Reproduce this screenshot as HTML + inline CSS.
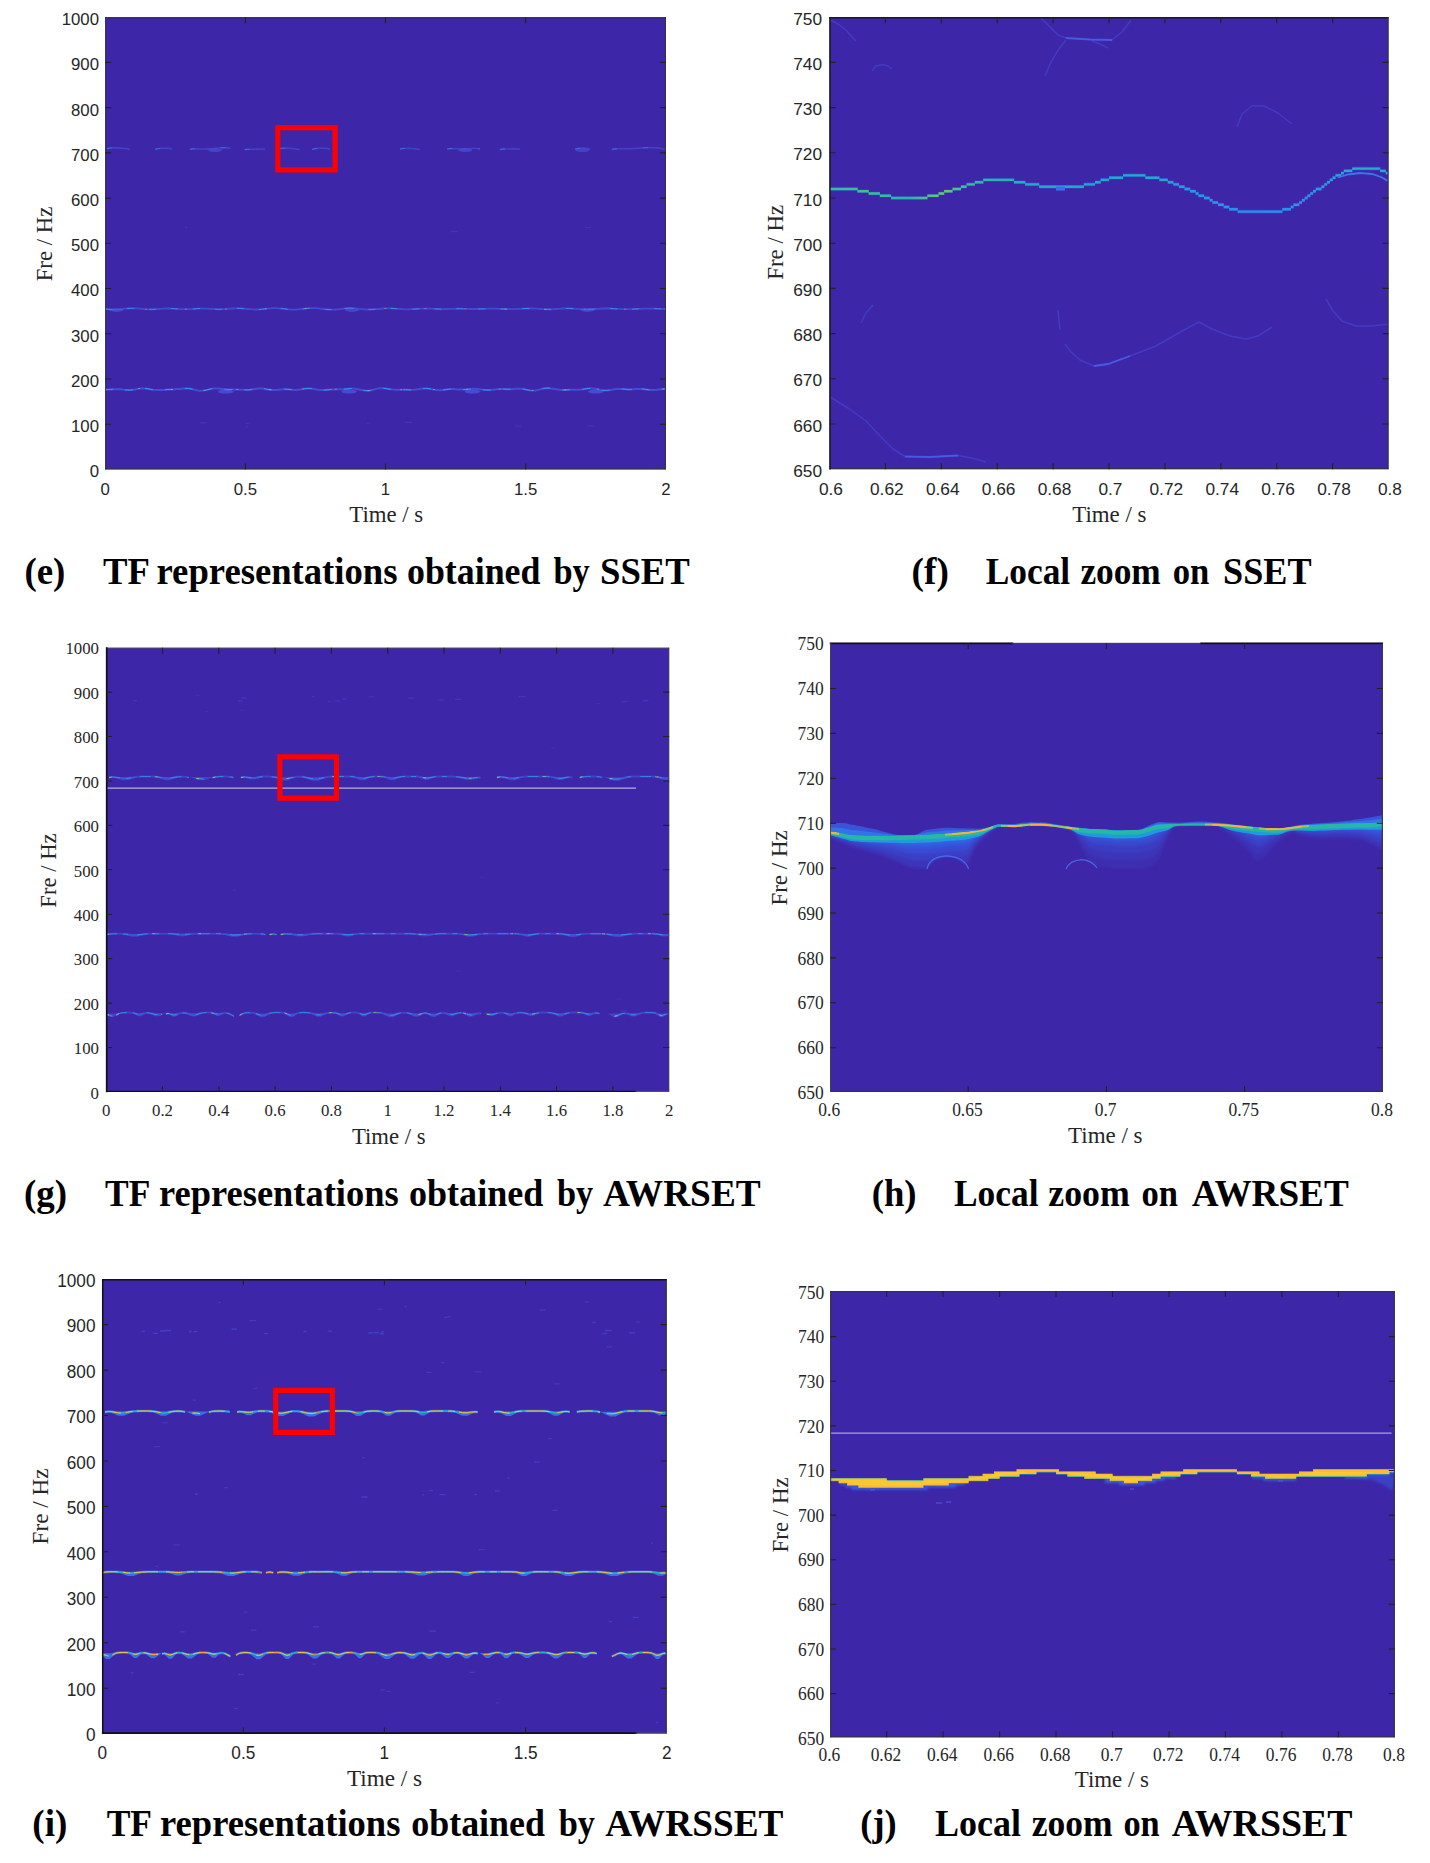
<!DOCTYPE html>
<html lang="en"><head><meta charset="utf-8">
<title>TF representations: SSET, AWRSET, AWRSSET</title>
<style>html,body{margin:0;padding:0;background:#fff}body{width:1430px;height:1863px;overflow:hidden}</style>
</head><body>
<svg width="1430" height="1863" viewBox="0 0 1430 1863" style="display:block">
<rect width="1430" height="1863" fill="#fff"/>
<g id="panel-e">
<rect x="105.2" y="17.2" width="560.7" height="452.2" fill="#3e26a8"/>
<clipPath id="clip-e"><rect x="105.2" y="17.2" width="560.7" height="452.2"/></clipPath>
<g clip-path="url(#clip-e)">
<path d="M106.9 148.7 109.4 148.1 112.0 147.9 114.5 147.9 117.1 147.9 119.7 148.1 122.2 148.3 124.8 148.5 127.3 148.8 129.9 149.5M155.1 149.3 157.9 148.7 160.7 148.4 163.5 148.3 166.3 148.3 169.1 148.4 171.9 148.9M189.9 149.3 192.4 148.9 194.9 148.9 197.4 148.9 200.0 149.0 202.5 149.0 205.0 149.0 207.5 148.9 210.1 148.8 212.6 148.6 215.1 148.4 217.6 148.2 220.1 147.9 222.7 147.8 225.2 147.8 227.7 147.9 230.2 148.4M244.8 149.6 247.3 149.3 249.9 149.3 252.4 149.2 254.9 149.2 257.4 149.1 260.0 149.0 262.5 149.0 265.0 149.3M280.1 148.6 282.9 148.2 285.7 148.1 288.5 148.3 291.4 148.5 294.2 148.7 297.0 149.1 299.8 149.7M312.1 149.4 314.7 148.7 317.2 148.4 319.8 148.3 322.4 148.2 324.9 148.3 327.5 148.5 330.0 149.1M400.1 149.0 402.9 148.5 405.7 148.3 408.5 148.4 411.3 148.5 414.1 148.7 416.9 149.0 419.8 149.6M447.2 149.0 449.7 148.6 452.2 148.5 454.7 148.6 457.2 148.7 459.7 148.7 462.2 148.8 464.7 148.8 467.2 148.7 469.7 148.6 472.2 148.5 474.7 148.4 477.2 148.5 479.7 148.9M499.9 149.5 502.5 149.1 505.0 149.0 507.5 149.0 510.0 149.0 512.5 148.9 515.1 148.9 517.6 149.0 520.1 149.3M575.1 149.1 577.6 148.5 580.1 148.3 582.6 148.1 585.2 148.2 587.7 148.5 590.2 149.0M612.1 149.4 614.6 148.9 617.1 148.8 619.6 148.8 622.1 148.8 624.6 148.8 627.1 148.8 629.6 148.7 632.2 148.6 634.7 148.5 637.2 148.3 639.7 148.2 642.2 148.0 644.7 147.8 647.2 147.7 649.7 147.6 652.2 147.7 654.7 147.7 657.2 147.9 659.8 148.2 662.3 148.7 664.8 149.4" fill="none" stroke="#4a63f2" stroke-width="1.6" stroke-opacity="0.45" stroke-linecap="butt"/>
<path d="M106.9 148.7 109.4 148.1 112.0 147.9 114.5 147.9 117.1 147.9 119.7 148.1 122.2 148.3 124.8 148.5 127.3 148.8 129.9 149.5M155.1 149.3 157.9 148.7 160.7 148.4 163.5 148.3 166.3 148.3 169.1 148.4 171.9 148.9M189.9 149.3 192.4 148.9 194.9 148.9 197.4 148.9 200.0 149.0 202.5 149.0 205.0 149.0 207.5 148.9 210.1 148.8 212.6 148.6 215.1 148.4 217.6 148.2 220.1 147.9 222.7 147.8 225.2 147.8 227.7 147.9 230.2 148.4M244.8 149.6 247.3 149.3 249.9 149.3 252.4 149.2 254.9 149.2 257.4 149.1 260.0 149.0 262.5 149.0 265.0 149.3M280.1 148.6 282.9 148.2 285.7 148.1 288.5 148.3 291.4 148.5 294.2 148.7 297.0 149.1 299.8 149.7M312.1 149.4 314.7 148.7 317.2 148.4 319.8 148.3 322.4 148.2 324.9 148.3 327.5 148.5 330.0 149.1M400.1 149.0 402.9 148.5 405.7 148.3 408.5 148.4 411.3 148.5 414.1 148.7 416.9 149.0 419.8 149.6M447.2 149.0 449.7 148.6 452.2 148.5 454.7 148.6 457.2 148.7 459.7 148.7 462.2 148.8 464.7 148.8 467.2 148.7 469.7 148.6 472.2 148.5 474.7 148.4 477.2 148.5 479.7 148.9M499.9 149.5 502.5 149.1 505.0 149.0 507.5 149.0 510.0 149.0 512.5 148.9 515.1 148.9 517.6 149.0 520.1 149.3M575.1 149.1 577.6 148.5 580.1 148.3 582.6 148.1 585.2 148.2 587.7 148.5 590.2 149.0M612.1 149.4 614.6 148.9 617.1 148.8 619.6 148.8 622.1 148.8 624.6 148.8 627.1 148.8 629.6 148.7 632.2 148.6 634.7 148.5 637.2 148.3 639.7 148.2 642.2 148.0 644.7 147.8 647.2 147.7 649.7 147.6 652.2 147.7 654.7 147.7 657.2 147.9 659.8 148.2 662.3 148.7 664.8 149.4" fill="none" stroke="#35a0e0" stroke-width="1.0" stroke-opacity="0.5" stroke-linecap="butt" stroke-dasharray="5 26"/>
<path d="M105.2 309.0 107.7 309.2 110.2 309.4 112.7 309.5 115.2 309.5 117.7 309.4 120.2 309.2 122.7 308.9 125.2 308.7 127.7 308.5 130.2 308.3 132.7 308.3 135.2 308.4 137.7 308.5 140.2 308.7 142.7 309.0 145.2 309.2 147.8 309.3 150.3 309.3 152.8 309.3 155.3 309.2 157.8 309.0 160.3 308.8 162.8 308.7 165.3 308.5 167.8 308.5 170.3 308.5 172.8 308.6 175.3 308.8 177.8 308.9 180.3 309.1 182.8 309.2 185.3 309.2 187.8 309.2 190.3 309.1 192.8 308.9 195.3 308.8 197.8 308.6 200.3 308.5 202.8 308.5 205.3 308.6 207.8 308.7 210.3 308.8 212.8 309.0 215.3 309.2 217.8 309.3 220.3 309.3 222.8 309.2 225.3 309.1 227.9 308.9 230.4 308.7 232.9 308.5 235.4 308.4 237.9 308.3 240.4 308.4 242.9 308.5 245.4 308.8 247.9 309.0 250.4 309.2 252.9 309.4 255.4 309.5 257.9 309.5 260.4 309.3 262.9 309.1 265.4 308.8 267.9 308.6 270.4 308.3 272.9 308.2 275.4 308.2 277.9 308.3 280.4 308.5 282.9 308.7 285.4 309.0 287.9 309.3 290.4 309.5 292.9 309.6 295.4 309.6 297.9 309.4 300.4 309.2 302.9 308.9 305.4 308.6 308.0 308.3 310.5 308.1 313.0 308.1 315.5 308.2 318.0 308.4 320.5 308.7 323.0 309.0 325.5 309.3 328.0 309.5 330.5 309.6 333.0 309.6 335.5 309.5 338.0 309.3 340.5 309.0 343.0 308.6 345.5 308.4 348.0 308.2 350.5 308.1 353.0 308.2 355.5 308.4 358.0 308.6 360.5 308.9 363.0 309.2 365.5 309.4 368.0 309.5 370.5 309.5 373.0 309.4 375.5 309.2 378.0 309.0 380.5 308.8 383.0 308.5 385.5 308.4 388.1 308.3 390.6 308.3 393.1 308.5 395.6 308.6 398.1 308.8 400.6 309.0 403.1 309.2 405.6 309.3 408.1 309.3 410.6 309.2 413.1 309.1 415.6 309.0 418.1 308.8 420.6 308.7 423.1 308.6 425.6 308.6 428.1 308.6 430.6 308.7 433.1 308.8 435.6 308.9 438.1 309.0 440.6 309.1 443.1 309.1 445.6 309.0 448.1 309.0 450.6 308.9 453.1 308.8 455.6 308.8 458.1 308.7 460.6 308.7 463.1 308.8 465.6 308.8 468.2 308.9 470.7 309.0 473.2 309.0 475.7 309.0 478.2 309.0 480.7 308.9 483.2 308.9 485.7 308.8 488.2 308.7 490.7 308.6 493.2 308.6 495.7 308.7 498.2 308.8 500.7 308.9 503.2 309.0 505.7 309.1 508.2 309.2 510.7 309.2 513.2 309.2 515.7 309.1 518.2 308.9 520.7 308.8 523.2 308.6 525.7 308.5 528.2 308.5 530.7 308.5 533.2 308.6 535.7 308.7 538.2 308.9 540.7 309.0 543.2 309.2 545.7 309.3 548.3 309.3 550.8 309.3 553.3 309.2 555.8 309.0 558.3 308.8 560.8 308.7 563.3 308.5 565.8 308.4 568.3 308.4 570.8 308.5 573.3 308.6 575.8 308.8 578.3 308.9 580.8 309.1 583.3 309.2 585.8 309.3 588.3 309.3 590.8 309.2 593.3 309.1 595.8 309.0 598.3 308.8 600.8 308.6 603.3 308.5 605.8 308.5 608.3 308.5 610.8 308.5 613.3 308.7 615.8 308.8 618.3 308.9 620.8 309.1 623.3 309.1 625.9 309.2 628.4 309.2 630.9 309.2 633.4 309.1 635.9 309.0 638.4 308.9 640.9 308.8 643.4 308.7 645.9 308.6 648.4 308.6 650.9 308.6 653.4 308.7 655.9 308.7 658.4 308.8 660.9 308.9 663.4 309.0 665.9 309.1" fill="none" stroke="#4668f5" stroke-width="1.8" stroke-opacity="0.55" stroke-linecap="butt"/>
<path d="M105.2 309.0 107.7 309.2 110.2 309.4 112.7 309.5 115.2 309.5 117.7 309.4 120.2 309.2 122.7 308.9 125.2 308.7 127.7 308.5 130.2 308.3 132.7 308.3 135.2 308.4 137.7 308.5 140.2 308.7 142.7 309.0 145.2 309.2 147.8 309.3 150.3 309.3 152.8 309.3 155.3 309.2 157.8 309.0 160.3 308.8 162.8 308.7 165.3 308.5 167.8 308.5 170.3 308.5 172.8 308.6 175.3 308.8 177.8 308.9 180.3 309.1 182.8 309.2 185.3 309.2 187.8 309.2 190.3 309.1 192.8 308.9 195.3 308.8 197.8 308.6 200.3 308.5 202.8 308.5 205.3 308.6 207.8 308.7 210.3 308.8 212.8 309.0 215.3 309.2 217.8 309.3 220.3 309.3 222.8 309.2 225.3 309.1 227.9 308.9 230.4 308.7 232.9 308.5 235.4 308.4 237.9 308.3 240.4 308.4 242.9 308.5 245.4 308.8 247.9 309.0 250.4 309.2 252.9 309.4 255.4 309.5 257.9 309.5 260.4 309.3 262.9 309.1 265.4 308.8 267.9 308.6 270.4 308.3 272.9 308.2 275.4 308.2 277.9 308.3 280.4 308.5 282.9 308.7 285.4 309.0 287.9 309.3 290.4 309.5 292.9 309.6 295.4 309.6 297.9 309.4 300.4 309.2 302.9 308.9 305.4 308.6 308.0 308.3 310.5 308.1 313.0 308.1 315.5 308.2 318.0 308.4 320.5 308.7 323.0 309.0 325.5 309.3 328.0 309.5 330.5 309.6 333.0 309.6 335.5 309.5 338.0 309.3 340.5 309.0 343.0 308.6 345.5 308.4 348.0 308.2 350.5 308.1 353.0 308.2 355.5 308.4 358.0 308.6 360.5 308.9 363.0 309.2 365.5 309.4 368.0 309.5 370.5 309.5 373.0 309.4 375.5 309.2 378.0 309.0 380.5 308.8 383.0 308.5 385.5 308.4 388.1 308.3 390.6 308.3 393.1 308.5 395.6 308.6 398.1 308.8 400.6 309.0 403.1 309.2 405.6 309.3 408.1 309.3 410.6 309.2 413.1 309.1 415.6 309.0 418.1 308.8 420.6 308.7 423.1 308.6 425.6 308.6 428.1 308.6 430.6 308.7 433.1 308.8 435.6 308.9 438.1 309.0 440.6 309.1 443.1 309.1 445.6 309.0 448.1 309.0 450.6 308.9 453.1 308.8 455.6 308.8 458.1 308.7 460.6 308.7 463.1 308.8 465.6 308.8 468.2 308.9 470.7 309.0 473.2 309.0 475.7 309.0 478.2 309.0 480.7 308.9 483.2 308.9 485.7 308.8 488.2 308.7 490.7 308.6 493.2 308.6 495.7 308.7 498.2 308.8 500.7 308.9 503.2 309.0 505.7 309.1 508.2 309.2 510.7 309.2 513.2 309.2 515.7 309.1 518.2 308.9 520.7 308.8 523.2 308.6 525.7 308.5 528.2 308.5 530.7 308.5 533.2 308.6 535.7 308.7 538.2 308.9 540.7 309.0 543.2 309.2 545.7 309.3 548.3 309.3 550.8 309.3 553.3 309.2 555.8 309.0 558.3 308.8 560.8 308.7 563.3 308.5 565.8 308.4 568.3 308.4 570.8 308.5 573.3 308.6 575.8 308.8 578.3 308.9 580.8 309.1 583.3 309.2 585.8 309.3 588.3 309.3 590.8 309.2 593.3 309.1 595.8 309.0 598.3 308.8 600.8 308.6 603.3 308.5 605.8 308.5 608.3 308.5 610.8 308.5 613.3 308.7 615.8 308.8 618.3 308.9 620.8 309.1 623.3 309.1 625.9 309.2 628.4 309.2 630.9 309.2 633.4 309.1 635.9 309.0 638.4 308.9 640.9 308.8 643.4 308.7 645.9 308.6 648.4 308.6 650.9 308.6 653.4 308.7 655.9 308.7 658.4 308.8 660.9 308.9 663.4 309.0 665.9 309.1" fill="none" stroke="#3aa6e6" stroke-width="1.0" stroke-opacity="0.7" stroke-linecap="butt" stroke-dasharray="7 15"/>
<path d="M105.2 309.0 107.7 309.2 110.2 309.4 112.7 309.5 115.2 309.5 117.7 309.4 120.2 309.2 122.7 308.9 125.2 308.7 127.7 308.5 130.2 308.3 132.7 308.3 135.2 308.4 137.7 308.5 140.2 308.7 142.7 309.0 145.2 309.2 147.8 309.3 150.3 309.3 152.8 309.3 155.3 309.2 157.8 309.0 160.3 308.8 162.8 308.7 165.3 308.5 167.8 308.5 170.3 308.5 172.8 308.6 175.3 308.8 177.8 308.9 180.3 309.1 182.8 309.2 185.3 309.2 187.8 309.2 190.3 309.1 192.8 308.9 195.3 308.8 197.8 308.6 200.3 308.5 202.8 308.5 205.3 308.6 207.8 308.7 210.3 308.8 212.8 309.0 215.3 309.2 217.8 309.3 220.3 309.3 222.8 309.2 225.3 309.1 227.9 308.9 230.4 308.7 232.9 308.5 235.4 308.4 237.9 308.3 240.4 308.4 242.9 308.5 245.4 308.8 247.9 309.0 250.4 309.2 252.9 309.4 255.4 309.5 257.9 309.5 260.4 309.3 262.9 309.1 265.4 308.8 267.9 308.6 270.4 308.3 272.9 308.2 275.4 308.2 277.9 308.3 280.4 308.5 282.9 308.7 285.4 309.0 287.9 309.3 290.4 309.5 292.9 309.6 295.4 309.6 297.9 309.4 300.4 309.2 302.9 308.9 305.4 308.6 308.0 308.3 310.5 308.1 313.0 308.1 315.5 308.2 318.0 308.4 320.5 308.7 323.0 309.0 325.5 309.3 328.0 309.5 330.5 309.6 333.0 309.6 335.5 309.5 338.0 309.3 340.5 309.0 343.0 308.6 345.5 308.4 348.0 308.2 350.5 308.1 353.0 308.2 355.5 308.4 358.0 308.6 360.5 308.9 363.0 309.2 365.5 309.4 368.0 309.5 370.5 309.5 373.0 309.4 375.5 309.2 378.0 309.0 380.5 308.8 383.0 308.5 385.5 308.4 388.1 308.3 390.6 308.3 393.1 308.5 395.6 308.6 398.1 308.8 400.6 309.0 403.1 309.2 405.6 309.3 408.1 309.3 410.6 309.2 413.1 309.1 415.6 309.0 418.1 308.8 420.6 308.7 423.1 308.6 425.6 308.6 428.1 308.6 430.6 308.7 433.1 308.8 435.6 308.9 438.1 309.0 440.6 309.1 443.1 309.1 445.6 309.0 448.1 309.0 450.6 308.9 453.1 308.8 455.6 308.8 458.1 308.7 460.6 308.7 463.1 308.8 465.6 308.8 468.2 308.9 470.7 309.0 473.2 309.0 475.7 309.0 478.2 309.0 480.7 308.9 483.2 308.9 485.7 308.8 488.2 308.7 490.7 308.6 493.2 308.6 495.7 308.7 498.2 308.8 500.7 308.9 503.2 309.0 505.7 309.1 508.2 309.2 510.7 309.2 513.2 309.2 515.7 309.1 518.2 308.9 520.7 308.8 523.2 308.6 525.7 308.5 528.2 308.5 530.7 308.5 533.2 308.6 535.7 308.7 538.2 308.9 540.7 309.0 543.2 309.2 545.7 309.3 548.3 309.3 550.8 309.3 553.3 309.2 555.8 309.0 558.3 308.8 560.8 308.7 563.3 308.5 565.8 308.4 568.3 308.4 570.8 308.5 573.3 308.6 575.8 308.8 578.3 308.9 580.8 309.1 583.3 309.2 585.8 309.3 588.3 309.3 590.8 309.2 593.3 309.1 595.8 309.0 598.3 308.8 600.8 308.6 603.3 308.5 605.8 308.5 608.3 308.5 610.8 308.5 613.3 308.7 615.8 308.8 618.3 308.9 620.8 309.1 623.3 309.1 625.9 309.2 628.4 309.2 630.9 309.2 633.4 309.1 635.9 309.0 638.4 308.9 640.9 308.8 643.4 308.7 645.9 308.6 648.4 308.6 650.9 308.6 653.4 308.7 655.9 308.7 658.4 308.8 660.9 308.9 663.4 309.0 665.9 309.1" fill="none" stroke="#e6b84a" stroke-width="0.9" stroke-opacity="0.55" stroke-linecap="butt" stroke-dasharray="2 38"/>
<path d="M105.2 389.6 107.7 389.6 110.2 389.5 112.7 389.3 115.2 389.2 117.7 389.1 120.2 389.3 122.7 389.6 125.2 389.9 127.7 390.1 130.2 390.1 132.7 389.8 135.2 389.4 137.7 388.8 140.2 388.4 142.7 388.3 145.2 388.4 147.8 388.8 150.3 389.3 152.8 389.7 155.3 390.0 157.8 390.1 160.3 390.0 162.8 389.9 165.3 389.7 167.8 389.5 170.3 389.5 172.8 389.4 175.3 389.3 177.8 389.1 180.3 388.9 182.8 388.6 185.3 388.4 187.8 388.4 190.3 388.7 192.8 389.3 195.3 389.9 197.8 390.4 200.3 390.7 202.8 390.6 205.3 390.3 207.8 389.7 210.3 389.0 212.8 388.6 215.3 388.4 217.8 388.4 220.3 388.7 222.8 389.0 225.3 389.3 227.9 389.5 230.4 389.6 232.9 389.5 235.4 389.5 237.9 389.5 240.4 389.7 242.9 389.8 245.4 389.9 247.9 389.9 250.4 389.7 252.9 389.3 255.4 388.9 257.9 388.6 260.4 388.5 262.9 388.6 265.4 389.0 267.9 389.4 270.4 389.7 272.9 389.9 275.4 389.9 277.9 389.7 280.4 389.4 282.9 389.2 285.4 389.2 287.9 389.3 290.4 389.6 292.9 389.8 295.4 389.9 297.9 389.7 300.4 389.4 302.9 389.0 305.4 388.6 308.0 388.5 310.5 388.5 313.0 388.8 315.5 389.3 318.0 389.7 320.5 390.0 323.0 390.1 325.5 390.0 328.0 389.8 330.5 389.6 333.0 389.4 335.5 389.3 338.0 389.3 340.5 389.3 343.0 389.2 345.5 389.0 348.0 388.8 350.5 388.6 353.0 388.6 355.5 388.8 358.0 389.2 360.5 389.8 363.0 390.3 365.5 390.6 368.0 390.7 370.5 390.4 373.0 389.8 375.5 389.1 378.0 388.6 380.5 388.2 383.0 388.2 385.5 388.5 388.1 388.9 390.6 389.3 393.1 389.6 395.6 389.7 398.1 389.7 400.6 389.7 403.1 389.7 405.6 389.7 408.1 389.8 410.6 389.9 413.1 389.8 415.6 389.6 418.1 389.2 420.6 388.8 423.1 388.5 425.6 388.4 428.1 388.5 430.6 388.9 433.1 389.4 435.6 389.8 438.1 390.1 440.6 390.2 443.1 390.0 445.6 389.6 448.1 389.3 450.6 389.1 453.1 389.1 455.6 389.2 458.1 389.4 460.6 389.6 463.1 389.6 465.6 389.4 468.2 389.2 470.7 388.9 473.2 388.7 475.7 388.7 478.2 389.0 480.7 389.4 483.2 389.8 485.7 390.0 488.2 390.1 490.7 390.0 493.2 389.7 495.7 389.4 498.2 389.2 500.7 389.1 503.2 389.1 505.7 389.2 508.2 389.2 510.7 389.2 513.2 389.0 515.7 388.8 518.2 388.7 520.7 388.8 523.2 389.1 525.7 389.6 528.2 390.1 530.7 390.5 533.2 390.6 535.7 390.4 538.2 389.9 540.7 389.2 543.2 388.6 545.7 388.2 548.3 388.1 550.8 388.4 553.3 388.8 555.8 389.2 558.3 389.6 560.8 389.9 563.3 389.9 565.8 389.9 568.3 389.8 570.8 389.8 573.3 389.8 575.8 389.8 578.3 389.7 580.8 389.5 583.3 389.2 585.8 388.8 588.3 388.5 590.8 388.3 593.3 388.4 595.8 388.8 598.3 389.3 600.8 389.9 603.3 390.3 605.8 390.4 608.3 390.2 610.8 389.9 613.3 389.4 615.8 389.0 618.3 388.9 620.8 388.9 623.3 389.1 625.9 389.3 628.4 389.4 630.9 389.4 633.4 389.3 635.9 389.1 638.4 388.9 640.9 388.9 643.4 389.1 645.9 389.4 648.4 389.8 650.9 390.0 653.4 390.1 655.9 389.9 658.4 389.6 660.9 389.3 663.4 389.0 665.9 388.9" fill="none" stroke="#4668f5" stroke-width="2.0" stroke-opacity="0.6" stroke-linecap="butt"/>
<path d="M105.2 389.6 107.7 389.6 110.2 389.5 112.7 389.3 115.2 389.2 117.7 389.1 120.2 389.3 122.7 389.6 125.2 389.9 127.7 390.1 130.2 390.1 132.7 389.8 135.2 389.4 137.7 388.8 140.2 388.4 142.7 388.3 145.2 388.4 147.8 388.8 150.3 389.3 152.8 389.7 155.3 390.0 157.8 390.1 160.3 390.0 162.8 389.9 165.3 389.7 167.8 389.5 170.3 389.5 172.8 389.4 175.3 389.3 177.8 389.1 180.3 388.9 182.8 388.6 185.3 388.4 187.8 388.4 190.3 388.7 192.8 389.3 195.3 389.9 197.8 390.4 200.3 390.7 202.8 390.6 205.3 390.3 207.8 389.7 210.3 389.0 212.8 388.6 215.3 388.4 217.8 388.4 220.3 388.7 222.8 389.0 225.3 389.3 227.9 389.5 230.4 389.6 232.9 389.5 235.4 389.5 237.9 389.5 240.4 389.7 242.9 389.8 245.4 389.9 247.9 389.9 250.4 389.7 252.9 389.3 255.4 388.9 257.9 388.6 260.4 388.5 262.9 388.6 265.4 389.0 267.9 389.4 270.4 389.7 272.9 389.9 275.4 389.9 277.9 389.7 280.4 389.4 282.9 389.2 285.4 389.2 287.9 389.3 290.4 389.6 292.9 389.8 295.4 389.9 297.9 389.7 300.4 389.4 302.9 389.0 305.4 388.6 308.0 388.5 310.5 388.5 313.0 388.8 315.5 389.3 318.0 389.7 320.5 390.0 323.0 390.1 325.5 390.0 328.0 389.8 330.5 389.6 333.0 389.4 335.5 389.3 338.0 389.3 340.5 389.3 343.0 389.2 345.5 389.0 348.0 388.8 350.5 388.6 353.0 388.6 355.5 388.8 358.0 389.2 360.5 389.8 363.0 390.3 365.5 390.6 368.0 390.7 370.5 390.4 373.0 389.8 375.5 389.1 378.0 388.6 380.5 388.2 383.0 388.2 385.5 388.5 388.1 388.9 390.6 389.3 393.1 389.6 395.6 389.7 398.1 389.7 400.6 389.7 403.1 389.7 405.6 389.7 408.1 389.8 410.6 389.9 413.1 389.8 415.6 389.6 418.1 389.2 420.6 388.8 423.1 388.5 425.6 388.4 428.1 388.5 430.6 388.9 433.1 389.4 435.6 389.8 438.1 390.1 440.6 390.2 443.1 390.0 445.6 389.6 448.1 389.3 450.6 389.1 453.1 389.1 455.6 389.2 458.1 389.4 460.6 389.6 463.1 389.6 465.6 389.4 468.2 389.2 470.7 388.9 473.2 388.7 475.7 388.7 478.2 389.0 480.7 389.4 483.2 389.8 485.7 390.0 488.2 390.1 490.7 390.0 493.2 389.7 495.7 389.4 498.2 389.2 500.7 389.1 503.2 389.1 505.7 389.2 508.2 389.2 510.7 389.2 513.2 389.0 515.7 388.8 518.2 388.7 520.7 388.8 523.2 389.1 525.7 389.6 528.2 390.1 530.7 390.5 533.2 390.6 535.7 390.4 538.2 389.9 540.7 389.2 543.2 388.6 545.7 388.2 548.3 388.1 550.8 388.4 553.3 388.8 555.8 389.2 558.3 389.6 560.8 389.9 563.3 389.9 565.8 389.9 568.3 389.8 570.8 389.8 573.3 389.8 575.8 389.8 578.3 389.7 580.8 389.5 583.3 389.2 585.8 388.8 588.3 388.5 590.8 388.3 593.3 388.4 595.8 388.8 598.3 389.3 600.8 389.9 603.3 390.3 605.8 390.4 608.3 390.2 610.8 389.9 613.3 389.4 615.8 389.0 618.3 388.9 620.8 388.9 623.3 389.1 625.9 389.3 628.4 389.4 630.9 389.4 633.4 389.3 635.9 389.1 638.4 388.9 640.9 388.9 643.4 389.1 645.9 389.4 648.4 389.8 650.9 390.0 653.4 390.1 655.9 389.9 658.4 389.6 660.9 389.3 663.4 389.0 665.9 388.9" fill="none" stroke="#3aa6e6" stroke-width="1.0" stroke-opacity="0.8" stroke-linecap="butt" stroke-dasharray="8 12"/>
<path d="M105.2 389.6 107.7 389.6 110.2 389.5 112.7 389.3 115.2 389.2 117.7 389.1 120.2 389.3 122.7 389.6 125.2 389.9 127.7 390.1 130.2 390.1 132.7 389.8 135.2 389.4 137.7 388.8 140.2 388.4 142.7 388.3 145.2 388.4 147.8 388.8 150.3 389.3 152.8 389.7 155.3 390.0 157.8 390.1 160.3 390.0 162.8 389.9 165.3 389.7 167.8 389.5 170.3 389.5 172.8 389.4 175.3 389.3 177.8 389.1 180.3 388.9 182.8 388.6 185.3 388.4 187.8 388.4 190.3 388.7 192.8 389.3 195.3 389.9 197.8 390.4 200.3 390.7 202.8 390.6 205.3 390.3 207.8 389.7 210.3 389.0 212.8 388.6 215.3 388.4 217.8 388.4 220.3 388.7 222.8 389.0 225.3 389.3 227.9 389.5 230.4 389.6 232.9 389.5 235.4 389.5 237.9 389.5 240.4 389.7 242.9 389.8 245.4 389.9 247.9 389.9 250.4 389.7 252.9 389.3 255.4 388.9 257.9 388.6 260.4 388.5 262.9 388.6 265.4 389.0 267.9 389.4 270.4 389.7 272.9 389.9 275.4 389.9 277.9 389.7 280.4 389.4 282.9 389.2 285.4 389.2 287.9 389.3 290.4 389.6 292.9 389.8 295.4 389.9 297.9 389.7 300.4 389.4 302.9 389.0 305.4 388.6 308.0 388.5 310.5 388.5 313.0 388.8 315.5 389.3 318.0 389.7 320.5 390.0 323.0 390.1 325.5 390.0 328.0 389.8 330.5 389.6 333.0 389.4 335.5 389.3 338.0 389.3 340.5 389.3 343.0 389.2 345.5 389.0 348.0 388.8 350.5 388.6 353.0 388.6 355.5 388.8 358.0 389.2 360.5 389.8 363.0 390.3 365.5 390.6 368.0 390.7 370.5 390.4 373.0 389.8 375.5 389.1 378.0 388.6 380.5 388.2 383.0 388.2 385.5 388.5 388.1 388.9 390.6 389.3 393.1 389.6 395.6 389.7 398.1 389.7 400.6 389.7 403.1 389.7 405.6 389.7 408.1 389.8 410.6 389.9 413.1 389.8 415.6 389.6 418.1 389.2 420.6 388.8 423.1 388.5 425.6 388.4 428.1 388.5 430.6 388.9 433.1 389.4 435.6 389.8 438.1 390.1 440.6 390.2 443.1 390.0 445.6 389.6 448.1 389.3 450.6 389.1 453.1 389.1 455.6 389.2 458.1 389.4 460.6 389.6 463.1 389.6 465.6 389.4 468.2 389.2 470.7 388.9 473.2 388.7 475.7 388.7 478.2 389.0 480.7 389.4 483.2 389.8 485.7 390.0 488.2 390.1 490.7 390.0 493.2 389.7 495.7 389.4 498.2 389.2 500.7 389.1 503.2 389.1 505.7 389.2 508.2 389.2 510.7 389.2 513.2 389.0 515.7 388.8 518.2 388.7 520.7 388.8 523.2 389.1 525.7 389.6 528.2 390.1 530.7 390.5 533.2 390.6 535.7 390.4 538.2 389.9 540.7 389.2 543.2 388.6 545.7 388.2 548.3 388.1 550.8 388.4 553.3 388.8 555.8 389.2 558.3 389.6 560.8 389.9 563.3 389.9 565.8 389.9 568.3 389.8 570.8 389.8 573.3 389.8 575.8 389.8 578.3 389.7 580.8 389.5 583.3 389.2 585.8 388.8 588.3 388.5 590.8 388.3 593.3 388.4 595.8 388.8 598.3 389.3 600.8 389.9 603.3 390.3 605.8 390.4 608.3 390.2 610.8 389.9 613.3 389.4 615.8 389.0 618.3 388.9 620.8 388.9 623.3 389.1 625.9 389.3 628.4 389.4 630.9 389.4 633.4 389.3 635.9 389.1 638.4 388.9 640.9 388.9 643.4 389.1 645.9 389.4 648.4 389.8 650.9 390.0 653.4 390.1 655.9 389.9 658.4 389.6 660.9 389.3 663.4 389.0 665.9 388.9" fill="none" stroke="#e6b84a" stroke-width="0.9" stroke-opacity="0.6" stroke-linecap="butt" stroke-dasharray="2 31"/>
<ellipse cx="225.8" cy="391.6" rx="8.0" ry="2.0" fill="#4a6cf5" fill-opacity="0.55"/>
<ellipse cx="349.1" cy="391.6" rx="8.0" ry="2.0" fill="#4a6cf5" fill-opacity="0.55"/>
<ellipse cx="472.5" cy="391.6" rx="8.0" ry="2.0" fill="#4a6cf5" fill-opacity="0.55"/>
<ellipse cx="595.8" cy="391.6" rx="8.0" ry="2.0" fill="#4a6cf5" fill-opacity="0.55"/>
<ellipse cx="116.4" cy="310.1" rx="7.0" ry="1.8" fill="#4a6cf5" fill-opacity="0.45"/>
<ellipse cx="351.9" cy="310.1" rx="7.0" ry="1.8" fill="#4a6cf5" fill-opacity="0.45"/>
<ellipse cx="587.4" cy="310.1" rx="7.0" ry="1.8" fill="#4a6cf5" fill-opacity="0.45"/>
<ellipse cx="215.1" cy="150.3" rx="7.0" ry="1.8" fill="#4a6cf5" fill-opacity="0.4"/>
<ellipse cx="465.2" cy="150.3" rx="7.0" ry="1.8" fill="#4a6cf5" fill-opacity="0.4"/>
<ellipse cx="582.4" cy="150.3" rx="7.0" ry="1.8" fill="#4a6cf5" fill-opacity="0.4"/>
<path d="M451.0 231.5h6.7M515.2 426.2h5.9M245.9 426.6h2.6M366.6 423.5h2.5M246.0 423.6h2.9M585.2 227.7h6.0M185.3 227.5h2.0M587.3 425.8h6.8M200.2 422.9h6.8M405.1 422.3h6.8" stroke="#4a5fe6" stroke-width="1.3" stroke-opacity="0.25" fill="none"/>
<rect x="277.8" y="127.7" width="57.3" height="42.2" fill="none" stroke="#fe0000" stroke-width="5.2"/>
</g>
<path d="M105.7 17.7L665.4 17.7" stroke="#333" stroke-width="1.0" stroke-linecap="square" fill="none"/>
<path d="M665.4 17.7L665.4 468.9" stroke="#333" stroke-width="1.0" stroke-linecap="square" fill="none"/>
<path d="M105.7 468.9L665.4 468.9" stroke="#333" stroke-width="1.0" stroke-linecap="square" fill="none"/>
<path d="M105.7 17.7L105.7 468.9" stroke="#333" stroke-width="1.0" stroke-linecap="square" fill="none"/>
<path d="M245.4 469.4v-6.0M245.4 17.2v6.0M385.5 469.4v-6.0M385.5 17.2v6.0M525.7 469.4v-6.0M525.7 17.2v6.0M105.2 424.2h6.0M665.9 424.2h-6.0M105.2 379.0h6.0M665.9 379.0h-6.0M105.2 333.7h6.0M665.9 333.7h-6.0M105.2 288.5h6.0M665.9 288.5h-6.0M105.2 243.3h6.0M665.9 243.3h-6.0M105.2 198.1h6.0M665.9 198.1h-6.0M105.2 152.9h6.0M665.9 152.9h-6.0M105.2 107.6h6.0M665.9 107.6h-6.0M105.2 62.4h6.0M665.9 62.4h-6.0" stroke="#222" stroke-width="1.1" fill="none"/>
<g font-family="'Liberation Sans', Arial, sans-serif" font-size="17.3" fill="#262626">
<g text-anchor="end">
<text transform="translate(99.0 477.3) scale(0.97 1)">0</text>
<text transform="translate(99.0 432.1) scale(0.97 1)">100</text>
<text transform="translate(99.0 386.9) scale(0.97 1)">200</text>
<text transform="translate(99.0 341.6) scale(0.97 1)">300</text>
<text transform="translate(99.0 296.4) scale(0.97 1)">400</text>
<text transform="translate(99.0 251.2) scale(0.97 1)">500</text>
<text transform="translate(99.0 206.0) scale(0.97 1)">600</text>
<text transform="translate(99.0 160.8) scale(0.97 1)">700</text>
<text transform="translate(99.0 115.5) scale(0.97 1)">800</text>
<text transform="translate(99.0 70.3) scale(0.97 1)">900</text>
<text transform="translate(99.0 25.1) scale(0.97 1)">1000</text>
</g><g text-anchor="middle">
<text transform="translate(105.2 495.0) scale(0.97 1)">0</text>
<text transform="translate(245.4 495.0) scale(0.97 1)">0.5</text>
<text transform="translate(385.5 495.0) scale(0.97 1)">1</text>
<text transform="translate(525.7 495.0) scale(0.97 1)">1.5</text>
<text transform="translate(665.9 495.0) scale(0.97 1)">2</text>
</g></g>
<g font-family="'Liberation Serif', 'Times New Roman', serif" font-size="22.8" fill="#262626" text-anchor="middle">
<text x="386.3" y="521.6">Time / s</text>
<text transform="translate(52.0 244.0) rotate(-90)">Fre / Hz</text>
</g></g>
<g id="panel-f">
<rect x="829.5" y="17.2" width="559.0" height="452.0" fill="#3e26a8"/>
<clipPath id="clip-f"><rect x="829.5" y="17.2" width="559.0" height="452.0"/></clipPath>
<g clip-path="url(#clip-f)">
<path d="M830.0 20.0 838.0 24.0 846.0 30.0 852.0 37.0 856.0 41.0M872.0 71.0 876.0 66.0 882.0 64.5 888.0 66.0 892.0 69.0M1040.0 17.0 1050.0 27.0 1058.0 35.0 1066.0 38.0 1090.0 39.5 1112.0 40.0 1122.0 32.0 1131.0 20.0M1066.0 40.0 1058.0 50.0 1050.0 64.0 1045.0 76.0M1092.0 41.0 1100.0 44.0 1108.0 48.0M1237.0 127.0 1242.0 114.0 1252.0 106.0 1264.0 106.0 1278.0 113.0 1292.0 124.0M830.0 397.0 848.0 408.0 866.0 421.0 880.0 436.0 893.0 449.0 905.0 456.5 930.0 457.0 958.0 455.5 972.0 458.0 986.0 462.0M1065.0 344.0 1071.0 352.0 1080.0 360.0 1094.0 366.0 1108.0 364.0 1130.0 356.0 1156.0 346.0 1182.0 331.0 1199.0 322.0 1212.0 329.0 1230.0 336.0 1246.0 339.0 1258.0 336.0 1272.0 327.0M1326.0 299.0 1333.0 311.0 1342.0 321.0 1356.0 326.0 1372.0 326.0 1388.0 324.0M861.0 323.0 866.0 313.0 873.0 305.0M1058.0 310.0 1060.0 330.0" fill="none" stroke="#4a55e6" stroke-width="1.5" stroke-opacity="0.42" stroke-linejoin="round"/>
<path d="M1066.0 38.0 1090.0 39.5 1112.0 40.0M905.0 456.5 930.0 457.0 958.0 455.5M1094.0 366.0 1108.0 364.0 1130.0 356.0" fill="none" stroke="#4c68f2" stroke-width="1.8" stroke-opacity="0.7"/>
<linearGradient id="gf" gradientUnits="userSpaceOnUse" x1="829" y1="0" x2="1389" y2="0"><stop offset="0" stop-color="#2fbf9c"/><stop offset="0.07" stop-color="#3cc38f"/><stop offset="0.14" stop-color="#22b6ad"/><stop offset="0.2" stop-color="#66c96c"/><stop offset="0.27" stop-color="#2bbaa4"/><stop offset="0.33" stop-color="#1fb2b8"/><stop offset="0.41" stop-color="#1ea9cb"/><stop offset="0.5" stop-color="#21a6d4"/><stop offset="0.56" stop-color="#1fb0c0"/><stop offset="0.64" stop-color="#259bdf"/><stop offset="0.75" stop-color="#2d8cf0"/><stop offset="0.86" stop-color="#2b93ea"/><stop offset="0.93" stop-color="#23b0c6"/><stop offset="1" stop-color="#27a8d4"/></linearGradient>
<path d="M829.5 187.2h2.94v3.6H829.5zM832.3 187.2h2.94v3.6H832.3zM835.1 187.2h2.94v3.6H835.1zM837.9 187.2h2.94v3.6H837.9zM840.7 187.2h2.94v3.6H840.7zM843.5 187.2h2.94v3.6H843.5zM846.3 187.2h2.94v3.6H846.3zM849.1 187.2h2.94v3.6H849.1zM851.9 187.2h2.94v3.6H851.9zM854.7 187.2h2.94v3.6H854.7zM857.4 189.4h2.94v3.6H857.4zM860.2 189.4h2.94v3.6H860.2zM863.0 189.4h2.94v3.6H863.0zM865.8 189.4h2.94v3.6H865.8zM868.6 191.7h2.94v3.6H868.6zM871.4 191.7h2.94v3.6H871.4zM874.2 191.7h2.94v3.6H874.2zM877.0 191.7h2.94v3.6H877.0zM879.8 193.9h2.94v3.6H879.8zM882.6 193.9h2.94v3.6H882.6zM885.4 193.9h2.94v3.6H885.4zM888.2 193.9h2.94v3.6H888.2zM891.0 196.2h2.94v3.6H891.0zM893.8 196.2h2.94v3.6H893.8zM896.6 196.2h2.94v3.6H896.6zM899.4 196.2h2.94v3.6H899.4zM902.2 196.2h2.94v3.6H902.2zM905.0 196.2h2.94v3.6H905.0zM907.8 196.2h2.94v3.6H907.8zM910.6 196.2h2.94v3.6H910.6zM913.3 196.2h2.94v3.6H913.3zM916.1 196.2h2.94v3.6H916.1zM918.9 196.2h2.94v3.6H918.9zM921.7 196.2h2.94v3.6H921.7zM924.5 196.2h2.94v3.6H924.5zM927.3 193.9h2.94v3.6H927.3zM930.1 193.9h2.94v3.6H930.1zM932.9 193.9h2.94v3.6H932.9zM935.7 193.9h2.94v3.6H935.7zM938.5 191.7h2.94v3.6H938.5zM941.3 191.7h2.94v3.6H941.3zM944.1 189.4h2.94v3.6H944.1zM946.9 189.4h2.94v3.6H946.9zM949.7 189.4h2.94v3.6H949.7zM952.5 187.2h2.94v3.6H952.5zM955.3 187.2h2.94v3.6H955.3zM958.1 187.2h2.94v3.6H958.1zM960.9 184.9h2.94v3.6H960.9zM963.7 184.9h2.94v3.6H963.7zM966.5 182.6h2.94v3.6H966.5zM969.2 182.6h2.94v3.6H969.2zM972.0 182.6h2.94v3.6H972.0zM974.8 180.4h2.94v3.6H974.8zM977.6 180.4h2.94v3.6H977.6zM980.4 180.4h2.94v3.6H980.4zM983.2 178.1h2.94v3.6H983.2zM986.0 178.1h2.94v3.6H986.0zM988.8 178.1h2.94v3.6H988.8zM991.6 178.1h2.94v3.6H991.6zM994.4 178.1h2.94v3.6H994.4zM997.2 178.1h2.94v3.6H997.2zM1000.0 178.1h2.94v3.6H1000.0zM1002.8 178.1h2.94v3.6H1002.8zM1005.6 178.1h2.94v3.6H1005.6zM1008.4 178.1h2.94v3.6H1008.4zM1011.2 178.1h2.94v3.6H1011.2zM1014.0 180.4h2.94v3.6H1014.0zM1016.8 180.4h2.94v3.6H1016.8zM1019.6 180.4h2.94v3.6H1019.6zM1022.4 180.4h2.94v3.6H1022.4zM1025.1 182.6h2.94v3.6H1025.1zM1027.9 182.6h2.94v3.6H1027.9zM1030.7 182.6h2.94v3.6H1030.7zM1033.5 182.6h2.94v3.6H1033.5zM1036.3 182.6h2.94v3.6H1036.3zM1039.1 184.9h2.94v3.6H1039.1zM1041.9 184.9h2.94v3.6H1041.9zM1044.7 184.9h2.94v3.6H1044.7zM1047.5 184.9h2.94v3.6H1047.5zM1050.3 184.9h2.94v3.6H1050.3zM1053.1 184.9h2.94v3.6H1053.1zM1055.9 184.9h2.94v3.6H1055.9zM1058.7 184.9h2.94v3.6H1058.7zM1061.5 184.9h2.94v3.6H1061.5zM1064.3 184.9h2.94v3.6H1064.3zM1067.1 184.9h2.94v3.6H1067.1zM1069.9 184.9h2.94v3.6H1069.9zM1072.7 184.9h2.94v3.6H1072.7zM1075.5 184.9h2.94v3.6H1075.5zM1078.3 184.9h2.94v3.6H1078.3zM1081.0 184.9h2.94v3.6H1081.0zM1083.8 182.6h2.94v3.6H1083.8zM1086.6 182.6h2.94v3.6H1086.6zM1089.4 182.6h2.94v3.6H1089.4zM1092.2 182.6h2.94v3.6H1092.2zM1095.0 180.4h2.94v3.6H1095.0zM1097.8 180.4h2.94v3.6H1097.8zM1100.6 178.1h2.94v3.6H1100.6zM1103.4 178.1h2.94v3.6H1103.4zM1106.2 178.1h2.94v3.6H1106.2zM1109.0 175.9h2.94v3.6H1109.0zM1111.8 175.9h2.94v3.6H1111.8zM1114.6 175.9h2.94v3.6H1114.6zM1117.4 175.9h2.94v3.6H1117.4zM1120.2 175.9h2.94v3.6H1120.2zM1123.0 173.6h2.94v3.6H1123.0zM1125.8 173.6h2.94v3.6H1125.8zM1128.6 173.6h2.94v3.6H1128.6zM1131.4 173.6h2.94v3.6H1131.4zM1134.2 173.6h2.94v3.6H1134.2zM1137.0 173.6h2.94v3.6H1137.0zM1139.7 173.6h2.94v3.6H1139.7zM1142.5 173.6h2.94v3.6H1142.5zM1145.3 175.9h2.94v3.6H1145.3zM1148.1 175.9h2.94v3.6H1148.1zM1150.9 175.9h2.94v3.6H1150.9zM1153.7 175.9h2.94v3.6H1153.7zM1156.5 175.9h2.94v3.6H1156.5zM1159.3 178.1h2.94v3.6H1159.3zM1162.1 178.1h2.94v3.6H1162.1zM1164.9 178.1h2.94v3.6H1164.9zM1167.7 180.4h2.94v3.6H1167.7zM1170.5 180.4h2.94v3.6H1170.5zM1173.3 182.6h2.94v3.6H1173.3zM1176.1 182.6h2.94v3.6H1176.1zM1178.9 184.9h2.94v3.6H1178.9zM1181.7 184.9h2.94v3.6H1181.7zM1184.5 187.2h2.94v3.6H1184.5zM1187.3 187.2h2.94v3.6H1187.3zM1190.1 189.4h2.94v3.6H1190.1zM1192.9 189.4h2.94v3.6H1192.9zM1195.6 191.7h2.94v3.6H1195.6zM1198.4 193.9h2.94v3.6H1198.4zM1201.2 193.9h2.94v3.6H1201.2zM1204.0 196.2h2.94v3.6H1204.0zM1206.8 196.2h2.94v3.6H1206.8zM1209.6 198.5h2.94v3.6H1209.6zM1212.4 200.7h2.94v3.6H1212.4zM1215.2 200.7h2.94v3.6H1215.2zM1218.0 203.0h2.94v3.6H1218.0zM1220.8 203.0h2.94v3.6H1220.8zM1223.6 205.2h2.94v3.6H1223.6zM1226.4 205.2h2.94v3.6H1226.4zM1229.2 207.5h2.94v3.6H1229.2zM1232.0 207.5h2.94v3.6H1232.0zM1234.8 207.5h2.94v3.6H1234.8zM1237.6 209.8h2.94v3.6H1237.6zM1240.4 209.8h2.94v3.6H1240.4zM1243.2 209.8h2.94v3.6H1243.2zM1246.0 209.8h2.94v3.6H1246.0zM1248.8 209.8h2.94v3.6H1248.8zM1251.5 209.8h2.94v3.6H1251.5zM1254.3 209.8h2.94v3.6H1254.3zM1257.1 209.8h2.94v3.6H1257.1zM1259.9 209.8h2.94v3.6H1259.9zM1262.7 209.8h2.94v3.6H1262.7zM1265.5 209.8h2.94v3.6H1265.5zM1268.3 209.8h2.94v3.6H1268.3zM1271.1 209.8h2.94v3.6H1271.1zM1273.9 209.8h2.94v3.6H1273.9zM1276.7 209.8h2.94v3.6H1276.7zM1279.5 209.8h2.94v3.6H1279.5zM1282.3 207.5h2.94v3.6H1282.3zM1285.1 207.5h2.94v3.6H1285.1zM1287.9 207.5h2.94v3.6H1287.9zM1290.7 205.2h2.94v3.6H1290.7zM1293.5 203.0h2.94v3.6H1293.5zM1296.3 203.0h2.94v3.6H1296.3zM1299.1 200.7h2.94v3.6H1299.1zM1301.9 198.5h2.94v3.6H1301.9zM1304.7 196.2h2.94v3.6H1304.7zM1307.4 193.9h2.94v3.6H1307.4zM1310.2 191.7h2.94v3.6H1310.2zM1313.0 189.4h2.94v3.6H1313.0zM1315.8 187.2h2.94v3.6H1315.8zM1318.6 187.2h2.94v3.6H1318.6zM1321.4 184.9h2.94v3.6H1321.4zM1324.2 182.6h2.94v3.6H1324.2zM1327.0 180.4h2.94v3.6H1327.0zM1329.8 178.1h2.94v3.6H1329.8zM1332.6 175.9h2.94v3.6H1332.6zM1335.4 173.6h2.94v3.6H1335.4zM1338.2 173.6h2.94v3.6H1338.2zM1341.0 171.3h2.94v3.6H1341.0zM1343.8 169.1h2.94v3.6H1343.8zM1346.6 169.1h2.94v3.6H1346.6zM1349.4 169.1h2.94v3.6H1349.4zM1352.2 166.8h2.94v3.6H1352.2zM1355.0 166.8h2.94v3.6H1355.0zM1357.8 166.8h2.94v3.6H1357.8zM1360.6 166.8h2.94v3.6H1360.6zM1363.3 166.8h2.94v3.6H1363.3zM1366.1 166.8h2.94v3.6H1366.1zM1368.9 166.8h2.94v3.6H1368.9zM1371.7 166.8h2.94v3.6H1371.7zM1374.5 166.8h2.94v3.6H1374.5zM1377.3 166.8h2.94v3.6H1377.3zM1380.1 169.1h2.94v3.6H1380.1zM1382.9 169.1h2.94v3.6H1382.9zM1385.7 171.3h2.94v3.6H1385.7z" fill="#3560e8" fill-opacity="0.5"/>
<path d="M829.5 187.8h2.94v2.4H829.5zM832.3 187.8h2.94v2.4H832.3zM835.1 187.8h2.94v2.4H835.1zM837.9 187.8h2.94v2.4H837.9zM840.7 187.8h2.94v2.4H840.7zM843.5 187.8h2.94v2.4H843.5zM846.3 187.8h2.94v2.4H846.3zM849.1 187.8h2.94v2.4H849.1zM851.9 187.8h2.94v2.4H851.9zM854.7 187.8h2.94v2.4H854.7zM857.4 190.0h2.94v2.4H857.4zM860.2 190.0h2.94v2.4H860.2zM863.0 190.0h2.94v2.4H863.0zM865.8 190.0h2.94v2.4H865.8zM868.6 192.3h2.94v2.4H868.6zM871.4 192.3h2.94v2.4H871.4zM874.2 192.3h2.94v2.4H874.2zM877.0 192.3h2.94v2.4H877.0zM879.8 194.5h2.94v2.4H879.8zM882.6 194.5h2.94v2.4H882.6zM885.4 194.5h2.94v2.4H885.4zM888.2 194.5h2.94v2.4H888.2zM891.0 196.8h2.94v2.4H891.0zM893.8 196.8h2.94v2.4H893.8zM896.6 196.8h2.94v2.4H896.6zM899.4 196.8h2.94v2.4H899.4zM902.2 196.8h2.94v2.4H902.2zM905.0 196.8h2.94v2.4H905.0zM907.8 196.8h2.94v2.4H907.8zM910.6 196.8h2.94v2.4H910.6zM913.3 196.8h2.94v2.4H913.3zM916.1 196.8h2.94v2.4H916.1zM918.9 196.8h2.94v2.4H918.9zM921.7 196.8h2.94v2.4H921.7zM924.5 196.8h2.94v2.4H924.5zM927.3 194.5h2.94v2.4H927.3zM930.1 194.5h2.94v2.4H930.1zM932.9 194.5h2.94v2.4H932.9zM935.7 194.5h2.94v2.4H935.7zM938.5 192.3h2.94v2.4H938.5zM941.3 192.3h2.94v2.4H941.3zM944.1 190.0h2.94v2.4H944.1zM946.9 190.0h2.94v2.4H946.9zM949.7 190.0h2.94v2.4H949.7zM952.5 187.8h2.94v2.4H952.5zM955.3 187.8h2.94v2.4H955.3zM958.1 187.8h2.94v2.4H958.1zM960.9 185.5h2.94v2.4H960.9zM963.7 185.5h2.94v2.4H963.7zM966.5 183.2h2.94v2.4H966.5zM969.2 183.2h2.94v2.4H969.2zM972.0 183.2h2.94v2.4H972.0zM974.8 181.0h2.94v2.4H974.8zM977.6 181.0h2.94v2.4H977.6zM980.4 181.0h2.94v2.4H980.4zM983.2 178.7h2.94v2.4H983.2zM986.0 178.7h2.94v2.4H986.0zM988.8 178.7h2.94v2.4H988.8zM991.6 178.7h2.94v2.4H991.6zM994.4 178.7h2.94v2.4H994.4zM997.2 178.7h2.94v2.4H997.2zM1000.0 178.7h2.94v2.4H1000.0zM1002.8 178.7h2.94v2.4H1002.8zM1005.6 178.7h2.94v2.4H1005.6zM1008.4 178.7h2.94v2.4H1008.4zM1011.2 178.7h2.94v2.4H1011.2zM1014.0 181.0h2.94v2.4H1014.0zM1016.8 181.0h2.94v2.4H1016.8zM1019.6 181.0h2.94v2.4H1019.6zM1022.4 181.0h2.94v2.4H1022.4zM1025.1 183.2h2.94v2.4H1025.1zM1027.9 183.2h2.94v2.4H1027.9zM1030.7 183.2h2.94v2.4H1030.7zM1033.5 183.2h2.94v2.4H1033.5zM1036.3 183.2h2.94v2.4H1036.3zM1039.1 185.5h2.94v2.4H1039.1zM1041.9 185.5h2.94v2.4H1041.9zM1044.7 185.5h2.94v2.4H1044.7zM1047.5 185.5h2.94v2.4H1047.5zM1050.3 185.5h2.94v2.4H1050.3zM1053.1 185.5h2.94v2.4H1053.1zM1055.9 185.5h2.94v2.4H1055.9zM1058.7 185.5h2.94v2.4H1058.7zM1061.5 185.5h2.94v2.4H1061.5zM1064.3 185.5h2.94v2.4H1064.3zM1067.1 185.5h2.94v2.4H1067.1zM1069.9 185.5h2.94v2.4H1069.9zM1072.7 185.5h2.94v2.4H1072.7zM1075.5 185.5h2.94v2.4H1075.5zM1078.3 185.5h2.94v2.4H1078.3zM1081.0 185.5h2.94v2.4H1081.0zM1083.8 183.2h2.94v2.4H1083.8zM1086.6 183.2h2.94v2.4H1086.6zM1089.4 183.2h2.94v2.4H1089.4zM1092.2 183.2h2.94v2.4H1092.2zM1095.0 181.0h2.94v2.4H1095.0zM1097.8 181.0h2.94v2.4H1097.8zM1100.6 178.7h2.94v2.4H1100.6zM1103.4 178.7h2.94v2.4H1103.4zM1106.2 178.7h2.94v2.4H1106.2zM1109.0 176.5h2.94v2.4H1109.0zM1111.8 176.5h2.94v2.4H1111.8zM1114.6 176.5h2.94v2.4H1114.6zM1117.4 176.5h2.94v2.4H1117.4zM1120.2 176.5h2.94v2.4H1120.2zM1123.0 174.2h2.94v2.4H1123.0zM1125.8 174.2h2.94v2.4H1125.8zM1128.6 174.2h2.94v2.4H1128.6zM1131.4 174.2h2.94v2.4H1131.4zM1134.2 174.2h2.94v2.4H1134.2zM1137.0 174.2h2.94v2.4H1137.0zM1139.7 174.2h2.94v2.4H1139.7zM1142.5 174.2h2.94v2.4H1142.5zM1145.3 176.5h2.94v2.4H1145.3zM1148.1 176.5h2.94v2.4H1148.1zM1150.9 176.5h2.94v2.4H1150.9zM1153.7 176.5h2.94v2.4H1153.7zM1156.5 176.5h2.94v2.4H1156.5zM1159.3 178.7h2.94v2.4H1159.3zM1162.1 178.7h2.94v2.4H1162.1zM1164.9 178.7h2.94v2.4H1164.9zM1167.7 181.0h2.94v2.4H1167.7zM1170.5 181.0h2.94v2.4H1170.5zM1173.3 183.2h2.94v2.4H1173.3zM1176.1 183.2h2.94v2.4H1176.1zM1178.9 185.5h2.94v2.4H1178.9zM1181.7 185.5h2.94v2.4H1181.7zM1184.5 187.8h2.94v2.4H1184.5zM1187.3 187.8h2.94v2.4H1187.3zM1190.1 190.0h2.94v2.4H1190.1zM1192.9 190.0h2.94v2.4H1192.9zM1195.6 192.3h2.94v2.4H1195.6zM1198.4 194.5h2.94v2.4H1198.4zM1201.2 194.5h2.94v2.4H1201.2zM1204.0 196.8h2.94v2.4H1204.0zM1206.8 196.8h2.94v2.4H1206.8zM1209.6 199.1h2.94v2.4H1209.6zM1212.4 201.3h2.94v2.4H1212.4zM1215.2 201.3h2.94v2.4H1215.2zM1218.0 203.6h2.94v2.4H1218.0zM1220.8 203.6h2.94v2.4H1220.8zM1223.6 205.8h2.94v2.4H1223.6zM1226.4 205.8h2.94v2.4H1226.4zM1229.2 208.1h2.94v2.4H1229.2zM1232.0 208.1h2.94v2.4H1232.0zM1234.8 208.1h2.94v2.4H1234.8zM1237.6 210.4h2.94v2.4H1237.6zM1240.4 210.4h2.94v2.4H1240.4zM1243.2 210.4h2.94v2.4H1243.2zM1246.0 210.4h2.94v2.4H1246.0zM1248.8 210.4h2.94v2.4H1248.8zM1251.5 210.4h2.94v2.4H1251.5zM1254.3 210.4h2.94v2.4H1254.3zM1257.1 210.4h2.94v2.4H1257.1zM1259.9 210.4h2.94v2.4H1259.9zM1262.7 210.4h2.94v2.4H1262.7zM1265.5 210.4h2.94v2.4H1265.5zM1268.3 210.4h2.94v2.4H1268.3zM1271.1 210.4h2.94v2.4H1271.1zM1273.9 210.4h2.94v2.4H1273.9zM1276.7 210.4h2.94v2.4H1276.7zM1279.5 210.4h2.94v2.4H1279.5zM1282.3 208.1h2.94v2.4H1282.3zM1285.1 208.1h2.94v2.4H1285.1zM1287.9 208.1h2.94v2.4H1287.9zM1290.7 205.8h2.94v2.4H1290.7zM1293.5 203.6h2.94v2.4H1293.5zM1296.3 203.6h2.94v2.4H1296.3zM1299.1 201.3h2.94v2.4H1299.1zM1301.9 199.1h2.94v2.4H1301.9zM1304.7 196.8h2.94v2.4H1304.7zM1307.4 194.5h2.94v2.4H1307.4zM1310.2 192.3h2.94v2.4H1310.2zM1313.0 190.0h2.94v2.4H1313.0zM1315.8 187.8h2.94v2.4H1315.8zM1318.6 187.8h2.94v2.4H1318.6zM1321.4 185.5h2.94v2.4H1321.4zM1324.2 183.2h2.94v2.4H1324.2zM1327.0 181.0h2.94v2.4H1327.0zM1329.8 178.7h2.94v2.4H1329.8zM1332.6 176.5h2.94v2.4H1332.6zM1335.4 174.2h2.94v2.4H1335.4zM1338.2 174.2h2.94v2.4H1338.2zM1341.0 171.9h2.94v2.4H1341.0zM1343.8 169.7h2.94v2.4H1343.8zM1346.6 169.7h2.94v2.4H1346.6zM1349.4 169.7h2.94v2.4H1349.4zM1352.2 167.4h2.94v2.4H1352.2zM1355.0 167.4h2.94v2.4H1355.0zM1357.8 167.4h2.94v2.4H1357.8zM1360.6 167.4h2.94v2.4H1360.6zM1363.3 167.4h2.94v2.4H1363.3zM1366.1 167.4h2.94v2.4H1366.1zM1368.9 167.4h2.94v2.4H1368.9zM1371.7 167.4h2.94v2.4H1371.7zM1374.5 167.4h2.94v2.4H1374.5zM1377.3 167.4h2.94v2.4H1377.3zM1380.1 169.7h2.94v2.4H1380.1zM1382.9 169.7h2.94v2.4H1382.9zM1385.7 171.9h2.94v2.4H1385.7z" fill="url(#gf)"/>
<path d="M1338 177.5L1348 174.5L1360 173L1372 174L1381 177L1389 181.5" fill="none" stroke="#3b7df2" stroke-width="1.8" stroke-opacity="0.9"/>
<rect x="1056" y="186.6" width="9" height="4" fill="#3a6cf2"/>
</g>
<path d="M830.0 17.7L1388.0 17.7" stroke="#1a1a1a" stroke-width="1.4" stroke-linecap="square" fill="none"/>
<path d="M1388.0 17.7L1388.0 468.7" stroke="#333" stroke-width="1.0" stroke-linecap="square" fill="none"/>
<path d="M830.0 468.7L1388.0 468.7" stroke="#333" stroke-width="1.0" stroke-linecap="square" fill="none"/>
<path d="M830.0 17.7L830.0 468.7" stroke="#1a1a1a" stroke-width="1.5" stroke-linecap="square" fill="none"/>
<path d="M885.4 469.2v-6.0M885.4 17.2v6.0M941.3 469.2v-6.0M941.3 17.2v6.0M997.2 469.2v-6.0M997.2 17.2v6.0M1053.1 469.2v-6.0M1053.1 17.2v6.0M1109.0 469.2v-6.0M1109.0 17.2v6.0M1164.9 469.2v-6.0M1164.9 17.2v6.0M1220.8 469.2v-6.0M1220.8 17.2v6.0M1276.7 469.2v-6.0M1276.7 17.2v6.0M1332.6 469.2v-6.0M1332.6 17.2v6.0M829.5 424.0h6.0M1388.5 424.0h-6.0M829.5 378.8h6.0M1388.5 378.8h-6.0M829.5 333.6h6.0M1388.5 333.6h-6.0M829.5 288.4h6.0M1388.5 288.4h-6.0M829.5 243.2h6.0M1388.5 243.2h-6.0M829.5 198.0h6.0M1388.5 198.0h-6.0M829.5 152.8h6.0M1388.5 152.8h-6.0M829.5 107.6h6.0M1388.5 107.6h-6.0M829.5 62.4h6.0M1388.5 62.4h-6.0" stroke="#222" stroke-width="1.1" fill="none"/>
<g font-family="'Liberation Sans', Arial, sans-serif" font-size="17.3" fill="#262626">
<g text-anchor="end">
<text x="822.0" y="476.8">650</text>
<text x="822.0" y="431.6">660</text>
<text x="822.0" y="386.4">670</text>
<text x="822.0" y="341.2">680</text>
<text x="822.0" y="296.0">690</text>
<text x="822.0" y="250.8">700</text>
<text x="822.0" y="205.6">710</text>
<text x="822.0" y="160.4">720</text>
<text x="822.0" y="115.2">730</text>
<text x="822.0" y="70.0">740</text>
<text x="822.0" y="24.8">750</text>
</g><g text-anchor="middle">
<text x="830.9" y="495.0">0.6</text>
<text x="886.8" y="495.0">0.62</text>
<text x="942.7" y="495.0">0.64</text>
<text x="998.6" y="495.0">0.66</text>
<text x="1054.5" y="495.0">0.68</text>
<text x="1110.4" y="495.0">0.7</text>
<text x="1166.3" y="495.0">0.72</text>
<text x="1222.2" y="495.0">0.74</text>
<text x="1278.1" y="495.0">0.76</text>
<text x="1334.0" y="495.0">0.78</text>
<text x="1389.9" y="495.0">0.8</text>
</g></g>
<g font-family="'Liberation Serif', 'Times New Roman', serif" font-size="22.9" fill="#262626" text-anchor="middle">
<text x="1109.4" y="522.2">Time / s</text>
<text transform="translate(782.8 242.3) rotate(-90)">Fre / Hz</text>
</g></g>
<g id="panel-g">
<rect x="106.2" y="647.7" width="563.0" height="444.2" fill="#3e26a8"/>
<clipPath id="clip-g"><rect x="106.2" y="647.7" width="563.0" height="444.2"/></clipPath>
<g clip-path="url(#clip-g)">
<path d="M111.9 777.1L138.5 777.1L127.9 780.2L122.5 780.2ZM155.8 777.1L178.8 777.1L169.6 780.2L165.0 780.2ZM190.0 777.1L213.5 777.1L204.1 780.2L199.4 780.2ZM242.8 776.9L262.8 776.9L254.8 779.6L250.8 779.6ZM272.6 777.2L296.7 777.2L287.1 780.6L282.3 780.6ZM301.8 777.3L328.7 777.3L317.9 780.8L312.5 780.8ZM353.2 777.1L371.7 777.1L364.3 780.3L360.6 780.3ZM383.6 777.1L401.0 777.1L394.0 780.2L390.5 780.2ZM418.3 777.0L435.4 777.0L428.6 779.8L425.2 779.8ZM456.1 777.1L481.8 777.1L471.5 780.1L466.4 780.1ZM501.5 777.1L523.5 777.1L514.7 780.3L510.3 780.3ZM550.1 777.1L569.9 777.1L562.0 780.1L558.0 780.1ZM603.8 777.3L629.4 777.3L619.2 780.8L614.1 780.8ZM655.8 777.0L675.0 777.0L667.3 779.9L663.4 779.9Z" fill="#4468f2" fill-opacity="0.45"/>
<path d="M109.0 777.5 111.6 777.1 114.2 777.1 116.8 777.4 119.3 777.8 121.9 778.2 124.5 778.5 127.1 778.4 129.6 778.0 132.2 777.6 134.8 777.1 137.4 776.8 140.0 776.6 142.5 776.6 145.1 776.5 147.7 776.5 150.3 776.5 152.9 776.6 155.4 776.7 158.0 777.0 160.6 777.4 163.2 777.9 165.8 778.3 168.3 778.4 170.9 778.0 173.5 777.5 176.1 777.0 178.6 776.8 181.2 776.7 183.8 776.7 186.4 777.0 189.0 777.6M196.3 778.6 199.9 778.6 203.6 779.2M212.6 777.7 215.2 777.0 217.8 776.7 220.4 776.6 223.0 776.6 225.6 776.6 228.2 776.7 230.8 776.9 233.4 777.4M240.8 777.5 243.3 777.1 245.8 777.1 248.3 777.4 250.9 777.8 253.4 777.9 255.9 777.6 258.4 777.2 261.0 776.8 263.5 776.6 266.0 776.6 268.5 776.6 271.1 776.7 273.6 776.9 276.1 777.3 278.6 777.8 281.2 778.4 283.7 778.8 286.2 778.7 288.7 778.3 291.2 777.7 293.8 777.2 296.3 776.8 298.8 776.7 301.3 776.8 303.9 777.0 306.4 777.5 308.9 778.1 311.4 778.6 314.0 779.0 316.5 779.0 319.0 778.6 321.5 778.1 324.1 777.5 326.6 777.0 329.1 776.8 331.6 776.6 334.2 776.6 336.7 776.5 339.2 776.5 341.7 776.5 344.3 776.5 346.8 776.5 349.3 776.5 351.8 776.6 354.4 776.9 356.9 777.4 359.4 778.1 361.9 778.5 364.5 778.3 367.0 777.7 369.5 777.1 372.0 776.7 374.6 776.6 377.1 776.5 379.6 776.5 382.1 776.6 384.7 776.9 387.2 777.4 389.7 778.1 392.2 778.4 394.8 778.1 397.3 777.4 399.8 776.9 402.3 776.6 404.9 776.5 407.4 776.5 409.9 776.5 412.4 776.5 415.0 776.5 417.5 776.6 420.0 776.9 422.5 777.4 425.1 777.9 427.6 778.0 430.1 777.6 432.6 777.1 435.2 776.7 437.7 776.6 440.2 776.5 442.7 776.5 445.3 776.5 447.8 776.5 450.3 776.5 452.8 776.6 455.3 776.7 457.9 776.9 460.4 777.2 462.9 777.6 465.4 778.0 468.0 778.3 470.5 778.3 473.0 778.0 475.5 777.7 478.1 777.5 480.6 777.7M496.9 777.4 499.4 777.0 502.0 777.0 504.5 777.2 507.0 777.7 509.5 778.3 512.0 778.6 514.5 778.4 517.0 777.9 519.6 777.3 522.1 776.9 524.6 776.7 527.1 776.6 529.6 776.5 532.1 776.5 534.6 776.5 537.2 776.5 539.7 776.5 542.2 776.5 544.7 776.5 547.2 776.6 549.7 776.7 552.2 777.0 554.8 777.5 557.3 778.1 559.8 778.4 562.3 778.2 564.8 777.7 567.3 777.2 569.8 777.1 572.4 777.5M579.7 777.4 582.2 776.9 584.8 776.7 587.4 776.6 589.9 776.6 592.5 776.6 595.1 776.6 597.6 776.7 600.2 777.0 602.8 777.6M609.5 778.7 612.1 778.8 614.7 779.1 617.3 779.1 619.9 778.7 622.5 778.1 625.1 777.5 627.7 777.0 630.3 776.7 632.9 776.6 635.5 776.5 638.1 776.5 640.7 776.5 643.3 776.5 645.8 776.5 648.4 776.5 651.0 776.5 653.6 776.6 656.2 776.8 658.8 777.1 661.4 777.7 664.0 778.2 666.6 778.5 669.2 778.6" fill="none" stroke="#4767f4" stroke-width="2.0" stroke-opacity="0.42" stroke-linecap="butt"/>
<path d="M109.0 777.5 111.6 777.1 114.2 777.1 116.8 777.4 119.3 777.8 121.9 778.2 124.5 778.5 127.1 778.4 129.6 778.0 132.2 777.6 134.8 777.1 137.4 776.8 140.0 776.6 142.5 776.6 145.1 776.5 147.7 776.5 150.3 776.5 152.9 776.6 155.4 776.7 158.0 777.0 160.6 777.4 163.2 777.9 165.8 778.3 168.3 778.4 170.9 778.0 173.5 777.5 176.1 777.0 178.6 776.8 181.2 776.7 183.8 776.7 186.4 777.0 189.0 777.6M196.3 778.6 199.9 778.6 203.6 779.2M212.6 777.7 215.2 777.0 217.8 776.7 220.4 776.6 223.0 776.6 225.6 776.6 228.2 776.7 230.8 776.9 233.4 777.4M240.8 777.5 243.3 777.1 245.8 777.1 248.3 777.4 250.9 777.8 253.4 777.9 255.9 777.6 258.4 777.2 261.0 776.8 263.5 776.6 266.0 776.6 268.5 776.6 271.1 776.7 273.6 776.9 276.1 777.3 278.6 777.8 281.2 778.4 283.7 778.8 286.2 778.7 288.7 778.3 291.2 777.7 293.8 777.2 296.3 776.8 298.8 776.7 301.3 776.8 303.9 777.0 306.4 777.5 308.9 778.1 311.4 778.6 314.0 779.0 316.5 779.0 319.0 778.6 321.5 778.1 324.1 777.5 326.6 777.0 329.1 776.8 331.6 776.6 334.2 776.6 336.7 776.5 339.2 776.5 341.7 776.5 344.3 776.5 346.8 776.5 349.3 776.5 351.8 776.6 354.4 776.9 356.9 777.4 359.4 778.1 361.9 778.5 364.5 778.3 367.0 777.7 369.5 777.1 372.0 776.7 374.6 776.6 377.1 776.5 379.6 776.5 382.1 776.6 384.7 776.9 387.2 777.4 389.7 778.1 392.2 778.4 394.8 778.1 397.3 777.4 399.8 776.9 402.3 776.6 404.9 776.5 407.4 776.5 409.9 776.5 412.4 776.5 415.0 776.5 417.5 776.6 420.0 776.9 422.5 777.4 425.1 777.9 427.6 778.0 430.1 777.6 432.6 777.1 435.2 776.7 437.7 776.6 440.2 776.5 442.7 776.5 445.3 776.5 447.8 776.5 450.3 776.5 452.8 776.6 455.3 776.7 457.9 776.9 460.4 777.2 462.9 777.6 465.4 778.0 468.0 778.3 470.5 778.3 473.0 778.0 475.5 777.7 478.1 777.5 480.6 777.7M496.9 777.4 499.4 777.0 502.0 777.0 504.5 777.2 507.0 777.7 509.5 778.3 512.0 778.6 514.5 778.4 517.0 777.9 519.6 777.3 522.1 776.9 524.6 776.7 527.1 776.6 529.6 776.5 532.1 776.5 534.6 776.5 537.2 776.5 539.7 776.5 542.2 776.5 544.7 776.5 547.2 776.6 549.7 776.7 552.2 777.0 554.8 777.5 557.3 778.1 559.8 778.4 562.3 778.2 564.8 777.7 567.3 777.2 569.8 777.1 572.4 777.5M579.7 777.4 582.2 776.9 584.8 776.7 587.4 776.6 589.9 776.6 592.5 776.6 595.1 776.6 597.6 776.7 600.2 777.0 602.8 777.6M609.5 778.7 612.1 778.8 614.7 779.1 617.3 779.1 619.9 778.7 622.5 778.1 625.1 777.5 627.7 777.0 630.3 776.7 632.9 776.6 635.5 776.5 638.1 776.5 640.7 776.5 643.3 776.5 645.8 776.5 648.4 776.5 651.0 776.5 653.6 776.6 656.2 776.8 658.8 777.1 661.4 777.7 664.0 778.2 666.6 778.5 669.2 778.6" fill="none" stroke="#2fa4e4" stroke-width="1.0" stroke-opacity="0.7" stroke-linecap="butt" stroke-dasharray="11 6 5 9"/>
<path d="M109.0 777.5 111.6 777.1 114.2 777.1 116.8 777.4 119.3 777.8 121.9 778.2 124.5 778.5 127.1 778.4 129.6 778.0 132.2 777.6 134.8 777.1 137.4 776.8 140.0 776.6 142.5 776.6 145.1 776.5 147.7 776.5 150.3 776.5 152.9 776.6 155.4 776.7 158.0 777.0 160.6 777.4 163.2 777.9 165.8 778.3 168.3 778.4 170.9 778.0 173.5 777.5 176.1 777.0 178.6 776.8 181.2 776.7 183.8 776.7 186.4 777.0 189.0 777.6M196.3 778.6 199.9 778.6 203.6 779.2M212.6 777.7 215.2 777.0 217.8 776.7 220.4 776.6 223.0 776.6 225.6 776.6 228.2 776.7 230.8 776.9 233.4 777.4M240.8 777.5 243.3 777.1 245.8 777.1 248.3 777.4 250.9 777.8 253.4 777.9 255.9 777.6 258.4 777.2 261.0 776.8 263.5 776.6 266.0 776.6 268.5 776.6 271.1 776.7 273.6 776.9 276.1 777.3 278.6 777.8 281.2 778.4 283.7 778.8 286.2 778.7 288.7 778.3 291.2 777.7 293.8 777.2 296.3 776.8 298.8 776.7 301.3 776.8 303.9 777.0 306.4 777.5 308.9 778.1 311.4 778.6 314.0 779.0 316.5 779.0 319.0 778.6 321.5 778.1 324.1 777.5 326.6 777.0 329.1 776.8 331.6 776.6 334.2 776.6 336.7 776.5 339.2 776.5 341.7 776.5 344.3 776.5 346.8 776.5 349.3 776.5 351.8 776.6 354.4 776.9 356.9 777.4 359.4 778.1 361.9 778.5 364.5 778.3 367.0 777.7 369.5 777.1 372.0 776.7 374.6 776.6 377.1 776.5 379.6 776.5 382.1 776.6 384.7 776.9 387.2 777.4 389.7 778.1 392.2 778.4 394.8 778.1 397.3 777.4 399.8 776.9 402.3 776.6 404.9 776.5 407.4 776.5 409.9 776.5 412.4 776.5 415.0 776.5 417.5 776.6 420.0 776.9 422.5 777.4 425.1 777.9 427.6 778.0 430.1 777.6 432.6 777.1 435.2 776.7 437.7 776.6 440.2 776.5 442.7 776.5 445.3 776.5 447.8 776.5 450.3 776.5 452.8 776.6 455.3 776.7 457.9 776.9 460.4 777.2 462.9 777.6 465.4 778.0 468.0 778.3 470.5 778.3 473.0 778.0 475.5 777.7 478.1 777.5 480.6 777.7M496.9 777.4 499.4 777.0 502.0 777.0 504.5 777.2 507.0 777.7 509.5 778.3 512.0 778.6 514.5 778.4 517.0 777.9 519.6 777.3 522.1 776.9 524.6 776.7 527.1 776.6 529.6 776.5 532.1 776.5 534.6 776.5 537.2 776.5 539.7 776.5 542.2 776.5 544.7 776.5 547.2 776.6 549.7 776.7 552.2 777.0 554.8 777.5 557.3 778.1 559.8 778.4 562.3 778.2 564.8 777.7 567.3 777.2 569.8 777.1 572.4 777.5M579.7 777.4 582.2 776.9 584.8 776.7 587.4 776.6 589.9 776.6 592.5 776.6 595.1 776.6 597.6 776.7 600.2 777.0 602.8 777.6M609.5 778.7 612.1 778.8 614.7 779.1 617.3 779.1 619.9 778.7 622.5 778.1 625.1 777.5 627.7 777.0 630.3 776.7 632.9 776.6 635.5 776.5 638.1 776.5 640.7 776.5 643.3 776.5 645.8 776.5 648.4 776.5 651.0 776.5 653.6 776.6 656.2 776.8 658.8 777.1 661.4 777.7 664.0 778.2 666.6 778.5 669.2 778.6" fill="none" stroke="#cfd050" stroke-width="0.9" stroke-opacity="0.7" stroke-linecap="butt" stroke-dasharray="3 43"/>
<path d="M121.1 934.1L148.3 934.1L137.4 936.7L132.0 936.7ZM170.4 933.9L194.1 933.9L184.6 936.2L179.9 936.2ZM221.2 934.1L248.7 934.1L237.7 936.8L232.2 936.8ZM286.8 934.0L313.9 934.0L303.1 936.6L297.7 936.6ZM337.5 934.0L358.6 934.0L350.2 936.5L345.9 936.5ZM410.9 933.9L439.9 933.9L428.3 936.2L422.5 936.2ZM458.7 934.1L481.9 934.1L472.6 936.7L468.0 936.7ZM518.4 934.1L537.8 934.1L530.0 936.8L526.1 936.8ZM559.8 934.1L585.1 934.1L575.0 936.9L569.9 936.9ZM602.7 934.1L633.3 934.1L621.0 936.9L614.9 936.9ZM654.0 934.0L674.8 934.0L666.5 936.5L662.3 936.5Z" fill="#4468f2" fill-opacity="0.45"/>
<path d="M106.2 934.6 108.7 934.1 111.3 933.9 113.8 933.8 116.3 933.7 118.8 933.8 121.4 933.8 123.9 934.0 126.4 934.2 129.0 934.5 131.5 934.8 134.0 934.9 136.5 934.9 139.1 934.7 141.6 934.4 144.1 934.1 146.7 933.9 149.2 933.8 151.7 933.7 154.3 933.7 156.8 933.7 159.3 933.7 161.8 933.7 164.4 933.7 166.9 933.7 169.4 933.7 172.0 933.8 174.5 934.0 177.0 934.2 179.5 934.3 182.1 934.4 184.6 934.4 187.1 934.2 189.7 934.0 192.2 933.8 194.7 933.7 197.2 933.7 199.8 933.7 202.3 933.7 204.8 933.7 207.4 933.7 209.9 933.7 212.4 933.7 214.9 933.7 217.5 933.7 220.0 933.8 222.5 933.9 225.1 934.1 227.6 934.4 230.1 934.7 232.7 935.0 235.2 935.0 237.7 934.9 240.2 934.7 242.8 934.3 245.3 934.1 247.8 933.9 250.4 933.8 252.9 933.7 255.4 933.7 257.9 933.8 260.5 933.9 263.0 934.1 265.5 934.6M269.5 934.6 273.1 934.0 276.8 934.6M280.7 934.6 283.2 934.1 285.7 933.9 288.2 934.0 290.8 934.1 293.3 934.3 295.8 934.6 298.3 934.8 300.8 934.8 303.3 934.7 305.8 934.5 308.3 934.2 310.8 934.0 313.3 933.8 315.8 933.8 318.3 933.7 320.8 933.7 323.3 933.7 325.8 933.7 328.3 933.7 330.9 933.7 333.4 933.7 335.9 933.7 338.4 933.8 340.9 934.1 343.4 934.4 345.9 934.7 348.4 934.7 350.9 934.6 353.4 934.3 355.9 934.0 358.4 933.8 360.9 933.7 363.4 933.7 365.9 933.7 368.4 933.7 371.0 933.7 373.5 933.7 376.0 933.7 378.5 933.7 381.0 933.7 383.5 933.7 386.0 933.7 388.5 933.7 391.0 933.7 393.5 933.7 396.0 933.7 398.5 933.7 401.0 933.7 403.5 933.7 406.0 933.7 408.5 933.7 411.1 933.8 413.6 933.9 416.1 934.0 418.6 934.2 421.1 934.3 423.6 934.4 426.1 934.4 428.6 934.4 431.1 934.2 433.6 934.1 436.1 933.9 438.6 933.8 441.1 933.7 443.6 933.7 446.1 933.7 448.6 933.7 451.2 933.7 453.7 933.7 456.2 933.7 458.7 933.8 461.2 934.0 463.7 934.3 466.2 934.6 468.7 934.9 471.2 934.9 473.7 934.7 476.2 934.4 478.7 934.1 481.2 933.9 483.7 933.8 486.2 933.7 488.7 933.7 491.3 933.7 493.8 933.7 496.3 933.7 498.8 933.7 501.3 933.7 503.8 933.7 506.3 933.7 508.8 933.7 511.3 933.7 513.8 933.7 516.3 933.7 518.8 933.9 521.3 934.2 523.8 934.6 526.3 935.0 528.8 935.0 531.4 934.7 533.9 934.3 536.4 934.0 538.9 933.8 541.4 933.7 543.9 933.7 546.4 933.7 548.9 933.7 551.4 933.7 553.9 933.7 556.4 933.7 558.9 933.8 561.4 933.9 563.9 934.2 566.4 934.6 568.9 934.9 571.5 935.1 574.0 935.1 576.5 934.8 579.0 934.5 581.5 934.1 584.0 933.9 586.5 933.8 589.0 933.7 591.5 933.7 594.0 933.7 596.5 933.7 599.0 933.7 601.5 933.8 604.0 933.9 606.5 934.1 609.0 934.4 611.6 934.7 614.1 935.0 616.6 935.1 619.1 935.2 621.6 935.0 624.1 934.7 626.6 934.4 629.1 934.1 631.6 933.9 634.1 933.8 636.6 933.7 639.1 933.7 641.6 933.7 644.1 933.7 646.6 933.7 649.1 933.7 651.7 933.7 654.2 933.8 656.7 934.0 659.2 934.3 661.7 934.7 664.2 934.9 666.7 935.0 669.2 935.2" fill="none" stroke="#4767f4" stroke-width="2.0" stroke-opacity="0.42" stroke-linecap="butt"/>
<path d="M106.2 934.6 108.7 934.1 111.3 933.9 113.8 933.8 116.3 933.7 118.8 933.8 121.4 933.8 123.9 934.0 126.4 934.2 129.0 934.5 131.5 934.8 134.0 934.9 136.5 934.9 139.1 934.7 141.6 934.4 144.1 934.1 146.7 933.9 149.2 933.8 151.7 933.7 154.3 933.7 156.8 933.7 159.3 933.7 161.8 933.7 164.4 933.7 166.9 933.7 169.4 933.7 172.0 933.8 174.5 934.0 177.0 934.2 179.5 934.3 182.1 934.4 184.6 934.4 187.1 934.2 189.7 934.0 192.2 933.8 194.7 933.7 197.2 933.7 199.8 933.7 202.3 933.7 204.8 933.7 207.4 933.7 209.9 933.7 212.4 933.7 214.9 933.7 217.5 933.7 220.0 933.8 222.5 933.9 225.1 934.1 227.6 934.4 230.1 934.7 232.7 935.0 235.2 935.0 237.7 934.9 240.2 934.7 242.8 934.3 245.3 934.1 247.8 933.9 250.4 933.8 252.9 933.7 255.4 933.7 257.9 933.8 260.5 933.9 263.0 934.1 265.5 934.6M269.5 934.6 273.1 934.0 276.8 934.6M280.7 934.6 283.2 934.1 285.7 933.9 288.2 934.0 290.8 934.1 293.3 934.3 295.8 934.6 298.3 934.8 300.8 934.8 303.3 934.7 305.8 934.5 308.3 934.2 310.8 934.0 313.3 933.8 315.8 933.8 318.3 933.7 320.8 933.7 323.3 933.7 325.8 933.7 328.3 933.7 330.9 933.7 333.4 933.7 335.9 933.7 338.4 933.8 340.9 934.1 343.4 934.4 345.9 934.7 348.4 934.7 350.9 934.6 353.4 934.3 355.9 934.0 358.4 933.8 360.9 933.7 363.4 933.7 365.9 933.7 368.4 933.7 371.0 933.7 373.5 933.7 376.0 933.7 378.5 933.7 381.0 933.7 383.5 933.7 386.0 933.7 388.5 933.7 391.0 933.7 393.5 933.7 396.0 933.7 398.5 933.7 401.0 933.7 403.5 933.7 406.0 933.7 408.5 933.7 411.1 933.8 413.6 933.9 416.1 934.0 418.6 934.2 421.1 934.3 423.6 934.4 426.1 934.4 428.6 934.4 431.1 934.2 433.6 934.1 436.1 933.9 438.6 933.8 441.1 933.7 443.6 933.7 446.1 933.7 448.6 933.7 451.2 933.7 453.7 933.7 456.2 933.7 458.7 933.8 461.2 934.0 463.7 934.3 466.2 934.6 468.7 934.9 471.2 934.9 473.7 934.7 476.2 934.4 478.7 934.1 481.2 933.9 483.7 933.8 486.2 933.7 488.7 933.7 491.3 933.7 493.8 933.7 496.3 933.7 498.8 933.7 501.3 933.7 503.8 933.7 506.3 933.7 508.8 933.7 511.3 933.7 513.8 933.7 516.3 933.7 518.8 933.9 521.3 934.2 523.8 934.6 526.3 935.0 528.8 935.0 531.4 934.7 533.9 934.3 536.4 934.0 538.9 933.8 541.4 933.7 543.9 933.7 546.4 933.7 548.9 933.7 551.4 933.7 553.9 933.7 556.4 933.7 558.9 933.8 561.4 933.9 563.9 934.2 566.4 934.6 568.9 934.9 571.5 935.1 574.0 935.1 576.5 934.8 579.0 934.5 581.5 934.1 584.0 933.9 586.5 933.8 589.0 933.7 591.5 933.7 594.0 933.7 596.5 933.7 599.0 933.7 601.5 933.8 604.0 933.9 606.5 934.1 609.0 934.4 611.6 934.7 614.1 935.0 616.6 935.1 619.1 935.2 621.6 935.0 624.1 934.7 626.6 934.4 629.1 934.1 631.6 933.9 634.1 933.8 636.6 933.7 639.1 933.7 641.6 933.7 644.1 933.7 646.6 933.7 649.1 933.7 651.7 933.7 654.2 933.8 656.7 934.0 659.2 934.3 661.7 934.7 664.2 934.9 666.7 935.0 669.2 935.2" fill="none" stroke="#2fa4e4" stroke-width="1.0" stroke-opacity="0.7" stroke-linecap="butt" stroke-dasharray="11 6 5 9"/>
<path d="M106.2 934.6 108.7 934.1 111.3 933.9 113.8 933.8 116.3 933.7 118.8 933.8 121.4 933.8 123.9 934.0 126.4 934.2 129.0 934.5 131.5 934.8 134.0 934.9 136.5 934.9 139.1 934.7 141.6 934.4 144.1 934.1 146.7 933.9 149.2 933.8 151.7 933.7 154.3 933.7 156.8 933.7 159.3 933.7 161.8 933.7 164.4 933.7 166.9 933.7 169.4 933.7 172.0 933.8 174.5 934.0 177.0 934.2 179.5 934.3 182.1 934.4 184.6 934.4 187.1 934.2 189.7 934.0 192.2 933.8 194.7 933.7 197.2 933.7 199.8 933.7 202.3 933.7 204.8 933.7 207.4 933.7 209.9 933.7 212.4 933.7 214.9 933.7 217.5 933.7 220.0 933.8 222.5 933.9 225.1 934.1 227.6 934.4 230.1 934.7 232.7 935.0 235.2 935.0 237.7 934.9 240.2 934.7 242.8 934.3 245.3 934.1 247.8 933.9 250.4 933.8 252.9 933.7 255.4 933.7 257.9 933.8 260.5 933.9 263.0 934.1 265.5 934.6M269.5 934.6 273.1 934.0 276.8 934.6M280.7 934.6 283.2 934.1 285.7 933.9 288.2 934.0 290.8 934.1 293.3 934.3 295.8 934.6 298.3 934.8 300.8 934.8 303.3 934.7 305.8 934.5 308.3 934.2 310.8 934.0 313.3 933.8 315.8 933.8 318.3 933.7 320.8 933.7 323.3 933.7 325.8 933.7 328.3 933.7 330.9 933.7 333.4 933.7 335.9 933.7 338.4 933.8 340.9 934.1 343.4 934.4 345.9 934.7 348.4 934.7 350.9 934.6 353.4 934.3 355.9 934.0 358.4 933.8 360.9 933.7 363.4 933.7 365.9 933.7 368.4 933.7 371.0 933.7 373.5 933.7 376.0 933.7 378.5 933.7 381.0 933.7 383.5 933.7 386.0 933.7 388.5 933.7 391.0 933.7 393.5 933.7 396.0 933.7 398.5 933.7 401.0 933.7 403.5 933.7 406.0 933.7 408.5 933.7 411.1 933.8 413.6 933.9 416.1 934.0 418.6 934.2 421.1 934.3 423.6 934.4 426.1 934.4 428.6 934.4 431.1 934.2 433.6 934.1 436.1 933.9 438.6 933.8 441.1 933.7 443.6 933.7 446.1 933.7 448.6 933.7 451.2 933.7 453.7 933.7 456.2 933.7 458.7 933.8 461.2 934.0 463.7 934.3 466.2 934.6 468.7 934.9 471.2 934.9 473.7 934.7 476.2 934.4 478.7 934.1 481.2 933.9 483.7 933.8 486.2 933.7 488.7 933.7 491.3 933.7 493.8 933.7 496.3 933.7 498.8 933.7 501.3 933.7 503.8 933.7 506.3 933.7 508.8 933.7 511.3 933.7 513.8 933.7 516.3 933.7 518.8 933.9 521.3 934.2 523.8 934.6 526.3 935.0 528.8 935.0 531.4 934.7 533.9 934.3 536.4 934.0 538.9 933.8 541.4 933.7 543.9 933.7 546.4 933.7 548.9 933.7 551.4 933.7 553.9 933.7 556.4 933.7 558.9 933.8 561.4 933.9 563.9 934.2 566.4 934.6 568.9 934.9 571.5 935.1 574.0 935.1 576.5 934.8 579.0 934.5 581.5 934.1 584.0 933.9 586.5 933.8 589.0 933.7 591.5 933.7 594.0 933.7 596.5 933.7 599.0 933.7 601.5 933.8 604.0 933.9 606.5 934.1 609.0 934.4 611.6 934.7 614.1 935.0 616.6 935.1 619.1 935.2 621.6 935.0 624.1 934.7 626.6 934.4 629.1 934.1 631.6 933.9 634.1 933.8 636.6 933.7 639.1 933.7 641.6 933.7 644.1 933.7 646.6 933.7 649.1 933.7 651.7 933.7 654.2 933.8 656.7 934.0 659.2 934.3 661.7 934.7 664.2 934.9 666.7 935.0 669.2 935.2" fill="none" stroke="#cfd050" stroke-width="0.9" stroke-opacity="0.7" stroke-linecap="butt" stroke-dasharray="3 43"/>
<path d="M103.3 1013.4L120.5 1013.4L113.6 1017.1L110.2 1017.1ZM132.6 1013.2L146.3 1013.2L140.8 1016.2L138.1 1016.2ZM148.2 1013.2L165.7 1013.2L158.7 1016.3L155.2 1016.3ZM167.4 1013.3L181.0 1013.3L175.6 1016.8L172.8 1016.8ZM184.7 1013.3L203.0 1013.3L195.7 1016.6L192.0 1016.6ZM210.9 1013.1L225.0 1013.1L219.3 1015.9L216.5 1015.9ZM253.6 1013.5L271.1 1013.5L264.1 1017.3L260.6 1017.3ZM284.4 1013.5L298.3 1013.5L292.7 1017.2L289.9 1017.2ZM310.0 1013.3L327.7 1013.3L320.6 1016.7L317.1 1016.7ZM335.0 1013.3L349.7 1013.3L343.8 1016.6L340.9 1016.6ZM357.5 1013.2L370.3 1013.2L365.2 1016.4L362.6 1016.4ZM381.3 1013.5L400.7 1013.5L393.0 1017.2L389.1 1017.2ZM407.5 1013.3L425.1 1013.3L418.1 1016.8L414.5 1016.8ZM426.0 1013.4L441.3 1013.4L435.2 1017.0L432.1 1017.0ZM443.6 1013.2L459.5 1013.2L453.1 1016.2L450.0 1016.2ZM462.3 1013.3L478.8 1013.3L472.2 1016.7L468.9 1016.7ZM483.8 1013.1L499.5 1013.1L493.2 1016.1L490.1 1016.1ZM503.7 1013.2L517.1 1013.2L511.7 1016.3L509.0 1016.3ZM522.6 1013.1L539.5 1013.1L532.7 1016.0L529.3 1016.0ZM551.4 1013.3L568.8 1013.3L561.8 1016.6L558.3 1016.6ZM582.3 1013.1L595.3 1013.1L590.1 1016.0L587.5 1016.0ZM607.3 1013.5L624.1 1013.5L617.4 1017.3L614.1 1017.3ZM624.2 1013.3L642.7 1013.3L635.3 1016.6L631.6 1016.6ZM654.7 1013.5L668.3 1013.5L662.9 1017.3L660.1 1017.3Z" fill="#4468f2" fill-opacity="0.45"/>
<path d="M106.2 1014.5 109.3 1015.1 112.4 1016.2M116.3 1015.0 118.9 1013.6 121.4 1012.9 123.9 1012.7 126.5 1012.6 129.0 1012.6 131.5 1012.7 134.1 1013.1 136.6 1013.9 139.1 1014.4 141.7 1014.1 144.2 1013.2 146.7 1012.8 149.3 1013.0 151.8 1013.5 154.3 1014.2 156.9 1014.7 159.4 1014.6 161.9 1014.4M165.9 1013.8 168.4 1013.5 170.9 1014.2 173.4 1015.0 176.0 1014.7 178.5 1013.6 181.0 1012.9 183.5 1012.8 186.1 1013.1 188.6 1013.7 191.1 1014.5 193.6 1014.9 196.2 1014.6 198.7 1013.8 201.2 1013.1 203.7 1012.8 206.2 1012.6 208.8 1012.6 211.3 1012.8 213.8 1013.3 216.3 1014.0 218.9 1014.1 221.4 1013.5 223.9 1013.0 226.4 1013.1 229.0 1013.7 231.5 1014.9 234.0 1016.3M239.6 1015.3 242.1 1013.9 244.7 1013.1 247.2 1012.7 249.7 1012.7 252.2 1012.8 254.7 1013.1 257.2 1014.0 259.8 1015.0 262.3 1015.5 264.8 1015.1 267.3 1014.0 269.8 1013.2 272.3 1012.8 274.9 1012.6 277.4 1012.6 279.9 1012.6 282.4 1012.7 284.9 1013.0 287.4 1014.0 289.9 1015.2 292.5 1015.3 295.0 1014.1 297.5 1013.1 300.0 1012.7 302.5 1012.6 305.0 1012.6 307.6 1012.7 310.1 1012.9 312.6 1013.4 315.1 1014.2 317.6 1014.9 320.1 1014.9 322.7 1014.2 325.2 1013.4 327.7 1012.9 330.2 1012.7 332.7 1012.7 335.2 1012.9 337.8 1013.5 340.3 1014.5 342.8 1014.8 345.3 1014.2 347.8 1013.3 350.3 1012.8 352.8 1012.6 355.4 1012.6 357.9 1012.9 360.4 1013.7 362.9 1014.6 365.4 1014.4 367.9 1013.4 370.5 1012.8 373.0 1012.6 375.5 1012.6 378.0 1012.7 380.5 1012.8 383.0 1013.2 385.6 1014.0 388.1 1014.9 390.6 1015.5 393.1 1015.2 395.6 1014.3 398.1 1013.5 400.6 1012.9 403.2 1012.7 405.7 1012.7 408.2 1013.0 410.7 1013.6 413.2 1014.5 415.7 1015.1 418.3 1014.8 420.8 1014.0 423.3 1013.2 425.8 1013.0 428.3 1013.6 430.8 1014.6 433.4 1015.3 435.9 1014.8 438.4 1013.7 440.9 1013.0 443.4 1012.8 445.9 1013.2 448.5 1013.9 451.0 1014.5 453.5 1014.2 456.0 1013.5 458.5 1013.0 461.0 1012.8 463.5 1013.1 466.1 1013.8 468.6 1014.6 471.1 1014.9 473.6 1014.4 476.1 1013.6 478.6 1013.3 481.2 1013.6M486.8 1014.2 489.3 1014.4 491.8 1014.5 494.3 1014.0 496.8 1013.3 499.3 1012.8 501.8 1012.7 504.3 1012.9 506.8 1013.6 509.3 1014.4 511.8 1014.4 514.3 1013.5 516.8 1012.9 519.3 1012.7 521.8 1012.7 524.3 1013.0 526.8 1013.6 529.3 1014.1 531.8 1014.2 534.3 1013.8 536.8 1013.2 539.3 1012.8 541.8 1012.6 544.3 1012.6 546.8 1012.6 549.3 1012.7 551.8 1012.9 554.3 1013.4 556.9 1014.2 559.4 1014.8 561.9 1014.6 564.4 1013.9 566.9 1013.2 569.4 1012.8 571.9 1012.6 574.4 1012.6 576.9 1012.6 579.4 1012.6 581.9 1012.7 584.4 1013.2 586.9 1013.9 589.4 1014.2 591.9 1013.7 594.4 1013.1 596.9 1013.0 599.4 1013.5M614.6 1016.3 617.2 1015.7 619.8 1014.5 622.4 1013.5 625.0 1013.2 627.6 1013.6 630.2 1014.3 632.8 1014.8 635.4 1014.6 638.0 1013.9 640.6 1013.2 643.2 1012.8 645.8 1012.6 648.4 1012.6 651.0 1012.6 653.6 1012.7 656.2 1013.3 658.8 1014.6 661.4 1015.6 664.0 1014.9 666.6 1013.8 669.2 1013.7" fill="none" stroke="#4767f4" stroke-width="2.0" stroke-opacity="0.42" stroke-linecap="butt"/>
<path d="M106.2 1014.5 109.3 1015.1 112.4 1016.2M116.3 1015.0 118.9 1013.6 121.4 1012.9 123.9 1012.7 126.5 1012.6 129.0 1012.6 131.5 1012.7 134.1 1013.1 136.6 1013.9 139.1 1014.4 141.7 1014.1 144.2 1013.2 146.7 1012.8 149.3 1013.0 151.8 1013.5 154.3 1014.2 156.9 1014.7 159.4 1014.6 161.9 1014.4M165.9 1013.8 168.4 1013.5 170.9 1014.2 173.4 1015.0 176.0 1014.7 178.5 1013.6 181.0 1012.9 183.5 1012.8 186.1 1013.1 188.6 1013.7 191.1 1014.5 193.6 1014.9 196.2 1014.6 198.7 1013.8 201.2 1013.1 203.7 1012.8 206.2 1012.6 208.8 1012.6 211.3 1012.8 213.8 1013.3 216.3 1014.0 218.9 1014.1 221.4 1013.5 223.9 1013.0 226.4 1013.1 229.0 1013.7 231.5 1014.9 234.0 1016.3M239.6 1015.3 242.1 1013.9 244.7 1013.1 247.2 1012.7 249.7 1012.7 252.2 1012.8 254.7 1013.1 257.2 1014.0 259.8 1015.0 262.3 1015.5 264.8 1015.1 267.3 1014.0 269.8 1013.2 272.3 1012.8 274.9 1012.6 277.4 1012.6 279.9 1012.6 282.4 1012.7 284.9 1013.0 287.4 1014.0 289.9 1015.2 292.5 1015.3 295.0 1014.1 297.5 1013.1 300.0 1012.7 302.5 1012.6 305.0 1012.6 307.6 1012.7 310.1 1012.9 312.6 1013.4 315.1 1014.2 317.6 1014.9 320.1 1014.9 322.7 1014.2 325.2 1013.4 327.7 1012.9 330.2 1012.7 332.7 1012.7 335.2 1012.9 337.8 1013.5 340.3 1014.5 342.8 1014.8 345.3 1014.2 347.8 1013.3 350.3 1012.8 352.8 1012.6 355.4 1012.6 357.9 1012.9 360.4 1013.7 362.9 1014.6 365.4 1014.4 367.9 1013.4 370.5 1012.8 373.0 1012.6 375.5 1012.6 378.0 1012.7 380.5 1012.8 383.0 1013.2 385.6 1014.0 388.1 1014.9 390.6 1015.5 393.1 1015.2 395.6 1014.3 398.1 1013.5 400.6 1012.9 403.2 1012.7 405.7 1012.7 408.2 1013.0 410.7 1013.6 413.2 1014.5 415.7 1015.1 418.3 1014.8 420.8 1014.0 423.3 1013.2 425.8 1013.0 428.3 1013.6 430.8 1014.6 433.4 1015.3 435.9 1014.8 438.4 1013.7 440.9 1013.0 443.4 1012.8 445.9 1013.2 448.5 1013.9 451.0 1014.5 453.5 1014.2 456.0 1013.5 458.5 1013.0 461.0 1012.8 463.5 1013.1 466.1 1013.8 468.6 1014.6 471.1 1014.9 473.6 1014.4 476.1 1013.6 478.6 1013.3 481.2 1013.6M486.8 1014.2 489.3 1014.4 491.8 1014.5 494.3 1014.0 496.8 1013.3 499.3 1012.8 501.8 1012.7 504.3 1012.9 506.8 1013.6 509.3 1014.4 511.8 1014.4 514.3 1013.5 516.8 1012.9 519.3 1012.7 521.8 1012.7 524.3 1013.0 526.8 1013.6 529.3 1014.1 531.8 1014.2 534.3 1013.8 536.8 1013.2 539.3 1012.8 541.8 1012.6 544.3 1012.6 546.8 1012.6 549.3 1012.7 551.8 1012.9 554.3 1013.4 556.9 1014.2 559.4 1014.8 561.9 1014.6 564.4 1013.9 566.9 1013.2 569.4 1012.8 571.9 1012.6 574.4 1012.6 576.9 1012.6 579.4 1012.6 581.9 1012.7 584.4 1013.2 586.9 1013.9 589.4 1014.2 591.9 1013.7 594.4 1013.1 596.9 1013.0 599.4 1013.5M614.6 1016.3 617.2 1015.7 619.8 1014.5 622.4 1013.5 625.0 1013.2 627.6 1013.6 630.2 1014.3 632.8 1014.8 635.4 1014.6 638.0 1013.9 640.6 1013.2 643.2 1012.8 645.8 1012.6 648.4 1012.6 651.0 1012.6 653.6 1012.7 656.2 1013.3 658.8 1014.6 661.4 1015.6 664.0 1014.9 666.6 1013.8 669.2 1013.7" fill="none" stroke="#2fa4e4" stroke-width="1.0" stroke-opacity="0.7" stroke-linecap="butt" stroke-dasharray="11 6 5 9"/>
<path d="M106.2 1014.5 109.3 1015.1 112.4 1016.2M116.3 1015.0 118.9 1013.6 121.4 1012.9 123.9 1012.7 126.5 1012.6 129.0 1012.6 131.5 1012.7 134.1 1013.1 136.6 1013.9 139.1 1014.4 141.7 1014.1 144.2 1013.2 146.7 1012.8 149.3 1013.0 151.8 1013.5 154.3 1014.2 156.9 1014.7 159.4 1014.6 161.9 1014.4M165.9 1013.8 168.4 1013.5 170.9 1014.2 173.4 1015.0 176.0 1014.7 178.5 1013.6 181.0 1012.9 183.5 1012.8 186.1 1013.1 188.6 1013.7 191.1 1014.5 193.6 1014.9 196.2 1014.6 198.7 1013.8 201.2 1013.1 203.7 1012.8 206.2 1012.6 208.8 1012.6 211.3 1012.8 213.8 1013.3 216.3 1014.0 218.9 1014.1 221.4 1013.5 223.9 1013.0 226.4 1013.1 229.0 1013.7 231.5 1014.9 234.0 1016.3M239.6 1015.3 242.1 1013.9 244.7 1013.1 247.2 1012.7 249.7 1012.7 252.2 1012.8 254.7 1013.1 257.2 1014.0 259.8 1015.0 262.3 1015.5 264.8 1015.1 267.3 1014.0 269.8 1013.2 272.3 1012.8 274.9 1012.6 277.4 1012.6 279.9 1012.6 282.4 1012.7 284.9 1013.0 287.4 1014.0 289.9 1015.2 292.5 1015.3 295.0 1014.1 297.5 1013.1 300.0 1012.7 302.5 1012.6 305.0 1012.6 307.6 1012.7 310.1 1012.9 312.6 1013.4 315.1 1014.2 317.6 1014.9 320.1 1014.9 322.7 1014.2 325.2 1013.4 327.7 1012.9 330.2 1012.7 332.7 1012.7 335.2 1012.9 337.8 1013.5 340.3 1014.5 342.8 1014.8 345.3 1014.2 347.8 1013.3 350.3 1012.8 352.8 1012.6 355.4 1012.6 357.9 1012.9 360.4 1013.7 362.9 1014.6 365.4 1014.4 367.9 1013.4 370.5 1012.8 373.0 1012.6 375.5 1012.6 378.0 1012.7 380.5 1012.8 383.0 1013.2 385.6 1014.0 388.1 1014.9 390.6 1015.5 393.1 1015.2 395.6 1014.3 398.1 1013.5 400.6 1012.9 403.2 1012.7 405.7 1012.7 408.2 1013.0 410.7 1013.6 413.2 1014.5 415.7 1015.1 418.3 1014.8 420.8 1014.0 423.3 1013.2 425.8 1013.0 428.3 1013.6 430.8 1014.6 433.4 1015.3 435.9 1014.8 438.4 1013.7 440.9 1013.0 443.4 1012.8 445.9 1013.2 448.5 1013.9 451.0 1014.5 453.5 1014.2 456.0 1013.5 458.5 1013.0 461.0 1012.8 463.5 1013.1 466.1 1013.8 468.6 1014.6 471.1 1014.9 473.6 1014.4 476.1 1013.6 478.6 1013.3 481.2 1013.6M486.8 1014.2 489.3 1014.4 491.8 1014.5 494.3 1014.0 496.8 1013.3 499.3 1012.8 501.8 1012.7 504.3 1012.9 506.8 1013.6 509.3 1014.4 511.8 1014.4 514.3 1013.5 516.8 1012.9 519.3 1012.7 521.8 1012.7 524.3 1013.0 526.8 1013.6 529.3 1014.1 531.8 1014.2 534.3 1013.8 536.8 1013.2 539.3 1012.8 541.8 1012.6 544.3 1012.6 546.8 1012.6 549.3 1012.7 551.8 1012.9 554.3 1013.4 556.9 1014.2 559.4 1014.8 561.9 1014.6 564.4 1013.9 566.9 1013.2 569.4 1012.8 571.9 1012.6 574.4 1012.6 576.9 1012.6 579.4 1012.6 581.9 1012.7 584.4 1013.2 586.9 1013.9 589.4 1014.2 591.9 1013.7 594.4 1013.1 596.9 1013.0 599.4 1013.5M614.6 1016.3 617.2 1015.7 619.8 1014.5 622.4 1013.5 625.0 1013.2 627.6 1013.6 630.2 1014.3 632.8 1014.8 635.4 1014.6 638.0 1013.9 640.6 1013.2 643.2 1012.8 645.8 1012.6 648.4 1012.6 651.0 1012.6 653.6 1012.7 656.2 1013.3 658.8 1014.6 661.4 1015.6 664.0 1014.9 666.6 1013.8 669.2 1013.7" fill="none" stroke="#cfd050" stroke-width="0.9" stroke-opacity="0.7" stroke-linecap="butt" stroke-dasharray="3 43"/>
<path d="M241.3 698.0h5.0M455.0 699.4h6.5M368.7 696.9h5.6M408.3 698.2h6.3M238.0 701.0h4.6M518.6 696.7h6.8M133.8 700.7h3.3M437.9 700.1h6.6M327.8 701.6h2.7M311.6 696.6h3.1M642.2 700.5h6.3M342.3 699.2h4.7M334.8 701.2h5.4M622.0 701.7h5.4" stroke="#4a5fe6" stroke-width="1.3" stroke-opacity="0.3" fill="none"/>
<path d="M240.3 710.4h4.0M195.6 695.3h4.0M616.0 999.2h5.8M232.5 890.0h3.4M205.3 711.7h3.1M621.2 1011.0h6.0M551.2 747.8h3.5M455.7 970.9h6.3M595.1 703.6h5.0M480.3 877.3h2.9" stroke="#4656dc" stroke-width="1.3" stroke-opacity="0.22" fill="none"/>
<path d="M106.5 788.2H636" stroke="#b9b0de" stroke-width="1.3" fill="none"/>
<rect x="279.9" y="756.9" width="56.6" height="41.3" fill="none" stroke="#fe0000" stroke-width="5.2"/>
</g>
<path d="M106.7 648.2L668.7 648.2" stroke="#555" stroke-width="0.7" stroke-linecap="square" fill="none"/>
<path d="M668.7 648.2L668.7 1091.4" stroke="#444" stroke-width="0.8" stroke-linecap="square" fill="none"/>
<path d="M106.7 1091.4L636.0 1091.4" stroke="#111" stroke-width="1.4" stroke-linecap="square" fill="none"/>
<path d="M636.0 1091.4L668.7 1091.4" stroke="#555" stroke-width="0.9" stroke-linecap="square" fill="none"/>
<path d="M106.7 648.2L106.7 1091.4" stroke="#111" stroke-width="1.7" stroke-linecap="square" fill="none"/>
<path d="M162.5 1091.9v-6.0M162.5 647.7v6.0M218.8 1091.9v-6.0M218.8 647.7v6.0M275.1 1091.9v-6.0M275.1 647.7v6.0M331.4 1091.9v-6.0M331.4 647.7v6.0M387.7 1091.9v-6.0M387.7 647.7v6.0M444.0 1091.9v-6.0M444.0 647.7v6.0M500.3 1091.9v-6.0M500.3 647.7v6.0M556.6 1091.9v-6.0M556.6 647.7v6.0M612.9 1091.9v-6.0M612.9 647.7v6.0M106.2 1047.5h6.0M669.2 1047.5h-6.0M106.2 1003.1h6.0M669.2 1003.1h-6.0M106.2 958.6h6.0M669.2 958.6h-6.0M106.2 914.2h6.0M669.2 914.2h-6.0M106.2 869.8h6.0M669.2 869.8h-6.0M106.2 825.4h6.0M669.2 825.4h-6.0M106.2 781.0h6.0M669.2 781.0h-6.0M106.2 736.5h6.0M669.2 736.5h-6.0M106.2 692.1h6.0M669.2 692.1h-6.0" stroke="#222" stroke-width="1.1" fill="none"/>
<g font-family="'Liberation Serif', 'Times New Roman', serif" font-size="16.8" fill="#262626">
<g text-anchor="end">
<text x="99.0" y="1098.6">0</text>
<text x="99.0" y="1054.2">100</text>
<text x="99.0" y="1009.8">200</text>
<text x="99.0" y="965.3">300</text>
<text x="99.0" y="920.9">400</text>
<text x="99.0" y="876.5">500</text>
<text x="99.0" y="832.1">600</text>
<text x="99.0" y="787.7">700</text>
<text x="99.0" y="743.2">800</text>
<text x="99.0" y="698.8">900</text>
<text x="99.0" y="654.4">1000</text>
</g><g text-anchor="middle">
<text x="106.2" y="1115.8">0</text>
<text x="162.5" y="1115.8">0.2</text>
<text x="218.8" y="1115.8">0.4</text>
<text x="275.1" y="1115.8">0.6</text>
<text x="331.4" y="1115.8">0.8</text>
<text x="387.7" y="1115.8">1</text>
<text x="444.0" y="1115.8">1.2</text>
<text x="500.3" y="1115.8">1.4</text>
<text x="556.6" y="1115.8">1.6</text>
<text x="612.9" y="1115.8">1.8</text>
<text x="669.2" y="1115.8">2</text>
</g></g>
<g font-family="'Liberation Serif', 'Times New Roman', serif" font-size="22.7" fill="#262626" text-anchor="middle">
<text x="388.7" y="1143.9">Time / s</text>
<text transform="translate(55.7 870.5) rotate(-90)">Fre / Hz</text>
</g></g>
<g id="panel-h">
<rect x="830.0" y="642.9" width="552.8" height="449.0" fill="#3e26a8"/>
<clipPath id="clip-h"><rect x="830.0" y="642.9" width="552.8" height="449.0"/></clipPath>
<g clip-path="url(#clip-h)">
<filter id="b2" x="-5%" y="-30%" width="110%" height="160%"><feGaussianBlur stdDeviation="1.6"/></filter>
<filter id="b1" x="-5%" y="-30%" width="110%" height="160%"><feGaussianBlur stdDeviation="0.7"/></filter>
<path d="M830.0 823.5 834.0 823.2 838.0 822.9 842.0 822.9 846.0 823.3 850.0 824.5 854.0 825.1 858.0 825.7 862.0 826.5 866.0 827.5 870.0 828.3 874.0 829.1 878.0 830.1 882.0 831.2 886.0 832.2 890.0 833.3 894.0 834.2 898.0 835.1 902.0 835.5 906.0 835.4 910.0 835.3 914.0 835.2 918.0 833.7 922.0 831.8 926.0 830.1 930.0 829.6 934.0 829.1 938.0 828.6 942.0 828.1 946.0 827.7 950.0 827.8 954.0 828.0 958.0 828.2 962.0 828.3 966.0 828.4 970.0 828.5 974.0 828.6 978.0 828.7 982.0 828.5 986.0 827.7 990.0 827.0 994.0 825.6 998.0 824.5 1002.0 824.5 1006.0 824.3 1010.0 824.1 1014.0 823.9 1018.0 823.4 1022.0 822.8 1026.0 822.5 1030.0 822.1 1034.0 822.2 1038.0 822.2 1042.0 822.3 1046.0 822.5 1050.0 823.2 1054.0 823.9 1058.0 824.7 1062.0 825.4 1066.0 826.1 1070.0 826.8 1074.0 827.4 1078.0 827.8 1082.0 828.2 1086.0 828.6 1090.0 829.0 1094.0 829.1 1098.0 829.3 1102.0 829.4 1106.0 829.6 1110.0 830.0 1114.0 830.4 1118.0 830.4 1122.0 830.4 1126.0 830.3 1130.0 830.2 1134.0 830.1 1138.0 830.0 1142.0 829.0 1146.0 827.0 1150.0 825.0 1154.0 823.4 1158.0 822.1 1162.0 822.0 1166.0 822.2 1170.0 822.4 1174.0 822.6 1178.0 822.8 1182.0 822.6 1186.0 822.3 1190.0 821.9 1194.0 821.7 1198.0 821.4 1202.0 821.5 1206.0 821.8 1210.0 822.1 1214.0 822.4 1218.0 822.6 1222.0 823.0 1226.0 823.5 1230.0 824.1 1234.0 824.7 1238.0 825.2 1242.0 825.7 1246.0 826.1 1250.0 826.5 1254.0 826.9 1258.0 827.3 1262.0 827.7 1266.0 828.0 1270.0 828.2 1274.0 828.3 1278.0 828.4 1282.0 828.2 1286.0 827.6 1290.0 827.0 1294.0 826.1 1298.0 825.3 1302.0 824.6 1306.0 824.2 1310.0 823.9 1314.0 823.6 1318.0 823.3 1322.0 823.1 1326.0 822.8 1330.0 822.6 1334.0 822.1 1338.0 821.7 1342.0 821.2 1346.0 820.8 1350.0 820.4 1354.0 819.8 1358.0 819.2 1362.0 818.7 1366.0 818.1 1370.0 817.5 1374.0 816.7 1378.0 816.0 1382.0 815.2 1383.0 815.0 1383.0 823.0 1382.0 823.1 1378.0 823.4 1374.0 823.7 1370.0 824.0 1366.0 824.1 1362.0 824.2 1358.0 824.2 1354.0 824.3 1350.0 824.4 1346.0 824.5 1342.0 824.6 1338.0 824.8 1334.0 824.9 1330.0 825.1 1326.0 825.3 1322.0 825.4 1318.0 825.6 1314.0 825.8 1310.0 826.0 1306.0 826.2 1302.0 826.4 1298.0 826.8 1294.0 827.4 1290.0 828.0 1286.0 828.6 1282.0 829.2 1278.0 829.4 1274.0 829.3 1270.0 829.2 1266.0 829.0 1262.0 828.7 1258.0 828.3 1254.0 827.9 1250.0 827.5 1246.0 827.1 1242.0 826.7 1238.0 826.3 1234.0 825.9 1230.0 825.5 1226.0 825.1 1222.0 824.7 1218.0 824.5 1214.0 824.5 1210.0 824.5 1206.0 824.5 1202.0 824.5 1198.0 824.5 1194.0 824.5 1190.0 824.5 1186.0 824.6 1182.0 824.8 1178.0 824.9 1174.0 825.0 1170.0 825.1 1166.0 825.2 1162.0 825.4 1158.0 825.5 1154.0 826.6 1150.0 828.0 1146.0 829.2 1142.0 830.4 1138.0 831.0 1134.0 831.1 1130.0 831.2 1126.0 831.3 1122.0 831.4 1118.0 831.4 1114.0 831.4 1110.0 831.0 1106.0 830.6 1102.0 830.4 1098.0 830.3 1094.0 830.1 1090.0 830.0 1086.0 829.6 1082.0 829.2 1078.0 828.8 1074.0 828.4 1070.0 827.8 1066.0 827.3 1062.0 826.8 1058.0 826.2 1054.0 825.7 1050.0 825.2 1046.0 824.6 1042.0 824.5 1038.0 824.5 1034.0 824.5 1030.0 824.5 1026.0 824.9 1022.0 825.3 1018.0 825.7 1014.0 826.0 1010.0 825.9 1006.0 825.8 1002.0 825.6 998.0 825.5 994.0 826.6 990.0 828.0 986.0 829.4 982.0 830.8 978.0 831.7 974.0 832.1 970.0 832.5 966.0 832.9 962.0 833.3 958.0 833.6 954.0 834.0 950.0 834.2 946.0 834.5 942.0 834.9 938.0 835.1 934.0 835.3 930.0 835.5 926.0 835.7 922.0 835.9 918.0 836.1 914.0 836.2 910.0 836.3 906.0 836.4 902.0 836.5 898.0 836.6 894.0 836.7 890.0 836.8 886.0 836.8 882.0 836.8 878.0 836.8 874.0 836.8 870.0 836.8 866.0 836.8 862.0 836.6 858.0 836.4 854.0 836.2 850.0 836.0 846.0 835.2 842.0 834.3 838.0 833.5 834.0 833.0 830.0 832.5Z" fill="#3a5ee6" fill-opacity="0.8" filter="url(#b1)"/>
<path d="M830.0 827.5 834.0 827.6 838.0 827.7 842.0 828.1 846.0 828.7 850.0 829.8 854.0 830.2 858.0 830.6 862.0 831.1 866.0 831.6 870.0 832.0 874.0 832.4 878.0 832.9 882.0 833.5 886.0 834.0 890.0 834.5 894.0 834.9 898.0 835.3 902.0 835.5 906.0 835.4 910.0 835.3 914.0 835.2 918.0 834.4 922.0 833.3 926.0 832.4 930.0 832.1 934.0 831.7 938.0 831.4 942.0 831.0 946.0 830.6 950.0 830.5 954.0 830.5 958.0 830.4 962.0 830.3 966.0 830.1 970.0 830.0 974.0 829.9 978.0 829.7 982.0 829.1 986.0 828.1 990.0 827.0 994.0 825.6 998.0 824.5 1002.0 824.6 1006.0 824.5 1010.0 824.5 1014.0 824.4 1018.0 824.0 1022.0 823.6 1026.0 823.2 1030.0 822.8 1034.0 822.8 1038.0 822.9 1042.0 822.9 1046.0 823.1 1050.0 823.7 1054.0 824.3 1058.0 824.9 1062.0 825.6 1066.0 826.2 1070.0 826.8 1074.0 827.4 1078.0 827.8 1082.0 828.2 1086.0 828.6 1090.0 829.0 1094.0 829.1 1098.0 829.3 1102.0 829.4 1106.0 829.6 1110.0 830.0 1114.0 830.4 1118.0 830.4 1122.0 830.4 1126.0 830.3 1130.0 830.2 1134.0 830.1 1138.0 830.0 1142.0 829.2 1146.0 827.6 1150.0 826.0 1154.0 824.5 1158.0 823.3 1162.0 823.2 1166.0 823.2 1170.0 823.3 1174.0 823.3 1178.0 823.3 1182.0 823.2 1186.0 823.0 1190.0 822.7 1194.0 822.6 1198.0 822.5 1202.0 822.5 1206.0 822.6 1210.0 822.8 1214.0 823.0 1218.0 823.1 1222.0 823.3 1226.0 823.8 1230.0 824.3 1234.0 824.8 1238.0 825.3 1242.0 825.7 1246.0 826.1 1250.0 826.5 1254.0 826.9 1258.0 827.3 1262.0 827.7 1266.0 828.0 1270.0 828.2 1274.0 828.3 1278.0 828.4 1282.0 828.2 1286.0 827.6 1290.0 827.0 1294.0 826.3 1298.0 825.5 1302.0 825.0 1306.0 824.7 1310.0 824.5 1314.0 824.2 1318.0 824.0 1322.0 823.8 1326.0 823.5 1330.0 823.4 1334.0 823.0 1338.0 822.7 1342.0 822.4 1346.0 822.1 1350.0 821.9 1354.0 821.6 1358.0 821.2 1362.0 820.9 1366.0 820.6 1370.0 820.2 1374.0 819.7 1378.0 819.2 1382.0 818.6 1383.0 818.5 1383.0 823.0 1382.0 823.1 1378.0 823.4 1374.0 823.7 1370.0 824.0 1366.0 824.1 1362.0 824.2 1358.0 824.2 1354.0 824.3 1350.0 824.4 1346.0 824.5 1342.0 824.6 1338.0 824.8 1334.0 824.9 1330.0 825.1 1326.0 825.3 1322.0 825.4 1318.0 825.6 1314.0 825.8 1310.0 826.0 1306.0 826.2 1302.0 826.4 1298.0 826.8 1294.0 827.4 1290.0 828.0 1286.0 828.6 1282.0 829.2 1278.0 829.4 1274.0 829.3 1270.0 829.2 1266.0 829.0 1262.0 828.7 1258.0 828.3 1254.0 827.9 1250.0 827.5 1246.0 827.1 1242.0 826.7 1238.0 826.3 1234.0 825.9 1230.0 825.5 1226.0 825.1 1222.0 824.7 1218.0 824.5 1214.0 824.5 1210.0 824.5 1206.0 824.5 1202.0 824.5 1198.0 824.5 1194.0 824.5 1190.0 824.5 1186.0 824.6 1182.0 824.8 1178.0 824.9 1174.0 825.0 1170.0 825.1 1166.0 825.2 1162.0 825.4 1158.0 825.5 1154.0 826.6 1150.0 828.0 1146.0 829.2 1142.0 830.4 1138.0 831.0 1134.0 831.1 1130.0 831.2 1126.0 831.3 1122.0 831.4 1118.0 831.4 1114.0 831.4 1110.0 831.0 1106.0 830.6 1102.0 830.4 1098.0 830.3 1094.0 830.1 1090.0 830.0 1086.0 829.6 1082.0 829.2 1078.0 828.8 1074.0 828.4 1070.0 827.8 1066.0 827.3 1062.0 826.8 1058.0 826.2 1054.0 825.7 1050.0 825.2 1046.0 824.6 1042.0 824.5 1038.0 824.5 1034.0 824.5 1030.0 824.5 1026.0 824.9 1022.0 825.3 1018.0 825.7 1014.0 826.0 1010.0 825.9 1006.0 825.8 1002.0 825.6 998.0 825.5 994.0 826.6 990.0 828.0 986.0 829.4 982.0 830.8 978.0 831.7 974.0 832.1 970.0 832.5 966.0 832.9 962.0 833.3 958.0 833.6 954.0 834.0 950.0 834.2 946.0 834.5 942.0 834.9 938.0 835.1 934.0 835.3 930.0 835.5 926.0 835.7 922.0 835.9 918.0 836.1 914.0 836.2 910.0 836.3 906.0 836.4 902.0 836.5 898.0 836.6 894.0 836.7 890.0 836.8 886.0 836.8 882.0 836.8 878.0 836.8 874.0 836.8 870.0 836.8 866.0 836.8 862.0 836.6 858.0 836.4 854.0 836.2 850.0 836.0 846.0 835.2 842.0 834.3 838.0 833.5 834.0 833.0 830.0 832.5Z" fill="#2f7bee" fill-opacity="0.8" filter="url(#b1)"/>
<clipPath id="underH"><path d="M830.0 831.2 838.0 832.2 850.0 834.7 865.0 835.5 890.0 835.5 920.0 834.7 940.0 833.7 960.0 832.2 980.0 830.2 990.0 826.7 997.0 824.2 1015.0 824.7 1030.0 823.2 1045.0 823.2 1060.0 825.2 1075.0 827.2 1090.0 828.7 1105.0 829.2 1115.0 830.2 1140.0 829.7 1150.0 826.7 1157.0 824.2 1175.0 823.7 1190.0 823.2 1220.0 823.2 1235.0 824.7 1250.0 826.2 1265.0 827.7 1280.0 828.2 1290.0 826.7 1300.0 825.2 1320.0 824.2 1345.0 823.2 1370.0 822.7 1383.0 821.7 1383.0 1000.0 830.0 1000.0Z"/></clipPath>
<g clip-path="url(#underH)">
<g filter="url(#b2)">
<path d="M830.0 831.5 834.0 832.0 838.0 832.5 842.0 833.3 846.0 834.2 850.0 835.0 854.0 835.2 858.0 835.4 862.0 835.6 866.0 835.8 870.0 835.8 874.0 835.8 878.0 835.8 882.0 835.8 886.0 835.8 890.0 835.8 894.0 835.7 898.0 835.6 902.0 835.5 906.0 835.4 910.0 835.3 914.0 835.2 918.0 835.1 922.0 834.9 926.0 834.7 930.0 834.5 934.0 834.3 938.0 834.1 942.0 833.9 946.0 833.5 950.0 833.2 954.0 833.0 958.0 832.6 962.0 832.3 966.0 831.9 970.0 831.5 974.0 831.1 978.0 830.7 982.0 829.8 986.0 828.4 990.0 827.0 994.0 825.6 998.0 824.5 1002.0 824.6 1006.0 824.8 1010.0 824.9 1014.0 825.0 1018.0 824.7 1022.0 824.3 1026.0 823.9 1030.0 823.5 1030.0 825.0 1026.0 825.4 1022.0 825.8 1018.0 826.2 1014.0 826.5 1010.0 826.4 1006.0 826.2 1002.0 826.1 998.0 826.6 994.0 829.1 990.0 832.5 986.0 835.9 982.0 840.2 978.0 844.3 974.0 849.5 970.0 859.5 966.0 863.9 962.0 864.7 958.0 864.2 954.0 863.8 950.0 863.2 946.0 864.1 942.0 864.9 938.0 865.7 934.0 866.4 930.0 867.0 926.0 867.6 922.0 867.9 918.0 868.1 914.0 867.9 910.0 866.8 906.0 865.7 902.0 864.0 898.0 862.1 894.0 860.3 890.0 858.8 886.0 857.2 882.0 855.6 878.0 854.3 874.0 853.2 870.0 852.1 866.0 851.1 862.0 849.8 858.0 848.6 854.0 847.3 850.0 846.0 846.0 844.4 842.0 842.7 838.0 840.9 834.0 839.2 830.0 837.5Z" fill="#3c3fc6" fill-opacity="0.55"/>
<path d="M830.0 831.5 834.0 832.0 838.0 832.5 842.0 833.3 846.0 834.2 850.0 835.0 854.0 835.2 858.0 835.4 862.0 835.6 866.0 835.8 870.0 835.8 874.0 835.8 878.0 835.8 882.0 835.8 886.0 835.8 890.0 835.8 894.0 835.7 898.0 835.6 902.0 835.5 906.0 835.4 910.0 835.3 914.0 835.2 918.0 835.1 922.0 834.9 926.0 834.7 930.0 834.5 934.0 834.3 938.0 834.1 942.0 833.9 946.0 833.5 950.0 833.2 954.0 833.0 958.0 832.6 962.0 832.3 966.0 831.9 970.0 831.5 974.0 831.1 978.0 830.7 982.0 829.8 986.0 828.4 990.0 827.0 994.0 825.6 998.0 824.5 1002.0 824.6 1006.0 824.8 1010.0 824.9 1014.0 825.0 1018.0 824.7 1022.0 824.3 1026.0 823.9 1030.0 823.5 1030.0 824.7 1026.0 825.1 1022.0 825.5 1018.0 825.9 1014.0 826.1 1010.0 826.0 1006.0 825.9 1002.0 825.8 998.0 826.2 994.0 828.3 990.0 831.3 986.0 834.2 982.0 837.9 978.0 841.3 974.0 845.5 970.0 853.3 966.0 856.9 962.0 857.6 958.0 857.3 954.0 857.0 950.0 856.6 946.0 857.4 942.0 858.1 938.0 858.7 934.0 859.3 930.0 859.9 926.0 860.4 922.0 860.6 918.0 860.8 914.0 860.7 910.0 859.8 906.0 859.0 902.0 857.7 898.0 856.3 894.0 854.9 890.0 853.7 886.0 852.5 882.0 851.2 878.0 850.2 874.0 849.4 870.0 848.5 866.0 847.7 862.0 846.7 858.0 845.7 854.0 844.6 850.0 843.6 846.0 842.1 842.0 840.7 838.0 839.1 834.0 837.6 830.0 836.2Z" fill="#3a49d2" fill-opacity="0.50"/>
<path d="M830.0 831.5 834.0 832.0 838.0 832.5 842.0 833.3 846.0 834.2 850.0 835.0 854.0 835.2 858.0 835.4 862.0 835.6 866.0 835.8 870.0 835.8 874.0 835.8 878.0 835.8 882.0 835.8 886.0 835.8 890.0 835.8 894.0 835.7 898.0 835.6 902.0 835.5 906.0 835.4 910.0 835.3 914.0 835.2 918.0 835.1 922.0 834.9 926.0 834.7 930.0 834.5 934.0 834.3 938.0 834.1 942.0 833.9 946.0 833.5 950.0 833.2 954.0 833.0 958.0 832.6 962.0 832.3 966.0 831.9 970.0 831.5 974.0 831.1 978.0 830.7 982.0 829.8 986.0 828.4 990.0 827.0 994.0 825.6 998.0 824.5 1002.0 824.6 1006.0 824.8 1010.0 824.9 1014.0 825.0 1018.0 824.7 1022.0 824.3 1026.0 823.9 1030.0 823.5 1030.0 824.4 1026.0 824.8 1022.0 825.2 1018.0 825.6 1014.0 825.8 1010.0 825.7 1006.0 825.6 1002.0 825.5 998.0 825.7 994.0 827.6 990.0 830.2 986.0 832.8 982.0 835.8 978.0 838.6 974.0 841.8 970.0 847.7 966.0 850.5 962.0 851.1 958.0 851.0 954.0 850.8 950.0 850.6 946.0 851.3 942.0 851.9 938.0 852.4 934.0 852.9 930.0 853.4 926.0 853.8 922.0 854.0 918.0 854.2 914.0 854.1 910.0 853.5 906.0 852.9 902.0 852.0 898.0 851.0 894.0 850.0 890.0 849.1 886.0 848.2 882.0 847.3 878.0 846.5 874.0 845.9 870.0 845.3 866.0 844.7 862.0 843.9 858.0 843.0 854.0 842.2 850.0 841.4 846.0 840.1 842.0 838.8 838.0 837.4 834.0 836.2 830.0 835.0Z" fill="#3855de" fill-opacity="0.55"/>
<path d="M830.0 831.5 834.0 832.0 838.0 832.5 842.0 833.3 846.0 834.2 850.0 835.0 854.0 835.2 858.0 835.4 862.0 835.6 866.0 835.8 870.0 835.8 874.0 835.8 878.0 835.8 882.0 835.8 886.0 835.8 890.0 835.8 894.0 835.7 898.0 835.6 902.0 835.5 906.0 835.4 910.0 835.3 914.0 835.2 918.0 835.1 922.0 834.9 926.0 834.7 930.0 834.5 934.0 834.3 938.0 834.1 942.0 833.9 946.0 833.5 950.0 833.2 954.0 833.0 958.0 832.6 962.0 832.3 966.0 831.9 970.0 831.5 974.0 831.1 978.0 830.7 982.0 829.8 986.0 828.4 990.0 827.0 994.0 825.6 998.0 824.5 1002.0 824.6 1006.0 824.8 1010.0 824.9 1014.0 825.0 1018.0 824.7 1022.0 824.3 1026.0 823.9 1030.0 823.5 1030.0 824.1 1026.0 824.5 1022.0 824.9 1018.0 825.3 1014.0 825.6 1010.0 825.5 1006.0 825.4 1002.0 825.2 998.0 825.4 994.0 827.0 990.0 829.2 986.0 831.4 982.0 834.0 978.0 836.1 974.0 838.5 970.0 842.7 966.0 844.7 962.0 845.3 958.0 845.3 954.0 845.3 950.0 845.2 946.0 845.8 942.0 846.3 938.0 846.7 934.0 847.1 930.0 847.5 926.0 847.9 922.0 848.1 918.0 848.3 914.0 848.2 910.0 847.9 906.0 847.5 902.0 846.9 898.0 846.2 894.0 845.5 890.0 845.0 886.0 844.4 882.0 843.7 878.0 843.2 874.0 842.8 870.0 842.3 866.0 841.9 862.0 841.3 858.0 840.7 854.0 840.0 850.0 839.4 846.0 838.2 842.0 837.1 838.0 835.9 834.0 834.9 830.0 833.9Z" fill="#3563e8" fill-opacity="0.60"/>
<path d="M830.0 831.5 834.0 832.0 838.0 832.5 842.0 833.3 846.0 834.2 850.0 835.0 854.0 835.2 858.0 835.4 862.0 835.6 866.0 835.8 870.0 835.8 874.0 835.8 878.0 835.8 882.0 835.8 886.0 835.8 890.0 835.8 894.0 835.7 898.0 835.6 902.0 835.5 906.0 835.4 910.0 835.3 914.0 835.2 918.0 835.1 922.0 834.9 926.0 834.7 930.0 834.5 934.0 834.3 938.0 834.1 942.0 833.9 946.0 833.5 950.0 833.2 954.0 833.0 958.0 832.6 962.0 832.3 966.0 831.9 970.0 831.5 974.0 831.1 978.0 830.7 982.0 829.8 986.0 828.4 990.0 827.0 994.0 825.6 998.0 824.5 1002.0 824.6 1006.0 824.8 1010.0 824.9 1014.0 825.0 1018.0 824.7 1022.0 824.3 1026.0 823.9 1030.0 823.5 1030.0 823.9 1026.0 824.3 1022.0 824.7 1018.0 825.1 1014.0 825.4 1010.0 825.3 1006.0 825.2 1002.0 825.0 998.0 825.1 994.0 826.5 990.0 828.5 986.0 830.4 982.0 832.6 978.0 834.4 974.0 836.1 970.0 839.1 966.0 840.5 962.0 841.0 958.0 841.2 954.0 841.3 950.0 841.4 946.0 841.8 942.0 842.2 938.0 842.6 934.0 843.0 930.0 843.3 926.0 843.6 922.0 843.8 918.0 844.0 914.0 844.0 910.0 843.8 906.0 843.6 902.0 843.2 898.0 842.7 894.0 842.3 890.0 842.0 886.0 841.6 882.0 841.1 878.0 840.8 874.0 840.5 870.0 840.2 866.0 839.9 862.0 839.5 858.0 839.0 854.0 838.5 850.0 838.0 846.0 836.9 842.0 835.9 838.0 834.8 834.0 833.9 830.0 833.1Z" fill="#2f74ee" fill-opacity="0.75"/>
<path d="M1030.0 823.5 1034.0 823.5 1038.0 823.5 1042.0 823.5 1046.0 823.6 1050.0 824.2 1054.0 824.7 1058.0 825.2 1062.0 825.8 1066.0 826.3 1070.0 826.8 1074.0 827.4 1078.0 827.8 1082.0 828.2 1086.0 828.6 1090.0 829.0 1094.0 829.1 1098.0 829.3 1102.0 829.4 1106.0 829.6 1110.0 830.0 1114.0 830.4 1118.0 830.4 1122.0 830.4 1126.0 830.3 1130.0 830.2 1134.0 830.1 1138.0 830.0 1142.0 829.4 1146.0 828.2 1150.0 827.0 1154.0 825.6 1158.0 824.5 1162.0 824.4 1166.0 824.2 1170.0 824.1 1174.0 824.0 1178.0 823.9 1182.0 823.8 1186.0 823.6 1190.0 823.5 1194.0 823.5 1195.0 823.5 1195.0 825.0 1194.0 825.0 1190.0 825.0 1186.0 825.1 1182.0 825.3 1178.0 825.4 1174.0 826.8 1170.0 833.1 1166.0 842.6 1162.0 851.5 1158.0 860.3 1154.0 864.4 1150.0 867.0 1146.0 867.8 1142.0 868.6 1138.0 868.8 1134.0 868.5 1130.0 868.2 1126.0 868.3 1122.0 868.4 1118.0 868.4 1114.0 868.3 1110.0 867.7 1106.0 867.0 1102.0 866.5 1098.0 865.5 1094.0 863.9 1090.0 860.7 1086.0 855.7 1082.0 849.1 1078.0 841.8 1074.0 834.0 1070.0 829.6 1066.0 828.5 1062.0 827.5 1058.0 826.7 1054.0 826.2 1050.0 825.7 1046.0 825.1 1042.0 825.0 1038.0 825.0 1034.0 825.0 1030.0 825.0Z" fill="#3c3fc6" fill-opacity="0.28"/>
<path d="M1030.0 823.5 1034.0 823.5 1038.0 823.5 1042.0 823.5 1046.0 823.6 1050.0 824.2 1054.0 824.7 1058.0 825.2 1062.0 825.8 1066.0 826.3 1070.0 826.8 1074.0 827.4 1078.0 827.8 1082.0 828.2 1086.0 828.6 1090.0 829.0 1094.0 829.1 1098.0 829.3 1102.0 829.4 1106.0 829.6 1110.0 830.0 1114.0 830.4 1118.0 830.4 1122.0 830.4 1126.0 830.3 1130.0 830.2 1134.0 830.1 1138.0 830.0 1142.0 829.4 1146.0 828.2 1150.0 827.0 1154.0 825.6 1158.0 824.5 1162.0 824.4 1166.0 824.2 1170.0 824.1 1174.0 824.0 1178.0 823.9 1182.0 823.8 1186.0 823.6 1190.0 823.5 1194.0 823.5 1195.0 823.5 1195.0 824.7 1194.0 824.7 1190.0 824.7 1186.0 824.8 1182.0 824.9 1178.0 825.1 1174.0 826.2 1170.0 831.2 1166.0 838.6 1162.0 845.6 1158.0 852.4 1154.0 855.9 1150.0 858.2 1146.0 859.1 1142.0 860.0 1138.0 860.3 1134.0 860.1 1130.0 859.8 1126.0 859.9 1122.0 860.0 1118.0 860.1 1114.0 860.0 1110.0 859.4 1106.0 858.8 1102.0 858.4 1098.0 857.5 1094.0 856.2 1090.0 853.7 1086.0 849.8 1082.0 844.5 1078.0 838.7 1074.0 832.6 1070.0 829.0 1066.0 828.1 1062.0 827.1 1058.0 826.4 1054.0 825.9 1050.0 825.3 1046.0 824.8 1042.0 824.7 1038.0 824.7 1034.0 824.7 1030.0 824.7Z" fill="#3a49d2" fill-opacity="0.25"/>
<path d="M1030.0 823.5 1034.0 823.5 1038.0 823.5 1042.0 823.5 1046.0 823.6 1050.0 824.2 1054.0 824.7 1058.0 825.2 1062.0 825.8 1066.0 826.3 1070.0 826.8 1074.0 827.4 1078.0 827.8 1082.0 828.2 1086.0 828.6 1090.0 829.0 1094.0 829.1 1098.0 829.3 1102.0 829.4 1106.0 829.6 1110.0 830.0 1114.0 830.4 1118.0 830.4 1122.0 830.4 1126.0 830.3 1130.0 830.2 1134.0 830.1 1138.0 830.0 1142.0 829.4 1146.0 828.2 1150.0 827.0 1154.0 825.6 1158.0 824.5 1162.0 824.4 1166.0 824.2 1170.0 824.1 1174.0 824.0 1178.0 823.9 1182.0 823.8 1186.0 823.6 1190.0 823.5 1194.0 823.5 1195.0 823.5 1195.0 824.4 1194.0 824.4 1190.0 824.4 1186.0 824.5 1182.0 824.6 1178.0 824.8 1174.0 825.6 1170.0 829.4 1166.0 834.9 1162.0 840.1 1158.0 845.3 1154.0 848.1 1150.0 850.2 1146.0 851.2 1142.0 852.1 1138.0 852.5 1134.0 852.4 1130.0 852.2 1126.0 852.3 1122.0 852.4 1118.0 852.5 1114.0 852.4 1110.0 851.8 1106.0 851.3 1102.0 850.9 1098.0 850.3 1094.0 849.3 1090.0 847.4 1086.0 844.3 1082.0 840.3 1078.0 835.9 1074.0 831.2 1070.0 828.4 1066.0 827.6 1062.0 826.8 1058.0 826.1 1054.0 825.6 1050.0 825.0 1046.0 824.5 1042.0 824.4 1038.0 824.4 1034.0 824.4 1030.0 824.4Z" fill="#3855de" fill-opacity="0.28"/>
<path d="M1030.0 823.5 1034.0 823.5 1038.0 823.5 1042.0 823.5 1046.0 823.6 1050.0 824.2 1054.0 824.7 1058.0 825.2 1062.0 825.8 1066.0 826.3 1070.0 826.8 1074.0 827.4 1078.0 827.8 1082.0 828.2 1086.0 828.6 1090.0 829.0 1094.0 829.1 1098.0 829.3 1102.0 829.4 1106.0 829.6 1110.0 830.0 1114.0 830.4 1118.0 830.4 1122.0 830.4 1126.0 830.3 1130.0 830.2 1134.0 830.1 1138.0 830.0 1142.0 829.4 1146.0 828.2 1150.0 827.0 1154.0 825.6 1158.0 824.5 1162.0 824.4 1166.0 824.2 1170.0 824.1 1174.0 824.0 1178.0 823.9 1182.0 823.8 1186.0 823.6 1190.0 823.5 1194.0 823.5 1195.0 823.5 1195.0 824.1 1194.0 824.1 1190.0 824.1 1186.0 824.2 1182.0 824.4 1178.0 824.5 1174.0 825.1 1170.0 827.7 1166.0 831.6 1162.0 835.2 1158.0 838.8 1154.0 841.1 1150.0 843.0 1146.0 844.0 1142.0 845.1 1138.0 845.6 1134.0 845.5 1130.0 845.4 1126.0 845.5 1122.0 845.6 1118.0 845.6 1114.0 845.6 1110.0 845.1 1106.0 844.6 1102.0 844.3 1098.0 843.8 1094.0 843.0 1090.0 841.7 1086.0 839.5 1082.0 836.5 1078.0 833.4 1074.0 830.0 1070.0 827.9 1066.0 827.2 1062.0 826.5 1058.0 825.8 1054.0 825.3 1050.0 824.8 1046.0 824.2 1042.0 824.1 1038.0 824.1 1034.0 824.1 1030.0 824.1Z" fill="#3563e8" fill-opacity="0.30"/>
<path d="M1030.0 823.5 1034.0 823.5 1038.0 823.5 1042.0 823.5 1046.0 823.6 1050.0 824.2 1054.0 824.7 1058.0 825.2 1062.0 825.8 1066.0 826.3 1070.0 826.8 1074.0 827.4 1078.0 827.8 1082.0 828.2 1086.0 828.6 1090.0 829.0 1094.0 829.1 1098.0 829.3 1102.0 829.4 1106.0 829.6 1110.0 830.0 1114.0 830.4 1118.0 830.4 1122.0 830.4 1126.0 830.3 1130.0 830.2 1134.0 830.1 1138.0 830.0 1142.0 829.4 1146.0 828.2 1150.0 827.0 1154.0 825.6 1158.0 824.5 1162.0 824.4 1166.0 824.2 1170.0 824.1 1174.0 824.0 1178.0 823.9 1182.0 823.8 1186.0 823.6 1190.0 823.5 1194.0 823.5 1195.0 823.5 1195.0 823.9 1194.0 823.9 1190.0 823.9 1186.0 824.0 1182.0 824.2 1178.0 824.3 1174.0 824.8 1170.0 826.6 1166.0 829.2 1162.0 831.7 1158.0 834.1 1154.0 836.1 1150.0 837.8 1146.0 838.9 1142.0 840.0 1138.0 840.5 1134.0 840.5 1130.0 840.5 1126.0 840.5 1122.0 840.6 1118.0 840.7 1114.0 840.6 1110.0 840.2 1106.0 839.7 1102.0 839.4 1098.0 839.1 1094.0 838.5 1090.0 837.6 1086.0 835.9 1082.0 833.8 1078.0 831.6 1074.0 829.2 1070.0 827.6 1066.0 826.9 1062.0 826.2 1058.0 825.6 1054.0 825.1 1050.0 824.6 1046.0 824.0 1042.0 823.9 1038.0 823.9 1034.0 823.9 1030.0 823.9Z" fill="#2f74ee" fill-opacity="0.38"/>
<path d="M1195.0 823.5 1199.0 823.5 1203.0 823.5 1207.0 823.5 1211.0 823.5 1215.0 823.5 1219.0 823.5 1223.0 823.8 1227.0 824.2 1231.0 824.6 1235.0 825.0 1239.0 825.4 1243.0 825.8 1247.0 826.2 1251.0 826.6 1255.0 827.0 1259.0 827.4 1263.0 827.8 1267.0 828.1 1271.0 828.2 1275.0 828.3 1279.0 828.5 1283.0 828.0 1287.0 827.5 1291.0 826.9 1295.0 826.2 1296.0 826.1 1296.0 833.6 1295.0 833.4 1291.0 833.1 1287.0 834.9 1283.0 837.8 1279.0 841.9 1275.0 845.3 1271.0 849.6 1267.0 853.9 1263.0 857.8 1259.0 861.4 1255.0 859.0 1251.0 854.6 1247.0 850.4 1243.0 846.6 1239.0 842.8 1235.0 839.0 1231.0 835.8 1227.0 832.7 1223.0 829.5 1219.0 827.0 1215.0 825.0 1211.0 825.0 1207.0 825.0 1203.0 825.0 1199.0 825.0 1195.0 825.0Z" fill="#3c3fc6" fill-opacity="0.30"/>
<path d="M1195.0 823.5 1199.0 823.5 1203.0 823.5 1207.0 823.5 1211.0 823.5 1215.0 823.5 1219.0 823.5 1223.0 823.8 1227.0 824.2 1231.0 824.6 1235.0 825.0 1239.0 825.4 1243.0 825.8 1247.0 826.2 1251.0 826.6 1255.0 827.0 1259.0 827.4 1263.0 827.8 1267.0 828.1 1271.0 828.2 1275.0 828.3 1279.0 828.5 1283.0 828.0 1287.0 827.5 1291.0 826.9 1295.0 826.2 1296.0 826.1 1296.0 832.0 1295.0 831.8 1291.0 831.8 1287.0 833.2 1283.0 835.7 1279.0 838.9 1275.0 841.6 1271.0 844.9 1267.0 848.2 1263.0 851.2 1259.0 853.9 1255.0 852.0 1251.0 848.4 1247.0 845.0 1243.0 842.0 1239.0 839.0 1235.0 835.9 1231.0 833.4 1227.0 830.8 1223.0 828.2 1219.0 826.2 1215.0 824.7 1211.0 824.7 1207.0 824.7 1203.0 824.7 1199.0 824.7 1195.0 824.7Z" fill="#3a49d2" fill-opacity="0.28"/>
<path d="M1195.0 823.5 1199.0 823.5 1203.0 823.5 1207.0 823.5 1211.0 823.5 1215.0 823.5 1219.0 823.5 1223.0 823.8 1227.0 824.2 1231.0 824.6 1235.0 825.0 1239.0 825.4 1243.0 825.8 1247.0 826.2 1251.0 826.6 1255.0 827.0 1259.0 827.4 1263.0 827.8 1267.0 828.1 1271.0 828.2 1275.0 828.3 1279.0 828.5 1283.0 828.0 1287.0 827.5 1291.0 826.9 1295.0 826.2 1296.0 826.1 1296.0 830.5 1295.0 830.4 1291.0 830.5 1287.0 831.8 1283.0 833.7 1279.0 836.2 1275.0 838.2 1271.0 840.6 1267.0 843.0 1263.0 845.2 1259.0 847.1 1255.0 845.6 1251.0 842.8 1247.0 840.2 1243.0 837.8 1239.0 835.5 1235.0 833.1 1231.0 831.1 1227.0 829.1 1223.0 827.1 1219.0 825.5 1215.0 824.4 1211.0 824.4 1207.0 824.4 1203.0 824.4 1199.0 824.4 1195.0 824.4Z" fill="#3855de" fill-opacity="0.30"/>
<path d="M1195.0 823.5 1199.0 823.5 1203.0 823.5 1207.0 823.5 1211.0 823.5 1215.0 823.5 1219.0 823.5 1223.0 823.8 1227.0 824.2 1231.0 824.6 1235.0 825.0 1239.0 825.4 1243.0 825.8 1247.0 826.2 1251.0 826.6 1255.0 827.0 1259.0 827.4 1263.0 827.8 1267.0 828.1 1271.0 828.2 1275.0 828.3 1279.0 828.5 1283.0 828.0 1287.0 827.5 1291.0 826.9 1295.0 826.2 1296.0 826.1 1296.0 829.1 1295.0 829.1 1291.0 829.4 1287.0 830.4 1283.0 832.0 1279.0 833.8 1275.0 835.1 1271.0 836.8 1267.0 838.4 1263.0 839.8 1259.0 841.0 1255.0 839.8 1251.0 837.8 1247.0 835.9 1243.0 834.1 1239.0 832.4 1235.0 830.6 1231.0 829.1 1227.0 827.6 1223.0 826.1 1219.0 824.9 1215.0 824.1 1211.0 824.1 1207.0 824.1 1203.0 824.1 1199.0 824.1 1195.0 824.1Z" fill="#3563e8" fill-opacity="0.33"/>
<path d="M1195.0 823.5 1199.0 823.5 1203.0 823.5 1207.0 823.5 1211.0 823.5 1215.0 823.5 1219.0 823.5 1223.0 823.8 1227.0 824.2 1231.0 824.6 1235.0 825.0 1239.0 825.4 1243.0 825.8 1247.0 826.2 1251.0 826.6 1255.0 827.0 1259.0 827.4 1263.0 827.8 1267.0 828.1 1271.0 828.2 1275.0 828.3 1279.0 828.5 1283.0 828.0 1287.0 827.5 1291.0 826.9 1295.0 826.2 1296.0 826.1 1296.0 828.1 1295.0 828.2 1291.0 828.5 1287.0 829.5 1283.0 830.7 1279.0 832.1 1275.0 832.9 1271.0 834.0 1267.0 835.0 1263.0 835.9 1259.0 836.6 1255.0 835.6 1251.0 834.2 1247.0 832.7 1243.0 831.4 1239.0 830.1 1235.0 828.8 1231.0 827.6 1227.0 826.5 1223.0 825.3 1219.0 824.4 1215.0 823.9 1211.0 823.9 1207.0 823.9 1203.0 823.9 1199.0 823.9 1195.0 823.9Z" fill="#2f74ee" fill-opacity="0.41"/>
<path d="M1296.0 826.1 1300.0 825.5 1304.0 825.3 1308.0 825.1 1312.0 824.9 1316.0 824.7 1320.0 824.5 1324.0 824.3 1328.0 824.2 1332.0 824.0 1336.0 823.9 1340.0 823.7 1344.0 823.5 1348.0 823.4 1352.0 823.4 1356.0 823.3 1360.0 823.2 1364.0 823.1 1368.0 823.0 1372.0 822.8 1376.0 822.5 1380.0 822.2 1383.0 822.0 1383.0 850.0 1380.0 848.3 1376.0 846.1 1372.0 843.8 1368.0 842.0 1364.0 840.1 1360.0 839.0 1356.0 838.6 1352.0 838.2 1348.0 837.8 1344.0 837.5 1340.0 837.5 1336.0 837.6 1332.0 837.6 1328.0 837.6 1324.0 837.6 1320.0 837.7 1316.0 837.7 1312.0 837.1 1308.0 836.2 1304.0 835.4 1300.0 834.5 1296.0 833.6Z" fill="#3c3fc6" fill-opacity="0.55"/>
<path d="M1296.0 826.1 1300.0 825.5 1304.0 825.3 1308.0 825.1 1312.0 824.9 1316.0 824.7 1320.0 824.5 1324.0 824.3 1328.0 824.2 1332.0 824.0 1336.0 823.9 1340.0 823.7 1344.0 823.5 1348.0 823.4 1352.0 823.4 1356.0 823.3 1360.0 823.2 1364.0 823.1 1368.0 823.0 1372.0 822.8 1376.0 822.5 1380.0 822.2 1383.0 822.0 1383.0 843.8 1380.0 842.6 1376.0 840.9 1372.0 839.2 1368.0 837.9 1364.0 836.4 1360.0 835.5 1356.0 835.2 1352.0 834.9 1348.0 834.6 1344.0 834.4 1340.0 834.5 1336.0 834.5 1332.0 834.6 1328.0 834.7 1324.0 834.7 1320.0 834.8 1316.0 834.9 1312.0 834.4 1308.0 833.8 1304.0 833.2 1300.0 832.5 1296.0 832.0Z" fill="#3a49d2" fill-opacity="0.50"/>
<path d="M1296.0 826.1 1300.0 825.5 1304.0 825.3 1308.0 825.1 1312.0 824.9 1316.0 824.7 1320.0 824.5 1324.0 824.3 1328.0 824.2 1332.0 824.0 1336.0 823.9 1340.0 823.7 1344.0 823.5 1348.0 823.4 1352.0 823.4 1356.0 823.3 1360.0 823.2 1364.0 823.1 1368.0 823.0 1372.0 822.8 1376.0 822.5 1380.0 822.2 1383.0 822.0 1383.0 838.2 1380.0 837.4 1376.0 836.2 1372.0 835.0 1368.0 834.1 1364.0 833.0 1360.0 832.3 1356.0 832.2 1352.0 832.0 1348.0 831.8 1344.0 831.6 1340.0 831.7 1336.0 831.8 1332.0 831.9 1328.0 832.0 1324.0 832.1 1320.0 832.1 1316.0 832.3 1312.0 832.0 1308.0 831.6 1304.0 831.1 1300.0 830.7 1296.0 830.5Z" fill="#3855de" fill-opacity="0.55"/>
<path d="M1296.0 826.1 1300.0 825.5 1304.0 825.3 1308.0 825.1 1312.0 824.9 1316.0 824.7 1320.0 824.5 1324.0 824.3 1328.0 824.2 1332.0 824.0 1336.0 823.9 1340.0 823.7 1344.0 823.5 1348.0 823.4 1352.0 823.4 1356.0 823.3 1360.0 823.2 1364.0 823.1 1368.0 823.0 1372.0 822.8 1376.0 822.5 1380.0 822.2 1383.0 822.0 1383.0 833.2 1380.0 832.7 1376.0 832.0 1372.0 831.2 1368.0 830.6 1364.0 829.9 1360.0 829.5 1356.0 829.4 1352.0 829.3 1348.0 829.2 1344.0 829.1 1340.0 829.2 1336.0 829.3 1332.0 829.4 1328.0 829.6 1324.0 829.7 1320.0 829.8 1316.0 829.9 1312.0 829.8 1308.0 829.6 1304.0 829.3 1300.0 829.1 1296.0 829.1Z" fill="#3563e8" fill-opacity="0.60"/>
<path d="M1296.0 826.1 1300.0 825.5 1304.0 825.3 1308.0 825.1 1312.0 824.9 1316.0 824.7 1320.0 824.5 1324.0 824.3 1328.0 824.2 1332.0 824.0 1336.0 823.9 1340.0 823.7 1344.0 823.5 1348.0 823.4 1352.0 823.4 1356.0 823.3 1360.0 823.2 1364.0 823.1 1368.0 823.0 1372.0 822.8 1376.0 822.5 1380.0 822.2 1383.0 822.0 1383.0 829.6 1380.0 829.3 1376.0 828.9 1372.0 828.5 1368.0 828.2 1364.0 827.7 1360.0 827.5 1356.0 827.4 1352.0 827.4 1348.0 827.3 1344.0 827.3 1340.0 827.4 1336.0 827.6 1332.0 827.7 1328.0 827.8 1324.0 827.9 1320.0 828.1 1316.0 828.2 1312.0 828.2 1308.0 828.1 1304.0 828.0 1300.0 827.9 1296.0 828.1Z" fill="#2f74ee" fill-opacity="0.75"/>
</g>
<path d="M928.5 872Q930 858.5 946.5 857.3Q963.5 858.5 967 872ZM1067.5 872Q1071 862 1081.5 861.2Q1091 862 1095.5 872Z" fill="#3e26a8" fill-opacity="0.85" filter="url(#b1)"/>
<path d="M927 869Q929 857 946.5 855.8Q965 857 968.5 869M1066 869Q1070 860.5 1081.5 859.7Q1092 860.5 1097 868" fill="none" stroke="#4a78f4" stroke-width="1.3" stroke-opacity="0.8"/>
<g filter="url(#b1)">
<path d="M830.0 831.5 834.0 832.0 838.0 832.5 842.0 833.3 846.0 834.2 850.0 835.0 854.0 835.2 858.0 835.4 862.0 835.6 866.0 835.8 870.0 835.8 874.0 835.8 878.0 835.8 882.0 835.8 886.0 835.8 890.0 835.8 894.0 835.7 898.0 835.6 902.0 835.5 906.0 835.4 910.0 835.3 914.0 835.2 918.0 835.1 922.0 834.9 926.0 834.7 930.0 834.5 934.0 834.3 938.0 834.1 942.0 833.9 946.0 833.5 950.0 833.2 954.0 833.0 958.0 832.6 962.0 832.3 966.0 831.9 970.0 831.5 974.0 831.1 978.0 830.7 982.0 829.8 986.0 828.4 990.0 827.0 994.0 825.6 998.0 824.5 1002.0 824.6 1006.0 824.8 1010.0 824.9 1014.0 825.0 1018.0 824.7 1022.0 824.3 1026.0 823.9 1030.0 823.5 1034.0 823.5 1038.0 823.5 1042.0 823.5 1046.0 823.6 1050.0 824.2 1054.0 824.7 1058.0 825.2 1062.0 825.8 1066.0 826.3 1070.0 826.8 1074.0 827.4 1078.0 827.8 1082.0 828.2 1086.0 828.6 1090.0 829.0 1094.0 829.1 1098.0 829.3 1102.0 829.4 1106.0 829.6 1110.0 830.0 1114.0 830.4 1118.0 830.4 1122.0 830.4 1126.0 830.3 1130.0 830.2 1134.0 830.1 1138.0 830.0 1142.0 829.4 1146.0 828.2 1150.0 827.0 1154.0 825.6 1158.0 824.5 1162.0 824.4 1166.0 824.2 1170.0 824.1 1174.0 824.0 1178.0 823.9 1182.0 823.8 1186.0 823.6 1190.0 823.5 1194.0 823.5 1198.0 823.5 1202.0 823.5 1206.0 823.5 1210.0 823.5 1214.0 823.5 1218.0 823.5 1222.0 823.7 1226.0 824.1 1230.0 824.5 1234.0 824.9 1238.0 825.3 1242.0 825.7 1246.0 826.1 1250.0 826.5 1254.0 826.9 1258.0 827.3 1262.0 827.7 1266.0 828.0 1270.0 828.2 1274.0 828.3 1278.0 828.4 1282.0 828.2 1286.0 827.6 1290.0 827.0 1294.0 826.4 1298.0 825.8 1302.0 825.4 1306.0 825.2 1310.0 825.0 1314.0 824.8 1318.0 824.6 1322.0 824.4 1326.0 824.3 1330.0 824.1 1334.0 823.9 1338.0 823.8 1342.0 823.6 1346.0 823.5 1350.0 823.4 1354.0 823.3 1358.0 823.2 1362.0 823.2 1366.0 823.1 1370.0 823.0 1374.0 822.7 1378.0 822.4 1382.0 822.1 1383.0 822.0 1383.0 829.3 1382.0 829.4 1378.0 829.5 1374.0 829.6 1370.0 829.7 1366.0 829.6 1362.0 829.5 1358.0 829.6 1354.0 829.6 1350.0 829.7 1346.0 829.7 1342.0 829.8 1338.0 830.0 1334.0 830.1 1330.0 830.3 1326.0 830.4 1322.0 830.6 1318.0 830.7 1314.0 830.9 1310.0 830.9 1306.0 830.7 1302.0 830.5 1298.0 830.4 1294.0 830.5 1290.0 831.0 1286.0 832.0 1282.0 833.8 1278.0 834.7 1274.0 834.8 1270.0 835.1 1266.0 835.3 1262.0 835.3 1258.0 835.2 1254.0 834.5 1250.0 833.8 1246.0 833.1 1242.0 832.4 1238.0 831.7 1234.0 831.1 1230.0 830.0 1226.0 828.6 1222.0 827.1 1218.0 826.1 1214.0 825.6 1210.0 825.6 1206.0 825.6 1202.0 825.6 1198.0 825.6 1194.0 825.6 1190.0 825.6 1186.0 825.7 1182.0 825.8 1178.0 826.0 1174.0 826.6 1170.0 829.1 1166.0 830.8 1162.0 831.6 1158.0 832.4 1154.0 833.8 1150.0 835.3 1146.0 836.5 1142.0 837.6 1138.0 838.2 1134.0 838.3 1130.0 838.3 1126.0 838.4 1122.0 838.5 1118.0 838.6 1114.0 838.5 1110.0 838.1 1106.0 837.7 1102.0 837.5 1098.0 837.3 1094.0 837.0 1090.0 836.6 1086.0 835.9 1082.0 835.0 1078.0 834.0 1074.0 831.4 1070.0 829.4 1066.0 828.7 1062.0 827.9 1058.0 827.3 1054.0 826.8 1050.0 826.2 1046.0 825.7 1042.0 825.6 1038.0 825.6 1034.0 825.6 1030.0 825.6 1026.0 826.0 1022.0 826.4 1018.0 826.8 1014.0 827.0 1010.0 826.9 1006.0 826.8 1002.0 826.7 998.0 826.8 994.0 828.4 990.0 830.6 986.0 832.8 982.0 835.3 978.0 836.9 974.0 837.7 970.0 838.8 966.0 839.6 962.0 840.0 958.0 840.3 954.0 840.5 950.0 840.8 946.0 841.1 942.0 841.4 938.0 841.7 934.0 842.0 930.0 842.2 926.0 842.4 922.0 842.6 918.0 842.8 914.0 842.9 910.0 842.9 906.0 842.9 902.0 842.9 898.0 842.8 894.0 842.8 890.0 842.7 886.0 842.6 882.0 842.5 878.0 842.4 874.0 842.3 870.0 842.2 866.0 842.1 862.0 841.9 858.0 841.6 854.0 841.3 850.0 840.7 846.0 839.5 842.0 838.4 838.0 837.2 834.0 836.2 830.0 835.3Z" fill="#1f9fdb" fill-opacity="0.95"/>
</g>
<path d="M830.0 831.5 834.0 832.0 838.0 832.5 842.0 833.3 846.0 834.2 850.0 835.0 854.0 835.2 858.0 835.4 862.0 835.6 866.0 835.8 870.0 835.8 874.0 835.8 878.0 835.8 882.0 835.8 886.0 835.8 890.0 835.8 894.0 835.7 898.0 835.6 902.0 835.5 906.0 835.4 910.0 835.3 914.0 835.2 918.0 835.1 922.0 834.9 926.0 834.7 930.0 834.5 934.0 834.3 938.0 834.1 942.0 833.9 946.0 833.5 950.0 833.2 954.0 833.0 958.0 832.6 962.0 832.3 966.0 831.9 970.0 831.5 974.0 831.1 978.0 830.7 982.0 829.8 986.0 828.4 990.0 827.0 994.0 825.6 998.0 824.5 1002.0 824.6 1006.0 824.8 1010.0 824.9 1014.0 825.0 1018.0 824.7 1022.0 824.3 1026.0 823.9 1030.0 823.5 1034.0 823.5 1038.0 823.5 1042.0 823.5 1046.0 823.6 1050.0 824.2 1054.0 824.7 1058.0 825.2 1062.0 825.8 1066.0 826.3 1070.0 826.8 1074.0 827.4 1078.0 827.8 1082.0 828.2 1086.0 828.6 1090.0 829.0 1094.0 829.1 1098.0 829.3 1102.0 829.4 1106.0 829.6 1110.0 830.0 1114.0 830.4 1118.0 830.4 1122.0 830.4 1126.0 830.3 1130.0 830.2 1134.0 830.1 1138.0 830.0 1142.0 829.4 1146.0 828.2 1150.0 827.0 1154.0 825.6 1158.0 824.5 1162.0 824.4 1166.0 824.2 1170.0 824.1 1174.0 824.0 1178.0 823.9 1182.0 823.8 1186.0 823.6 1190.0 823.5 1194.0 823.5 1198.0 823.5 1202.0 823.5 1206.0 823.5 1210.0 823.5 1214.0 823.5 1218.0 823.5 1222.0 823.7 1226.0 824.1 1230.0 824.5 1234.0 824.9 1238.0 825.3 1242.0 825.7 1246.0 826.1 1250.0 826.5 1254.0 826.9 1258.0 827.3 1262.0 827.7 1266.0 828.0 1270.0 828.2 1274.0 828.3 1278.0 828.4 1282.0 828.2 1286.0 827.6 1290.0 827.0 1294.0 826.4 1298.0 825.8 1302.0 825.4 1306.0 825.2 1310.0 825.0 1314.0 824.8 1318.0 824.6 1322.0 824.4 1326.0 824.3 1330.0 824.1 1334.0 823.9 1338.0 823.8 1342.0 823.6 1346.0 823.5 1350.0 823.4 1354.0 823.3 1358.0 823.2 1362.0 823.2 1366.0 823.1 1370.0 823.0 1374.0 822.7 1378.0 822.4 1382.0 822.1 1383.0 822.0 1383.0 826.4 1382.0 826.5 1378.0 826.8 1374.0 827.1 1370.0 827.4 1366.0 827.5 1362.0 827.5 1358.0 827.6 1354.0 827.7 1350.0 827.8 1346.0 827.9 1342.0 828.0 1338.0 828.2 1334.0 828.3 1330.0 828.5 1326.0 828.6 1322.0 828.8 1318.0 829.0 1314.0 829.2 1310.0 829.3 1306.0 829.2 1302.0 829.2 1298.0 829.3 1294.0 829.5 1290.0 830.1 1286.0 831.0 1282.0 832.3 1278.0 832.8 1274.0 832.7 1270.0 832.5 1266.0 832.4 1262.0 832.1 1258.0 831.7 1254.0 831.3 1250.0 830.9 1246.0 830.5 1242.0 830.1 1238.0 829.7 1234.0 829.3 1230.0 828.5 1226.0 827.5 1222.0 826.4 1218.0 825.7 1214.0 825.4 1210.0 825.4 1206.0 825.4 1202.0 825.4 1198.0 825.4 1194.0 825.4 1190.0 825.4 1186.0 825.5 1182.0 825.6 1178.0 825.8 1174.0 826.2 1170.0 827.8 1166.0 828.6 1162.0 828.7 1158.0 828.9 1154.0 830.0 1150.0 831.4 1146.0 832.6 1142.0 833.8 1138.0 834.4 1134.0 834.5 1130.0 834.6 1126.0 834.7 1122.0 834.7 1118.0 834.8 1114.0 834.8 1110.0 834.4 1106.0 834.0 1102.0 833.8 1098.0 833.6 1094.0 833.5 1090.0 833.4 1086.0 833.0 1082.0 832.6 1078.0 832.2 1074.0 830.5 1070.0 829.0 1066.0 828.3 1062.0 827.7 1058.0 827.1 1054.0 826.6 1050.0 826.0 1046.0 825.5 1042.0 825.4 1038.0 825.4 1034.0 825.4 1030.0 825.4 1026.0 825.8 1022.0 826.2 1018.0 826.6 1014.0 826.8 1010.0 826.7 1006.0 826.6 1002.0 826.5 998.0 826.5 994.0 827.9 990.0 829.8 986.0 831.7 982.0 833.8 978.0 835.1 974.0 835.5 970.0 835.9 966.0 836.3 962.0 836.7 958.0 837.0 954.0 837.3 950.0 837.6 946.0 837.9 942.0 838.2 938.0 838.5 934.0 838.7 930.0 838.9 926.0 839.1 922.0 839.3 918.0 839.4 914.0 839.5 910.0 839.6 906.0 839.8 902.0 839.9 898.0 840.0 894.0 840.1 890.0 840.2 886.0 840.2 882.0 840.2 878.0 840.2 874.0 840.2 870.0 840.2 866.0 840.2 862.0 840.0 858.0 839.8 854.0 839.6 850.0 839.1 846.0 838.1 842.0 837.1 838.0 836.0 834.0 835.2 830.0 834.4Z" fill="#27b7a5"/>
<path d="M830.0 832.6 834.5 833.2 839.0 833.8M952.0 834.2 969.0 832.7 986.0 829.5M1008.0 825.9 1015.0 826.1 1022.0 825.4M1030.0 824.6 1041.0 824.6 1052.0 825.5M1066.0 827.4 1069.0 827.8 1072.0 828.2M1212.0 824.6 1229.0 825.5 1246.0 827.2M1266.0 829.1 1284.0 829.0 1302.0 826.5" fill="none" stroke="#f3b338" stroke-width="2.2"/>
<path d="M945.0 834.7 952.0 834.2M986.0 829.5 993.0 827.0M1001.0 825.7 1008.0 825.9M1022.0 825.4 1029.0 824.7M1023.0 825.3 1030.0 824.6M1052.0 825.5 1059.0 826.5M1059.0 826.5 1066.0 827.4M1072.0 828.2 1079.0 829.0M1205.0 824.6 1212.0 824.6M1246.0 827.2 1253.0 827.9M1259.0 828.5 1266.0 829.1M1302.0 826.5 1309.0 826.1" fill="none" stroke="#b9c84a" stroke-width="2.0" stroke-opacity="0.8"/>
</g>
</g>
<path d="M830.5 643.4L1012.4 643.4" stroke="#111" stroke-width="1.6" stroke-linecap="square" fill="none"/>
<path d="M1012.4 643.4L1201.2 643.4" stroke="#444" stroke-width="0.8" stroke-linecap="square" fill="none"/>
<path d="M1201.2 643.4L1382.3 643.4" stroke="#111" stroke-width="1.6" stroke-linecap="square" fill="none"/>
<path d="M1382.3 643.4L1382.3 1091.4" stroke="#333" stroke-width="1.0" stroke-linecap="square" fill="none"/>
<path d="M830.5 1091.4L1382.3 1091.4" stroke="#333" stroke-width="1.0" stroke-linecap="square" fill="none"/>
<path d="M830.5 643.4L830.5 1091.4" stroke="#444" stroke-width="0.9" stroke-linecap="square" fill="none"/>
<path d="M968.2 1091.9v-6.0M968.2 642.9v6.0M1106.4 1091.9v-6.0M1106.4 642.9v6.0M1244.6 1091.9v-6.0M1244.6 642.9v6.0M830.0 1047.7h6.0M1382.8 1047.7h-6.0M830.0 1002.8h6.0M1382.8 1002.8h-6.0M830.0 957.9h6.0M1382.8 957.9h-6.0M830.0 913.0h6.0M1382.8 913.0h-6.0M830.0 868.1h6.0M1382.8 868.1h-6.0M830.0 823.2h6.0M1382.8 823.2h-6.0M830.0 778.3h6.0M1382.8 778.3h-6.0M830.0 733.4h6.0M1382.8 733.4h-6.0M830.0 688.5h6.0M1382.8 688.5h-6.0" stroke="#222" stroke-width="1.1" fill="none"/>
<g font-family="'Liberation Serif', 'Times New Roman', serif" font-size="18" fill="#262626">
<g text-anchor="end">
<text transform="translate(823.6 1099.2) scale(0.97 1)">650</text>
<text transform="translate(823.6 1054.3) scale(0.97 1)">660</text>
<text transform="translate(823.6 1009.4) scale(0.97 1)">670</text>
<text transform="translate(823.6 964.5) scale(0.97 1)">680</text>
<text transform="translate(823.6 919.6) scale(0.97 1)">690</text>
<text transform="translate(823.6 874.7) scale(0.97 1)">700</text>
<text transform="translate(823.6 829.8) scale(0.97 1)">710</text>
<text transform="translate(823.6 784.9) scale(0.97 1)">720</text>
<text transform="translate(823.6 740.0) scale(0.97 1)">730</text>
<text transform="translate(823.6 695.1) scale(0.97 1)">740</text>
<text transform="translate(823.6 650.2) scale(0.97 1)">750</text>
</g><g text-anchor="middle">
<text transform="translate(829.2 1115.8) scale(0.97 1)">0.6</text>
<text transform="translate(967.4 1115.8) scale(0.97 1)">0.65</text>
<text transform="translate(1105.6 1115.8) scale(0.97 1)">0.7</text>
<text transform="translate(1243.8 1115.8) scale(0.97 1)">0.75</text>
<text transform="translate(1382.0 1115.8) scale(0.97 1)">0.8</text>
</g></g>
<g font-family="'Liberation Serif', 'Times New Roman', serif" font-size="23.0" fill="#262626" text-anchor="middle">
<text x="1105.3" y="1142.6">Time / s</text>
<text transform="translate(786.7 867.9) rotate(-90)">Fre / Hz</text>
</g></g>
<g id="panel-i">
<rect x="102.2" y="1279.2" width="564.5" height="454.4" fill="#3e26a8"/>
<clipPath id="clip-i"><rect x="102.2" y="1279.2" width="564.5" height="454.4"/></clipPath>
<g clip-path="url(#clip-i)">
<path d="M107.9 1411.6L134.5 1411.6L123.9 1415.8L118.5 1415.8ZM151.8 1411.6L174.8 1411.6L165.6 1415.7L161.0 1415.7ZM186.0 1411.6L209.5 1411.6L200.1 1415.8L195.4 1415.8ZM238.8 1411.4L258.8 1411.4L250.8 1415.2L246.8 1415.2ZM268.6 1411.7L292.7 1411.7L283.1 1416.1L278.3 1416.1ZM297.8 1411.8L324.7 1411.8L313.9 1416.4L308.5 1416.4ZM349.2 1411.6L367.7 1411.6L360.3 1415.9L356.6 1415.9ZM379.6 1411.6L397.0 1411.6L390.0 1415.8L386.5 1415.8ZM414.3 1411.5L431.4 1411.5L424.6 1415.4L421.2 1415.4ZM452.1 1411.5L477.8 1411.5L467.5 1415.7L462.4 1415.7ZM497.5 1411.6L519.5 1411.6L510.7 1415.9L506.3 1415.9ZM546.1 1411.5L565.9 1411.5L558.0 1415.7L554.0 1415.7ZM599.8 1411.8L625.4 1411.8L615.2 1416.4L610.1 1416.4ZM651.8 1411.5L671.0 1411.5L663.3 1415.5L659.4 1415.5Z" fill="#3a7cf0" fill-opacity="0.85"/>
<path d="M105.0 1412.0 107.5 1411.6 110.0 1411.6 112.5 1411.8 115.0 1412.2 117.5 1412.7 120.1 1412.9 122.6 1412.9 125.1 1412.6 127.6 1412.2 130.1 1411.7 132.6 1411.4 135.1 1411.2 137.6 1411.1 140.1 1411.0 142.6 1411.0 145.1 1411.0 147.6 1411.0 150.1 1411.1 152.6 1411.3 155.1 1411.6 157.6 1412.1 160.1 1412.6 162.6 1412.9 165.1 1412.8 167.6 1412.4 170.2 1411.9 172.7 1411.4 175.2 1411.2 177.7 1411.1 180.2 1411.2 182.7 1411.4 185.2 1412.0M192.5 1413.1 196.2 1413.1 199.9 1413.7M208.9 1412.2 211.5 1411.5 214.1 1411.2 216.7 1411.1 219.3 1411.0 221.9 1411.1 224.6 1411.2 227.2 1411.4 229.8 1411.9M237.1 1412.0 239.6 1411.6 242.1 1411.7 244.6 1412.0 247.1 1412.3 249.6 1412.3 252.1 1412.0 254.7 1411.6 257.2 1411.3 259.7 1411.1 262.2 1411.0 264.7 1411.1 267.2 1411.1 269.7 1411.4 272.2 1411.7 274.7 1412.3 277.2 1412.9 279.7 1413.3 282.2 1413.2 284.7 1412.8 287.2 1412.2 289.7 1411.7 292.2 1411.3 294.7 1411.2 297.2 1411.3 299.7 1411.5 302.2 1411.9 304.7 1412.5 307.3 1413.1 309.8 1413.4 312.3 1413.5 314.8 1413.1 317.3 1412.6 319.8 1412.0 322.3 1411.6 324.8 1411.3 327.3 1411.1 329.8 1411.0 332.3 1411.0 334.8 1411.0 337.3 1411.0 339.8 1411.0 342.3 1411.0 344.8 1411.0 347.3 1411.1 349.8 1411.3 352.3 1411.8 354.8 1412.4 357.4 1413.0 359.9 1412.9 362.4 1412.4 364.9 1411.7 367.4 1411.3 369.9 1411.1 372.4 1411.0 374.9 1411.0 377.4 1411.1 379.9 1411.2 382.4 1411.7 384.9 1412.4 387.4 1412.9 389.9 1412.8 392.4 1412.2 394.9 1411.5 397.4 1411.2 399.9 1411.0 402.4 1411.0 404.9 1411.0 407.5 1411.0 410.0 1411.0 412.5 1411.1 415.0 1411.2 417.5 1411.6 420.0 1412.2 422.5 1412.5 425.0 1412.3 427.5 1411.8 430.0 1411.3 432.5 1411.1 435.0 1411.0 437.5 1411.0 440.0 1411.0 442.5 1411.0 445.0 1411.0 447.5 1411.0 450.0 1411.1 452.5 1411.2 455.0 1411.5 457.6 1411.9 460.1 1412.3 462.6 1412.7 465.1 1412.8 467.6 1412.7 470.1 1412.3 472.6 1412.0 475.1 1411.8 477.6 1412.1M494.0 1411.9 496.5 1411.5 499.0 1411.6 501.5 1411.9 504.0 1412.5 506.6 1412.9 509.1 1413.1 511.6 1412.7 514.1 1412.2 516.7 1411.6 519.2 1411.3 521.7 1411.1 524.2 1411.0 526.7 1411.0 529.3 1411.0 531.8 1411.0 534.3 1411.0 536.8 1411.0 539.3 1411.0 541.9 1411.0 544.4 1411.1 546.9 1411.3 549.4 1411.7 552.0 1412.3 554.5 1412.7 557.0 1412.8 559.5 1412.4 562.0 1411.9 564.6 1411.5 567.1 1411.5 569.6 1411.9M576.9 1411.9 579.5 1411.4 582.1 1411.2 584.7 1411.1 587.2 1411.0 589.8 1411.0 592.4 1411.1 594.9 1411.2 597.5 1411.5 600.1 1412.2M606.9 1413.5 609.5 1413.6 612.1 1413.7 614.7 1413.5 617.3 1412.9 619.9 1412.2 622.5 1411.7 625.1 1411.3 627.7 1411.1 630.3 1411.0 632.9 1411.0 635.5 1411.0 638.1 1411.0 640.7 1411.0 643.3 1411.0 645.9 1411.0 648.5 1411.0 651.1 1411.1 653.7 1411.4 656.3 1411.9 658.9 1412.5 661.5 1412.8 664.1 1412.7 666.7 1412.7" fill="none" stroke="#3d6cf3" stroke-width="2.6" stroke-opacity="0.7" stroke-linecap="butt"/>
<path d="M105.0 1412.0 107.5 1411.6 110.0 1411.6 112.5 1411.8 115.0 1412.2 117.5 1412.7 120.1 1412.9 122.6 1412.9 125.1 1412.6 127.6 1412.2 130.1 1411.7 132.6 1411.4 135.1 1411.2 137.6 1411.1 140.1 1411.0 142.6 1411.0 145.1 1411.0 147.6 1411.0 150.1 1411.1 152.6 1411.3 155.1 1411.6 157.6 1412.1 160.1 1412.6 162.6 1412.9 165.1 1412.8 167.6 1412.4 170.2 1411.9 172.7 1411.4 175.2 1411.2 177.7 1411.1 180.2 1411.2 182.7 1411.4 185.2 1412.0M192.5 1413.1 196.2 1413.1 199.9 1413.7M208.9 1412.2 211.5 1411.5 214.1 1411.2 216.7 1411.1 219.3 1411.0 221.9 1411.1 224.6 1411.2 227.2 1411.4 229.8 1411.9M237.1 1412.0 239.6 1411.6 242.1 1411.7 244.6 1412.0 247.1 1412.3 249.6 1412.3 252.1 1412.0 254.7 1411.6 257.2 1411.3 259.7 1411.1 262.2 1411.0 264.7 1411.1 267.2 1411.1 269.7 1411.4 272.2 1411.7 274.7 1412.3 277.2 1412.9 279.7 1413.3 282.2 1413.2 284.7 1412.8 287.2 1412.2 289.7 1411.7 292.2 1411.3 294.7 1411.2 297.2 1411.3 299.7 1411.5 302.2 1411.9 304.7 1412.5 307.3 1413.1 309.8 1413.4 312.3 1413.5 314.8 1413.1 317.3 1412.6 319.8 1412.0 322.3 1411.6 324.8 1411.3 327.3 1411.1 329.8 1411.0 332.3 1411.0 334.8 1411.0 337.3 1411.0 339.8 1411.0 342.3 1411.0 344.8 1411.0 347.3 1411.1 349.8 1411.3 352.3 1411.8 354.8 1412.4 357.4 1413.0 359.9 1412.9 362.4 1412.4 364.9 1411.7 367.4 1411.3 369.9 1411.1 372.4 1411.0 374.9 1411.0 377.4 1411.1 379.9 1411.2 382.4 1411.7 384.9 1412.4 387.4 1412.9 389.9 1412.8 392.4 1412.2 394.9 1411.5 397.4 1411.2 399.9 1411.0 402.4 1411.0 404.9 1411.0 407.5 1411.0 410.0 1411.0 412.5 1411.1 415.0 1411.2 417.5 1411.6 420.0 1412.2 422.5 1412.5 425.0 1412.3 427.5 1411.8 430.0 1411.3 432.5 1411.1 435.0 1411.0 437.5 1411.0 440.0 1411.0 442.5 1411.0 445.0 1411.0 447.5 1411.0 450.0 1411.1 452.5 1411.2 455.0 1411.5 457.6 1411.9 460.1 1412.3 462.6 1412.7 465.1 1412.8 467.6 1412.7 470.1 1412.3 472.6 1412.0 475.1 1411.8 477.6 1412.1M494.0 1411.9 496.5 1411.5 499.0 1411.6 501.5 1411.9 504.0 1412.5 506.6 1412.9 509.1 1413.1 511.6 1412.7 514.1 1412.2 516.7 1411.6 519.2 1411.3 521.7 1411.1 524.2 1411.0 526.7 1411.0 529.3 1411.0 531.8 1411.0 534.3 1411.0 536.8 1411.0 539.3 1411.0 541.9 1411.0 544.4 1411.1 546.9 1411.3 549.4 1411.7 552.0 1412.3 554.5 1412.7 557.0 1412.8 559.5 1412.4 562.0 1411.9 564.6 1411.5 567.1 1411.5 569.6 1411.9M576.9 1411.9 579.5 1411.4 582.1 1411.2 584.7 1411.1 587.2 1411.0 589.8 1411.0 592.4 1411.1 594.9 1411.2 597.5 1411.5 600.1 1412.2M606.9 1413.5 609.5 1413.6 612.1 1413.7 614.7 1413.5 617.3 1412.9 619.9 1412.2 622.5 1411.7 625.1 1411.3 627.7 1411.1 630.3 1411.0 632.9 1411.0 635.5 1411.0 638.1 1411.0 640.7 1411.0 643.3 1411.0 645.9 1411.0 648.5 1411.0 651.1 1411.1 653.7 1411.4 656.3 1411.9 658.9 1412.5 661.5 1412.8 664.1 1412.7 666.7 1412.7" fill="none" stroke="#25b3c4" stroke-width="1.5" stroke-opacity="0.95" stroke-linecap="butt"/>
<path d="M105.0 1412.0 107.5 1411.6 110.0 1411.6 112.5 1411.8 115.0 1412.2 117.5 1412.7 120.1 1412.9 122.6 1412.9 125.1 1412.6 127.6 1412.2 130.1 1411.7 132.6 1411.4 135.1 1411.2 137.6 1411.1 140.1 1411.0 142.6 1411.0 145.1 1411.0 147.6 1411.0 150.1 1411.1 152.6 1411.3 155.1 1411.6 157.6 1412.1 160.1 1412.6 162.6 1412.9 165.1 1412.8 167.6 1412.4 170.2 1411.9 172.7 1411.4 175.2 1411.2 177.7 1411.1 180.2 1411.2 182.7 1411.4 185.2 1412.0M192.5 1413.1 196.2 1413.1 199.9 1413.7M208.9 1412.2 211.5 1411.5 214.1 1411.2 216.7 1411.1 219.3 1411.0 221.9 1411.1 224.6 1411.2 227.2 1411.4 229.8 1411.9M237.1 1412.0 239.6 1411.6 242.1 1411.7 244.6 1412.0 247.1 1412.3 249.6 1412.3 252.1 1412.0 254.7 1411.6 257.2 1411.3 259.7 1411.1 262.2 1411.0 264.7 1411.1 267.2 1411.1 269.7 1411.4 272.2 1411.7 274.7 1412.3 277.2 1412.9 279.7 1413.3 282.2 1413.2 284.7 1412.8 287.2 1412.2 289.7 1411.7 292.2 1411.3 294.7 1411.2 297.2 1411.3 299.7 1411.5 302.2 1411.9 304.7 1412.5 307.3 1413.1 309.8 1413.4 312.3 1413.5 314.8 1413.1 317.3 1412.6 319.8 1412.0 322.3 1411.6 324.8 1411.3 327.3 1411.1 329.8 1411.0 332.3 1411.0 334.8 1411.0 337.3 1411.0 339.8 1411.0 342.3 1411.0 344.8 1411.0 347.3 1411.1 349.8 1411.3 352.3 1411.8 354.8 1412.4 357.4 1413.0 359.9 1412.9 362.4 1412.4 364.9 1411.7 367.4 1411.3 369.9 1411.1 372.4 1411.0 374.9 1411.0 377.4 1411.1 379.9 1411.2 382.4 1411.7 384.9 1412.4 387.4 1412.9 389.9 1412.8 392.4 1412.2 394.9 1411.5 397.4 1411.2 399.9 1411.0 402.4 1411.0 404.9 1411.0 407.5 1411.0 410.0 1411.0 412.5 1411.1 415.0 1411.2 417.5 1411.6 420.0 1412.2 422.5 1412.5 425.0 1412.3 427.5 1411.8 430.0 1411.3 432.5 1411.1 435.0 1411.0 437.5 1411.0 440.0 1411.0 442.5 1411.0 445.0 1411.0 447.5 1411.0 450.0 1411.1 452.5 1411.2 455.0 1411.5 457.6 1411.9 460.1 1412.3 462.6 1412.7 465.1 1412.8 467.6 1412.7 470.1 1412.3 472.6 1412.0 475.1 1411.8 477.6 1412.1M494.0 1411.9 496.5 1411.5 499.0 1411.6 501.5 1411.9 504.0 1412.5 506.6 1412.9 509.1 1413.1 511.6 1412.7 514.1 1412.2 516.7 1411.6 519.2 1411.3 521.7 1411.1 524.2 1411.0 526.7 1411.0 529.3 1411.0 531.8 1411.0 534.3 1411.0 536.8 1411.0 539.3 1411.0 541.9 1411.0 544.4 1411.1 546.9 1411.3 549.4 1411.7 552.0 1412.3 554.5 1412.7 557.0 1412.8 559.5 1412.4 562.0 1411.9 564.6 1411.5 567.1 1411.5 569.6 1411.9M576.9 1411.9 579.5 1411.4 582.1 1411.2 584.7 1411.1 587.2 1411.0 589.8 1411.0 592.4 1411.1 594.9 1411.2 597.5 1411.5 600.1 1412.2M606.9 1413.5 609.5 1413.6 612.1 1413.7 614.7 1413.5 617.3 1412.9 619.9 1412.2 622.5 1411.7 625.1 1411.3 627.7 1411.1 630.3 1411.0 632.9 1411.0 635.5 1411.0 638.1 1411.0 640.7 1411.0 643.3 1411.0 645.9 1411.0 648.5 1411.0 651.1 1411.1 653.7 1411.4 656.3 1411.9 658.9 1412.5 661.5 1412.8 664.1 1412.7 666.7 1412.7" fill="none" stroke="#f4c531" stroke-width="1.0" stroke-opacity="1.0" stroke-linecap="butt" stroke-dasharray="16 5 7 4 24 8"/>
<path d="M105.0 1412.0 107.5 1411.6 110.0 1411.6 112.5 1411.8 115.0 1412.2 117.5 1412.7 120.1 1412.9 122.6 1412.9 125.1 1412.6 127.6 1412.2 130.1 1411.7 132.6 1411.4 135.1 1411.2 137.6 1411.1 140.1 1411.0 142.6 1411.0 145.1 1411.0 147.6 1411.0 150.1 1411.1 152.6 1411.3 155.1 1411.6 157.6 1412.1 160.1 1412.6 162.6 1412.9 165.1 1412.8 167.6 1412.4 170.2 1411.9 172.7 1411.4 175.2 1411.2 177.7 1411.1 180.2 1411.2 182.7 1411.4 185.2 1412.0M192.5 1413.1 196.2 1413.1 199.9 1413.7M208.9 1412.2 211.5 1411.5 214.1 1411.2 216.7 1411.1 219.3 1411.0 221.9 1411.1 224.6 1411.2 227.2 1411.4 229.8 1411.9M237.1 1412.0 239.6 1411.6 242.1 1411.7 244.6 1412.0 247.1 1412.3 249.6 1412.3 252.1 1412.0 254.7 1411.6 257.2 1411.3 259.7 1411.1 262.2 1411.0 264.7 1411.1 267.2 1411.1 269.7 1411.4 272.2 1411.7 274.7 1412.3 277.2 1412.9 279.7 1413.3 282.2 1413.2 284.7 1412.8 287.2 1412.2 289.7 1411.7 292.2 1411.3 294.7 1411.2 297.2 1411.3 299.7 1411.5 302.2 1411.9 304.7 1412.5 307.3 1413.1 309.8 1413.4 312.3 1413.5 314.8 1413.1 317.3 1412.6 319.8 1412.0 322.3 1411.6 324.8 1411.3 327.3 1411.1 329.8 1411.0 332.3 1411.0 334.8 1411.0 337.3 1411.0 339.8 1411.0 342.3 1411.0 344.8 1411.0 347.3 1411.1 349.8 1411.3 352.3 1411.8 354.8 1412.4 357.4 1413.0 359.9 1412.9 362.4 1412.4 364.9 1411.7 367.4 1411.3 369.9 1411.1 372.4 1411.0 374.9 1411.0 377.4 1411.1 379.9 1411.2 382.4 1411.7 384.9 1412.4 387.4 1412.9 389.9 1412.8 392.4 1412.2 394.9 1411.5 397.4 1411.2 399.9 1411.0 402.4 1411.0 404.9 1411.0 407.5 1411.0 410.0 1411.0 412.5 1411.1 415.0 1411.2 417.5 1411.6 420.0 1412.2 422.5 1412.5 425.0 1412.3 427.5 1411.8 430.0 1411.3 432.5 1411.1 435.0 1411.0 437.5 1411.0 440.0 1411.0 442.5 1411.0 445.0 1411.0 447.5 1411.0 450.0 1411.1 452.5 1411.2 455.0 1411.5 457.6 1411.9 460.1 1412.3 462.6 1412.7 465.1 1412.8 467.6 1412.7 470.1 1412.3 472.6 1412.0 475.1 1411.8 477.6 1412.1M494.0 1411.9 496.5 1411.5 499.0 1411.6 501.5 1411.9 504.0 1412.5 506.6 1412.9 509.1 1413.1 511.6 1412.7 514.1 1412.2 516.7 1411.6 519.2 1411.3 521.7 1411.1 524.2 1411.0 526.7 1411.0 529.3 1411.0 531.8 1411.0 534.3 1411.0 536.8 1411.0 539.3 1411.0 541.9 1411.0 544.4 1411.1 546.9 1411.3 549.4 1411.7 552.0 1412.3 554.5 1412.7 557.0 1412.8 559.5 1412.4 562.0 1411.9 564.6 1411.5 567.1 1411.5 569.6 1411.9M576.9 1411.9 579.5 1411.4 582.1 1411.2 584.7 1411.1 587.2 1411.0 589.8 1411.0 592.4 1411.1 594.9 1411.2 597.5 1411.5 600.1 1412.2M606.9 1413.5 609.5 1413.6 612.1 1413.7 614.7 1413.5 617.3 1412.9 619.9 1412.2 622.5 1411.7 625.1 1411.3 627.7 1411.1 630.3 1411.0 632.9 1411.0 635.5 1411.0 638.1 1411.0 640.7 1411.0 643.3 1411.0 645.9 1411.0 648.5 1411.0 651.1 1411.1 653.7 1411.4 656.3 1411.9 658.9 1412.5 661.5 1412.8 664.1 1412.7 666.7 1412.7" fill="none" stroke="#f08b2e" stroke-width="0.9" stroke-opacity="0.7" stroke-linecap="butt" stroke-dasharray="6 33"/>
<path d="M117.1 1572.1L144.3 1572.1L133.4 1575.9L128.0 1575.9ZM166.4 1572.0L190.1 1572.0L180.6 1575.4L175.9 1575.4ZM217.2 1572.2L244.7 1572.2L233.7 1576.0L228.2 1576.0ZM282.8 1572.1L309.9 1572.1L299.1 1575.8L293.7 1575.8ZM333.5 1572.1L354.6 1572.1L346.2 1575.7L341.9 1575.7ZM406.9 1572.0L435.9 1572.0L424.3 1575.4L418.5 1575.4ZM454.7 1572.1L477.9 1572.1L468.6 1575.9L464.0 1575.9ZM514.4 1572.2L533.8 1572.2L526.0 1576.0L522.1 1576.0ZM555.8 1572.2L581.1 1572.2L571.0 1576.1L565.9 1576.1ZM598.7 1572.2L629.3 1572.2L617.0 1576.1L610.9 1576.1ZM650.0 1572.1L670.8 1572.1L662.5 1575.7L658.3 1575.7Z" fill="#3a7cf0" fill-opacity="0.85"/>
<path d="M102.2 1572.7 104.7 1572.2 107.3 1571.9 109.8 1571.8 112.3 1571.8 114.9 1571.8 117.4 1571.9 120.0 1572.1 122.5 1572.3 125.0 1572.6 127.6 1572.9 130.1 1573.0 132.6 1572.9 135.2 1572.7 137.7 1572.4 140.2 1572.2 142.8 1572.0 145.3 1571.9 147.8 1571.8 150.4 1571.8 152.9 1571.8 155.5 1571.8 158.0 1571.8 160.5 1571.8 163.1 1571.8 165.6 1571.8 168.1 1571.9 170.7 1572.1 173.2 1572.2 175.7 1572.4 178.3 1572.5 180.8 1572.4 183.3 1572.2 185.9 1572.1 188.4 1571.9 191.0 1571.8 193.5 1571.8 196.0 1571.8 198.6 1571.8 201.1 1571.8 203.6 1571.8 206.2 1571.8 208.7 1571.8 211.2 1571.8 213.8 1571.8 216.3 1571.9 218.8 1572.0 221.4 1572.2 223.9 1572.5 226.5 1572.8 229.0 1573.1 231.5 1573.1 234.1 1573.0 236.6 1572.7 239.1 1572.4 241.7 1572.1 244.2 1571.9 246.7 1571.8 249.3 1571.8 251.8 1571.8 254.3 1571.8 256.9 1571.9 259.4 1572.2 262.0 1572.7M265.9 1572.7 269.6 1572.0 273.2 1572.7M277.2 1572.7 279.7 1572.2 282.2 1572.0 284.7 1572.1 287.2 1572.2 289.8 1572.5 292.3 1572.7 294.8 1572.9 297.3 1572.9 299.8 1572.8 302.3 1572.5 304.8 1572.2 307.4 1572.0 309.9 1571.9 312.4 1571.8 314.9 1571.8 317.4 1571.8 319.9 1571.8 322.4 1571.8 324.9 1571.8 327.5 1571.8 330.0 1571.8 332.5 1571.8 335.0 1572.0 337.5 1572.2 340.0 1572.5 342.5 1572.8 345.0 1572.8 347.6 1572.6 350.1 1572.3 352.6 1572.0 355.1 1571.9 357.6 1571.8 360.1 1571.8 362.6 1571.8 365.1 1571.8 367.7 1571.8 370.2 1571.8 372.7 1571.8 375.2 1571.8 377.7 1571.8 380.2 1571.8 382.7 1571.8 385.3 1571.8 387.8 1571.8 390.3 1571.8 392.8 1571.8 395.3 1571.8 397.8 1571.8 400.3 1571.8 402.8 1571.8 405.4 1571.8 407.9 1571.9 410.4 1572.0 412.9 1572.1 415.4 1572.3 417.9 1572.4 420.4 1572.5 422.9 1572.5 425.5 1572.4 428.0 1572.2 430.5 1572.1 433.0 1571.9 435.5 1571.9 438.0 1571.8 440.5 1571.8 443.0 1571.8 445.6 1571.8 448.1 1571.8 450.6 1571.8 453.1 1571.8 455.6 1572.0 458.1 1572.2 460.6 1572.5 463.2 1572.8 465.7 1573.0 468.2 1572.9 470.7 1572.7 473.2 1572.3 475.7 1572.1 478.2 1571.9 480.7 1571.8 483.3 1571.8 485.8 1571.8 488.3 1571.8 490.8 1571.8 493.3 1571.8 495.8 1571.8 498.3 1571.8 500.8 1571.8 503.4 1571.8 505.9 1571.8 508.4 1571.8 510.9 1571.8 513.4 1571.9 515.9 1572.0 518.4 1572.4 520.9 1572.9 523.5 1573.1 526.0 1573.0 528.5 1572.6 531.0 1572.2 533.5 1571.9 536.0 1571.8 538.5 1571.8 541.1 1571.8 543.6 1571.8 546.1 1571.8 548.6 1571.8 551.1 1571.8 553.6 1571.8 556.1 1571.9 558.6 1572.1 561.2 1572.4 563.7 1572.8 566.2 1573.1 568.7 1573.2 571.2 1573.1 573.7 1572.7 576.2 1572.4 578.7 1572.1 581.3 1571.9 583.8 1571.8 586.3 1571.8 588.8 1571.8 591.3 1571.8 593.8 1571.8 596.3 1571.8 598.9 1571.9 601.4 1572.1 603.9 1572.3 606.4 1572.6 608.9 1572.9 611.4 1573.2 613.9 1573.3 616.4 1573.2 619.0 1572.9 621.5 1572.6 624.0 1572.3 626.5 1572.1 629.0 1571.9 631.5 1571.8 634.0 1571.8 636.5 1571.8 639.1 1571.8 641.6 1571.8 644.1 1571.8 646.6 1571.8 649.1 1571.8 651.6 1572.0 654.1 1572.2 656.6 1572.6 659.2 1572.9 661.7 1572.9 664.2 1572.9 666.7 1573.1" fill="none" stroke="#3d6cf3" stroke-width="2.6" stroke-opacity="0.7" stroke-linecap="butt"/>
<path d="M102.2 1572.7 104.7 1572.2 107.3 1571.9 109.8 1571.8 112.3 1571.8 114.9 1571.8 117.4 1571.9 120.0 1572.1 122.5 1572.3 125.0 1572.6 127.6 1572.9 130.1 1573.0 132.6 1572.9 135.2 1572.7 137.7 1572.4 140.2 1572.2 142.8 1572.0 145.3 1571.9 147.8 1571.8 150.4 1571.8 152.9 1571.8 155.5 1571.8 158.0 1571.8 160.5 1571.8 163.1 1571.8 165.6 1571.8 168.1 1571.9 170.7 1572.1 173.2 1572.2 175.7 1572.4 178.3 1572.5 180.8 1572.4 183.3 1572.2 185.9 1572.1 188.4 1571.9 191.0 1571.8 193.5 1571.8 196.0 1571.8 198.6 1571.8 201.1 1571.8 203.6 1571.8 206.2 1571.8 208.7 1571.8 211.2 1571.8 213.8 1571.8 216.3 1571.9 218.8 1572.0 221.4 1572.2 223.9 1572.5 226.5 1572.8 229.0 1573.1 231.5 1573.1 234.1 1573.0 236.6 1572.7 239.1 1572.4 241.7 1572.1 244.2 1571.9 246.7 1571.8 249.3 1571.8 251.8 1571.8 254.3 1571.8 256.9 1571.9 259.4 1572.2 262.0 1572.7M265.9 1572.7 269.6 1572.0 273.2 1572.7M277.2 1572.7 279.7 1572.2 282.2 1572.0 284.7 1572.1 287.2 1572.2 289.8 1572.5 292.3 1572.7 294.8 1572.9 297.3 1572.9 299.8 1572.8 302.3 1572.5 304.8 1572.2 307.4 1572.0 309.9 1571.9 312.4 1571.8 314.9 1571.8 317.4 1571.8 319.9 1571.8 322.4 1571.8 324.9 1571.8 327.5 1571.8 330.0 1571.8 332.5 1571.8 335.0 1572.0 337.5 1572.2 340.0 1572.5 342.5 1572.8 345.0 1572.8 347.6 1572.6 350.1 1572.3 352.6 1572.0 355.1 1571.9 357.6 1571.8 360.1 1571.8 362.6 1571.8 365.1 1571.8 367.7 1571.8 370.2 1571.8 372.7 1571.8 375.2 1571.8 377.7 1571.8 380.2 1571.8 382.7 1571.8 385.3 1571.8 387.8 1571.8 390.3 1571.8 392.8 1571.8 395.3 1571.8 397.8 1571.8 400.3 1571.8 402.8 1571.8 405.4 1571.8 407.9 1571.9 410.4 1572.0 412.9 1572.1 415.4 1572.3 417.9 1572.4 420.4 1572.5 422.9 1572.5 425.5 1572.4 428.0 1572.2 430.5 1572.1 433.0 1571.9 435.5 1571.9 438.0 1571.8 440.5 1571.8 443.0 1571.8 445.6 1571.8 448.1 1571.8 450.6 1571.8 453.1 1571.8 455.6 1572.0 458.1 1572.2 460.6 1572.5 463.2 1572.8 465.7 1573.0 468.2 1572.9 470.7 1572.7 473.2 1572.3 475.7 1572.1 478.2 1571.9 480.7 1571.8 483.3 1571.8 485.8 1571.8 488.3 1571.8 490.8 1571.8 493.3 1571.8 495.8 1571.8 498.3 1571.8 500.8 1571.8 503.4 1571.8 505.9 1571.8 508.4 1571.8 510.9 1571.8 513.4 1571.9 515.9 1572.0 518.4 1572.4 520.9 1572.9 523.5 1573.1 526.0 1573.0 528.5 1572.6 531.0 1572.2 533.5 1571.9 536.0 1571.8 538.5 1571.8 541.1 1571.8 543.6 1571.8 546.1 1571.8 548.6 1571.8 551.1 1571.8 553.6 1571.8 556.1 1571.9 558.6 1572.1 561.2 1572.4 563.7 1572.8 566.2 1573.1 568.7 1573.2 571.2 1573.1 573.7 1572.7 576.2 1572.4 578.7 1572.1 581.3 1571.9 583.8 1571.8 586.3 1571.8 588.8 1571.8 591.3 1571.8 593.8 1571.8 596.3 1571.8 598.9 1571.9 601.4 1572.1 603.9 1572.3 606.4 1572.6 608.9 1572.9 611.4 1573.2 613.9 1573.3 616.4 1573.2 619.0 1572.9 621.5 1572.6 624.0 1572.3 626.5 1572.1 629.0 1571.9 631.5 1571.8 634.0 1571.8 636.5 1571.8 639.1 1571.8 641.6 1571.8 644.1 1571.8 646.6 1571.8 649.1 1571.8 651.6 1572.0 654.1 1572.2 656.6 1572.6 659.2 1572.9 661.7 1572.9 664.2 1572.9 666.7 1573.1" fill="none" stroke="#25b3c4" stroke-width="1.5" stroke-opacity="0.95" stroke-linecap="butt"/>
<path d="M102.2 1572.7 104.7 1572.2 107.3 1571.9 109.8 1571.8 112.3 1571.8 114.9 1571.8 117.4 1571.9 120.0 1572.1 122.5 1572.3 125.0 1572.6 127.6 1572.9 130.1 1573.0 132.6 1572.9 135.2 1572.7 137.7 1572.4 140.2 1572.2 142.8 1572.0 145.3 1571.9 147.8 1571.8 150.4 1571.8 152.9 1571.8 155.5 1571.8 158.0 1571.8 160.5 1571.8 163.1 1571.8 165.6 1571.8 168.1 1571.9 170.7 1572.1 173.2 1572.2 175.7 1572.4 178.3 1572.5 180.8 1572.4 183.3 1572.2 185.9 1572.1 188.4 1571.9 191.0 1571.8 193.5 1571.8 196.0 1571.8 198.6 1571.8 201.1 1571.8 203.6 1571.8 206.2 1571.8 208.7 1571.8 211.2 1571.8 213.8 1571.8 216.3 1571.9 218.8 1572.0 221.4 1572.2 223.9 1572.5 226.5 1572.8 229.0 1573.1 231.5 1573.1 234.1 1573.0 236.6 1572.7 239.1 1572.4 241.7 1572.1 244.2 1571.9 246.7 1571.8 249.3 1571.8 251.8 1571.8 254.3 1571.8 256.9 1571.9 259.4 1572.2 262.0 1572.7M265.9 1572.7 269.6 1572.0 273.2 1572.7M277.2 1572.7 279.7 1572.2 282.2 1572.0 284.7 1572.1 287.2 1572.2 289.8 1572.5 292.3 1572.7 294.8 1572.9 297.3 1572.9 299.8 1572.8 302.3 1572.5 304.8 1572.2 307.4 1572.0 309.9 1571.9 312.4 1571.8 314.9 1571.8 317.4 1571.8 319.9 1571.8 322.4 1571.8 324.9 1571.8 327.5 1571.8 330.0 1571.8 332.5 1571.8 335.0 1572.0 337.5 1572.2 340.0 1572.5 342.5 1572.8 345.0 1572.8 347.6 1572.6 350.1 1572.3 352.6 1572.0 355.1 1571.9 357.6 1571.8 360.1 1571.8 362.6 1571.8 365.1 1571.8 367.7 1571.8 370.2 1571.8 372.7 1571.8 375.2 1571.8 377.7 1571.8 380.2 1571.8 382.7 1571.8 385.3 1571.8 387.8 1571.8 390.3 1571.8 392.8 1571.8 395.3 1571.8 397.8 1571.8 400.3 1571.8 402.8 1571.8 405.4 1571.8 407.9 1571.9 410.4 1572.0 412.9 1572.1 415.4 1572.3 417.9 1572.4 420.4 1572.5 422.9 1572.5 425.5 1572.4 428.0 1572.2 430.5 1572.1 433.0 1571.9 435.5 1571.9 438.0 1571.8 440.5 1571.8 443.0 1571.8 445.6 1571.8 448.1 1571.8 450.6 1571.8 453.1 1571.8 455.6 1572.0 458.1 1572.2 460.6 1572.5 463.2 1572.8 465.7 1573.0 468.2 1572.9 470.7 1572.7 473.2 1572.3 475.7 1572.1 478.2 1571.9 480.7 1571.8 483.3 1571.8 485.8 1571.8 488.3 1571.8 490.8 1571.8 493.3 1571.8 495.8 1571.8 498.3 1571.8 500.8 1571.8 503.4 1571.8 505.9 1571.8 508.4 1571.8 510.9 1571.8 513.4 1571.9 515.9 1572.0 518.4 1572.4 520.9 1572.9 523.5 1573.1 526.0 1573.0 528.5 1572.6 531.0 1572.2 533.5 1571.9 536.0 1571.8 538.5 1571.8 541.1 1571.8 543.6 1571.8 546.1 1571.8 548.6 1571.8 551.1 1571.8 553.6 1571.8 556.1 1571.9 558.6 1572.1 561.2 1572.4 563.7 1572.8 566.2 1573.1 568.7 1573.2 571.2 1573.1 573.7 1572.7 576.2 1572.4 578.7 1572.1 581.3 1571.9 583.8 1571.8 586.3 1571.8 588.8 1571.8 591.3 1571.8 593.8 1571.8 596.3 1571.8 598.9 1571.9 601.4 1572.1 603.9 1572.3 606.4 1572.6 608.9 1572.9 611.4 1573.2 613.9 1573.3 616.4 1573.2 619.0 1572.9 621.5 1572.6 624.0 1572.3 626.5 1572.1 629.0 1571.9 631.5 1571.8 634.0 1571.8 636.5 1571.8 639.1 1571.8 641.6 1571.8 644.1 1571.8 646.6 1571.8 649.1 1571.8 651.6 1572.0 654.1 1572.2 656.6 1572.6 659.2 1572.9 661.7 1572.9 664.2 1572.9 666.7 1573.1" fill="none" stroke="#f4c531" stroke-width="1.0" stroke-opacity="1.0" stroke-linecap="butt" stroke-dasharray="16 5 7 4 24 8"/>
<path d="M102.2 1572.7 104.7 1572.2 107.3 1571.9 109.8 1571.8 112.3 1571.8 114.9 1571.8 117.4 1571.9 120.0 1572.1 122.5 1572.3 125.0 1572.6 127.6 1572.9 130.1 1573.0 132.6 1572.9 135.2 1572.7 137.7 1572.4 140.2 1572.2 142.8 1572.0 145.3 1571.9 147.8 1571.8 150.4 1571.8 152.9 1571.8 155.5 1571.8 158.0 1571.8 160.5 1571.8 163.1 1571.8 165.6 1571.8 168.1 1571.9 170.7 1572.1 173.2 1572.2 175.7 1572.4 178.3 1572.5 180.8 1572.4 183.3 1572.2 185.9 1572.1 188.4 1571.9 191.0 1571.8 193.5 1571.8 196.0 1571.8 198.6 1571.8 201.1 1571.8 203.6 1571.8 206.2 1571.8 208.7 1571.8 211.2 1571.8 213.8 1571.8 216.3 1571.9 218.8 1572.0 221.4 1572.2 223.9 1572.5 226.5 1572.8 229.0 1573.1 231.5 1573.1 234.1 1573.0 236.6 1572.7 239.1 1572.4 241.7 1572.1 244.2 1571.9 246.7 1571.8 249.3 1571.8 251.8 1571.8 254.3 1571.8 256.9 1571.9 259.4 1572.2 262.0 1572.7M265.9 1572.7 269.6 1572.0 273.2 1572.7M277.2 1572.7 279.7 1572.2 282.2 1572.0 284.7 1572.1 287.2 1572.2 289.8 1572.5 292.3 1572.7 294.8 1572.9 297.3 1572.9 299.8 1572.8 302.3 1572.5 304.8 1572.2 307.4 1572.0 309.9 1571.9 312.4 1571.8 314.9 1571.8 317.4 1571.8 319.9 1571.8 322.4 1571.8 324.9 1571.8 327.5 1571.8 330.0 1571.8 332.5 1571.8 335.0 1572.0 337.5 1572.2 340.0 1572.5 342.5 1572.8 345.0 1572.8 347.6 1572.6 350.1 1572.3 352.6 1572.0 355.1 1571.9 357.6 1571.8 360.1 1571.8 362.6 1571.8 365.1 1571.8 367.7 1571.8 370.2 1571.8 372.7 1571.8 375.2 1571.8 377.7 1571.8 380.2 1571.8 382.7 1571.8 385.3 1571.8 387.8 1571.8 390.3 1571.8 392.8 1571.8 395.3 1571.8 397.8 1571.8 400.3 1571.8 402.8 1571.8 405.4 1571.8 407.9 1571.9 410.4 1572.0 412.9 1572.1 415.4 1572.3 417.9 1572.4 420.4 1572.5 422.9 1572.5 425.5 1572.4 428.0 1572.2 430.5 1572.1 433.0 1571.9 435.5 1571.9 438.0 1571.8 440.5 1571.8 443.0 1571.8 445.6 1571.8 448.1 1571.8 450.6 1571.8 453.1 1571.8 455.6 1572.0 458.1 1572.2 460.6 1572.5 463.2 1572.8 465.7 1573.0 468.2 1572.9 470.7 1572.7 473.2 1572.3 475.7 1572.1 478.2 1571.9 480.7 1571.8 483.3 1571.8 485.8 1571.8 488.3 1571.8 490.8 1571.8 493.3 1571.8 495.8 1571.8 498.3 1571.8 500.8 1571.8 503.4 1571.8 505.9 1571.8 508.4 1571.8 510.9 1571.8 513.4 1571.9 515.9 1572.0 518.4 1572.4 520.9 1572.9 523.5 1573.1 526.0 1573.0 528.5 1572.6 531.0 1572.2 533.5 1571.9 536.0 1571.8 538.5 1571.8 541.1 1571.8 543.6 1571.8 546.1 1571.8 548.6 1571.8 551.1 1571.8 553.6 1571.8 556.1 1571.9 558.6 1572.1 561.2 1572.4 563.7 1572.8 566.2 1573.1 568.7 1573.2 571.2 1573.1 573.7 1572.7 576.2 1572.4 578.7 1572.1 581.3 1571.9 583.8 1571.8 586.3 1571.8 588.8 1571.8 591.3 1571.8 593.8 1571.8 596.3 1571.8 598.9 1571.9 601.4 1572.1 603.9 1572.3 606.4 1572.6 608.9 1572.9 611.4 1573.2 613.9 1573.3 616.4 1573.2 619.0 1572.9 621.5 1572.6 624.0 1572.3 626.5 1572.1 629.0 1571.9 631.5 1571.8 634.0 1571.8 636.5 1571.8 639.1 1571.8 641.6 1571.8 644.1 1571.8 646.6 1571.8 649.1 1571.8 651.6 1572.0 654.1 1572.2 656.6 1572.6 659.2 1572.9 661.7 1572.9 664.2 1572.9 666.7 1573.1" fill="none" stroke="#f08b2e" stroke-width="0.9" stroke-opacity="0.7" stroke-linecap="butt" stroke-dasharray="6 33"/>
<path d="M99.3 1653.3L116.5 1653.3L109.6 1658.9L106.2 1658.9ZM128.6 1653.1L142.3 1653.1L136.8 1658.1L134.1 1658.1ZM144.2 1653.1L161.7 1653.1L154.7 1658.2L151.2 1658.2ZM163.4 1653.2L177.0 1653.2L171.6 1658.7L168.8 1658.7ZM180.7 1653.2L199.0 1653.2L191.7 1658.5L188.0 1658.5ZM206.9 1653.0L221.0 1653.0L215.3 1657.8L212.5 1657.8ZM249.6 1653.4L267.1 1653.4L260.1 1659.2L256.6 1659.2ZM280.4 1653.4L294.3 1653.4L288.7 1659.1L285.9 1659.1ZM306.0 1653.2L323.7 1653.2L316.6 1658.6L313.1 1658.6ZM331.0 1653.2L345.7 1653.2L339.8 1658.5L336.9 1658.5ZM353.5 1653.1L366.3 1653.1L361.2 1658.3L358.6 1658.3ZM377.3 1653.4L396.7 1653.4L389.0 1659.1L385.1 1659.1ZM403.5 1653.2L421.1 1653.2L414.1 1658.7L410.5 1658.7ZM422.0 1653.3L437.3 1653.3L431.2 1658.9L428.1 1658.9ZM439.6 1653.1L455.5 1653.1L449.1 1658.1L446.0 1658.1ZM458.3 1653.2L474.8 1653.2L468.2 1658.6L464.9 1658.6ZM479.8 1653.0L495.5 1653.0L489.2 1658.0L486.1 1658.0ZM499.7 1653.1L513.1 1653.1L507.7 1658.2L505.0 1658.2ZM518.6 1653.0L535.5 1653.0L528.7 1657.9L525.3 1657.9ZM547.4 1653.2L564.8 1653.2L557.8 1658.4L554.3 1658.4ZM578.3 1653.0L591.3 1653.0L586.1 1657.9L583.5 1657.9ZM620.2 1653.2L638.7 1653.2L631.3 1658.5L627.6 1658.5ZM650.7 1653.4L664.3 1653.4L658.9 1659.1L656.1 1659.1Z" fill="#3a7cf0" fill-opacity="0.85"/>
<path d="M102.2 1654.4 105.3 1655.0 108.4 1656.1M112.4 1654.9 114.9 1653.5 117.4 1652.8 120.0 1652.6 122.5 1652.5 125.1 1652.5 127.6 1652.6 130.1 1653.0 132.7 1653.8 135.2 1654.4 137.8 1653.9 140.3 1653.1 142.8 1652.7 145.4 1652.9 147.9 1653.5 150.5 1654.2 153.0 1654.6 155.5 1654.5 158.1 1654.3M162.0 1653.7 164.6 1653.4 167.1 1654.2 169.6 1655.0 172.2 1654.6 174.7 1653.4 177.2 1652.8 179.7 1652.7 182.3 1653.0 184.8 1653.7 187.3 1654.4 189.9 1654.8 192.4 1654.4 194.9 1653.6 197.5 1653.0 200.0 1652.6 202.5 1652.5 205.0 1652.6 207.6 1652.8 210.1 1653.3 212.6 1654.0 215.2 1654.0 217.7 1653.4 220.2 1652.9 222.8 1653.0 225.3 1653.7 227.8 1655.0 230.3 1656.3M236.0 1655.1 238.5 1653.6 241.0 1652.9 243.6 1652.6 246.1 1652.6 248.6 1652.7 251.1 1653.2 253.6 1654.0 256.2 1655.1 258.7 1655.4 261.2 1654.8 263.7 1653.8 266.3 1653.0 268.8 1652.6 271.3 1652.5 273.8 1652.5 276.3 1652.5 278.9 1652.6 281.4 1653.1 283.9 1654.2 286.4 1655.3 289.0 1655.0 291.5 1653.8 294.0 1652.9 296.5 1652.6 299.1 1652.5 301.6 1652.5 304.1 1652.6 306.6 1652.8 309.1 1653.4 311.7 1654.3 314.2 1654.8 316.7 1654.6 319.2 1653.9 321.8 1653.1 324.3 1652.7 326.8 1652.6 329.3 1652.6 331.8 1652.9 334.4 1653.7 336.9 1654.6 339.4 1654.7 341.9 1653.8 344.5 1653.0 347.0 1652.6 349.5 1652.5 352.0 1652.6 354.5 1652.9 357.1 1653.8 359.6 1654.6 362.1 1654.1 364.6 1653.1 367.2 1652.6 369.7 1652.5 372.2 1652.5 374.7 1652.6 377.3 1652.8 379.8 1653.3 382.3 1654.2 384.8 1655.1 387.3 1655.4 389.9 1654.9 392.4 1653.9 394.9 1653.2 397.4 1652.7 400.0 1652.6 402.5 1652.7 405.0 1653.0 407.5 1653.8 410.0 1654.6 412.6 1655.0 415.1 1654.5 417.6 1653.6 420.1 1653.0 422.7 1653.0 425.2 1653.8 427.7 1654.8 430.2 1655.1 432.8 1654.3 435.3 1653.3 437.8 1652.8 440.3 1652.8 442.8 1653.4 445.4 1654.1 447.9 1654.4 450.4 1653.9 452.9 1653.2 455.5 1652.8 458.0 1652.7 460.5 1653.2 463.0 1654.0 465.5 1654.8 468.1 1654.7 470.6 1653.9 473.1 1653.2 475.6 1653.1 478.2 1653.5M483.8 1654.4 486.3 1654.5 488.8 1654.3 491.3 1653.6 493.8 1653.0 496.3 1652.6 498.9 1652.6 501.4 1653.1 503.9 1653.9 506.4 1654.4 508.9 1653.9 511.4 1653.1 513.9 1652.6 516.4 1652.6 518.9 1652.7 521.4 1653.1 523.9 1653.7 526.5 1654.2 529.0 1654.0 531.5 1653.4 534.0 1652.9 536.5 1652.6 539.0 1652.5 541.5 1652.5 544.0 1652.5 546.5 1652.7 549.0 1653.0 551.5 1653.7 554.1 1654.4 556.6 1654.7 559.1 1654.2 561.6 1653.4 564.1 1652.8 566.6 1652.6 569.1 1652.5 571.6 1652.5 574.1 1652.5 576.6 1652.6 579.1 1652.8 581.6 1653.5 584.2 1654.1 586.7 1653.9 589.2 1653.2 591.7 1652.8 594.2 1652.9 596.7 1653.4M611.9 1656.4 614.6 1655.2 617.2 1653.9 619.8 1653.1 622.4 1653.2 625.0 1653.9 627.6 1654.6 630.2 1654.7 632.8 1654.2 635.4 1653.4 638.0 1652.8 640.6 1652.6 643.2 1652.5 645.8 1652.5 648.4 1652.6 651.1 1652.9 653.7 1653.9 656.3 1655.2 658.9 1655.2 661.5 1654.0 664.1 1653.2 666.7 1653.5" fill="none" stroke="#3d6cf3" stroke-width="2.6" stroke-opacity="0.7" stroke-linecap="butt"/>
<path d="M102.2 1654.4 105.3 1655.0 108.4 1656.1M112.4 1654.9 114.9 1653.5 117.4 1652.8 120.0 1652.6 122.5 1652.5 125.1 1652.5 127.6 1652.6 130.1 1653.0 132.7 1653.8 135.2 1654.4 137.8 1653.9 140.3 1653.1 142.8 1652.7 145.4 1652.9 147.9 1653.5 150.5 1654.2 153.0 1654.6 155.5 1654.5 158.1 1654.3M162.0 1653.7 164.6 1653.4 167.1 1654.2 169.6 1655.0 172.2 1654.6 174.7 1653.4 177.2 1652.8 179.7 1652.7 182.3 1653.0 184.8 1653.7 187.3 1654.4 189.9 1654.8 192.4 1654.4 194.9 1653.6 197.5 1653.0 200.0 1652.6 202.5 1652.5 205.0 1652.6 207.6 1652.8 210.1 1653.3 212.6 1654.0 215.2 1654.0 217.7 1653.4 220.2 1652.9 222.8 1653.0 225.3 1653.7 227.8 1655.0 230.3 1656.3M236.0 1655.1 238.5 1653.6 241.0 1652.9 243.6 1652.6 246.1 1652.6 248.6 1652.7 251.1 1653.2 253.6 1654.0 256.2 1655.1 258.7 1655.4 261.2 1654.8 263.7 1653.8 266.3 1653.0 268.8 1652.6 271.3 1652.5 273.8 1652.5 276.3 1652.5 278.9 1652.6 281.4 1653.1 283.9 1654.2 286.4 1655.3 289.0 1655.0 291.5 1653.8 294.0 1652.9 296.5 1652.6 299.1 1652.5 301.6 1652.5 304.1 1652.6 306.6 1652.8 309.1 1653.4 311.7 1654.3 314.2 1654.8 316.7 1654.6 319.2 1653.9 321.8 1653.1 324.3 1652.7 326.8 1652.6 329.3 1652.6 331.8 1652.9 334.4 1653.7 336.9 1654.6 339.4 1654.7 341.9 1653.8 344.5 1653.0 347.0 1652.6 349.5 1652.5 352.0 1652.6 354.5 1652.9 357.1 1653.8 359.6 1654.6 362.1 1654.1 364.6 1653.1 367.2 1652.6 369.7 1652.5 372.2 1652.5 374.7 1652.6 377.3 1652.8 379.8 1653.3 382.3 1654.2 384.8 1655.1 387.3 1655.4 389.9 1654.9 392.4 1653.9 394.9 1653.2 397.4 1652.7 400.0 1652.6 402.5 1652.7 405.0 1653.0 407.5 1653.8 410.0 1654.6 412.6 1655.0 415.1 1654.5 417.6 1653.6 420.1 1653.0 422.7 1653.0 425.2 1653.8 427.7 1654.8 430.2 1655.1 432.8 1654.3 435.3 1653.3 437.8 1652.8 440.3 1652.8 442.8 1653.4 445.4 1654.1 447.9 1654.4 450.4 1653.9 452.9 1653.2 455.5 1652.8 458.0 1652.7 460.5 1653.2 463.0 1654.0 465.5 1654.8 468.1 1654.7 470.6 1653.9 473.1 1653.2 475.6 1653.1 478.2 1653.5M483.8 1654.4 486.3 1654.5 488.8 1654.3 491.3 1653.6 493.8 1653.0 496.3 1652.6 498.9 1652.6 501.4 1653.1 503.9 1653.9 506.4 1654.4 508.9 1653.9 511.4 1653.1 513.9 1652.6 516.4 1652.6 518.9 1652.7 521.4 1653.1 523.9 1653.7 526.5 1654.2 529.0 1654.0 531.5 1653.4 534.0 1652.9 536.5 1652.6 539.0 1652.5 541.5 1652.5 544.0 1652.5 546.5 1652.7 549.0 1653.0 551.5 1653.7 554.1 1654.4 556.6 1654.7 559.1 1654.2 561.6 1653.4 564.1 1652.8 566.6 1652.6 569.1 1652.5 571.6 1652.5 574.1 1652.5 576.6 1652.6 579.1 1652.8 581.6 1653.5 584.2 1654.1 586.7 1653.9 589.2 1653.2 591.7 1652.8 594.2 1652.9 596.7 1653.4M611.9 1656.4 614.6 1655.2 617.2 1653.9 619.8 1653.1 622.4 1653.2 625.0 1653.9 627.6 1654.6 630.2 1654.7 632.8 1654.2 635.4 1653.4 638.0 1652.8 640.6 1652.6 643.2 1652.5 645.8 1652.5 648.4 1652.6 651.1 1652.9 653.7 1653.9 656.3 1655.2 658.9 1655.2 661.5 1654.0 664.1 1653.2 666.7 1653.5" fill="none" stroke="#25b3c4" stroke-width="1.5" stroke-opacity="0.95" stroke-linecap="butt"/>
<path d="M102.2 1654.4 105.3 1655.0 108.4 1656.1M112.4 1654.9 114.9 1653.5 117.4 1652.8 120.0 1652.6 122.5 1652.5 125.1 1652.5 127.6 1652.6 130.1 1653.0 132.7 1653.8 135.2 1654.4 137.8 1653.9 140.3 1653.1 142.8 1652.7 145.4 1652.9 147.9 1653.5 150.5 1654.2 153.0 1654.6 155.5 1654.5 158.1 1654.3M162.0 1653.7 164.6 1653.4 167.1 1654.2 169.6 1655.0 172.2 1654.6 174.7 1653.4 177.2 1652.8 179.7 1652.7 182.3 1653.0 184.8 1653.7 187.3 1654.4 189.9 1654.8 192.4 1654.4 194.9 1653.6 197.5 1653.0 200.0 1652.6 202.5 1652.5 205.0 1652.6 207.6 1652.8 210.1 1653.3 212.6 1654.0 215.2 1654.0 217.7 1653.4 220.2 1652.9 222.8 1653.0 225.3 1653.7 227.8 1655.0 230.3 1656.3M236.0 1655.1 238.5 1653.6 241.0 1652.9 243.6 1652.6 246.1 1652.6 248.6 1652.7 251.1 1653.2 253.6 1654.0 256.2 1655.1 258.7 1655.4 261.2 1654.8 263.7 1653.8 266.3 1653.0 268.8 1652.6 271.3 1652.5 273.8 1652.5 276.3 1652.5 278.9 1652.6 281.4 1653.1 283.9 1654.2 286.4 1655.3 289.0 1655.0 291.5 1653.8 294.0 1652.9 296.5 1652.6 299.1 1652.5 301.6 1652.5 304.1 1652.6 306.6 1652.8 309.1 1653.4 311.7 1654.3 314.2 1654.8 316.7 1654.6 319.2 1653.9 321.8 1653.1 324.3 1652.7 326.8 1652.6 329.3 1652.6 331.8 1652.9 334.4 1653.7 336.9 1654.6 339.4 1654.7 341.9 1653.8 344.5 1653.0 347.0 1652.6 349.5 1652.5 352.0 1652.6 354.5 1652.9 357.1 1653.8 359.6 1654.6 362.1 1654.1 364.6 1653.1 367.2 1652.6 369.7 1652.5 372.2 1652.5 374.7 1652.6 377.3 1652.8 379.8 1653.3 382.3 1654.2 384.8 1655.1 387.3 1655.4 389.9 1654.9 392.4 1653.9 394.9 1653.2 397.4 1652.7 400.0 1652.6 402.5 1652.7 405.0 1653.0 407.5 1653.8 410.0 1654.6 412.6 1655.0 415.1 1654.5 417.6 1653.6 420.1 1653.0 422.7 1653.0 425.2 1653.8 427.7 1654.8 430.2 1655.1 432.8 1654.3 435.3 1653.3 437.8 1652.8 440.3 1652.8 442.8 1653.4 445.4 1654.1 447.9 1654.4 450.4 1653.9 452.9 1653.2 455.5 1652.8 458.0 1652.7 460.5 1653.2 463.0 1654.0 465.5 1654.8 468.1 1654.7 470.6 1653.9 473.1 1653.2 475.6 1653.1 478.2 1653.5M483.8 1654.4 486.3 1654.5 488.8 1654.3 491.3 1653.6 493.8 1653.0 496.3 1652.6 498.9 1652.6 501.4 1653.1 503.9 1653.9 506.4 1654.4 508.9 1653.9 511.4 1653.1 513.9 1652.6 516.4 1652.6 518.9 1652.7 521.4 1653.1 523.9 1653.7 526.5 1654.2 529.0 1654.0 531.5 1653.4 534.0 1652.9 536.5 1652.6 539.0 1652.5 541.5 1652.5 544.0 1652.5 546.5 1652.7 549.0 1653.0 551.5 1653.7 554.1 1654.4 556.6 1654.7 559.1 1654.2 561.6 1653.4 564.1 1652.8 566.6 1652.6 569.1 1652.5 571.6 1652.5 574.1 1652.5 576.6 1652.6 579.1 1652.8 581.6 1653.5 584.2 1654.1 586.7 1653.9 589.2 1653.2 591.7 1652.8 594.2 1652.9 596.7 1653.4M611.9 1656.4 614.6 1655.2 617.2 1653.9 619.8 1653.1 622.4 1653.2 625.0 1653.9 627.6 1654.6 630.2 1654.7 632.8 1654.2 635.4 1653.4 638.0 1652.8 640.6 1652.6 643.2 1652.5 645.8 1652.5 648.4 1652.6 651.1 1652.9 653.7 1653.9 656.3 1655.2 658.9 1655.2 661.5 1654.0 664.1 1653.2 666.7 1653.5" fill="none" stroke="#f4c531" stroke-width="1.0" stroke-opacity="1.0" stroke-linecap="butt" stroke-dasharray="16 5 7 4 24 8"/>
<path d="M102.2 1654.4 105.3 1655.0 108.4 1656.1M112.4 1654.9 114.9 1653.5 117.4 1652.8 120.0 1652.6 122.5 1652.5 125.1 1652.5 127.6 1652.6 130.1 1653.0 132.7 1653.8 135.2 1654.4 137.8 1653.9 140.3 1653.1 142.8 1652.7 145.4 1652.9 147.9 1653.5 150.5 1654.2 153.0 1654.6 155.5 1654.5 158.1 1654.3M162.0 1653.7 164.6 1653.4 167.1 1654.2 169.6 1655.0 172.2 1654.6 174.7 1653.4 177.2 1652.8 179.7 1652.7 182.3 1653.0 184.8 1653.7 187.3 1654.4 189.9 1654.8 192.4 1654.4 194.9 1653.6 197.5 1653.0 200.0 1652.6 202.5 1652.5 205.0 1652.6 207.6 1652.8 210.1 1653.3 212.6 1654.0 215.2 1654.0 217.7 1653.4 220.2 1652.9 222.8 1653.0 225.3 1653.7 227.8 1655.0 230.3 1656.3M236.0 1655.1 238.5 1653.6 241.0 1652.9 243.6 1652.6 246.1 1652.6 248.6 1652.7 251.1 1653.2 253.6 1654.0 256.2 1655.1 258.7 1655.4 261.2 1654.8 263.7 1653.8 266.3 1653.0 268.8 1652.6 271.3 1652.5 273.8 1652.5 276.3 1652.5 278.9 1652.6 281.4 1653.1 283.9 1654.2 286.4 1655.3 289.0 1655.0 291.5 1653.8 294.0 1652.9 296.5 1652.6 299.1 1652.5 301.6 1652.5 304.1 1652.6 306.6 1652.8 309.1 1653.4 311.7 1654.3 314.2 1654.8 316.7 1654.6 319.2 1653.9 321.8 1653.1 324.3 1652.7 326.8 1652.6 329.3 1652.6 331.8 1652.9 334.4 1653.7 336.9 1654.6 339.4 1654.7 341.9 1653.8 344.5 1653.0 347.0 1652.6 349.5 1652.5 352.0 1652.6 354.5 1652.9 357.1 1653.8 359.6 1654.6 362.1 1654.1 364.6 1653.1 367.2 1652.6 369.7 1652.5 372.2 1652.5 374.7 1652.6 377.3 1652.8 379.8 1653.3 382.3 1654.2 384.8 1655.1 387.3 1655.4 389.9 1654.9 392.4 1653.9 394.9 1653.2 397.4 1652.7 400.0 1652.6 402.5 1652.7 405.0 1653.0 407.5 1653.8 410.0 1654.6 412.6 1655.0 415.1 1654.5 417.6 1653.6 420.1 1653.0 422.7 1653.0 425.2 1653.8 427.7 1654.8 430.2 1655.1 432.8 1654.3 435.3 1653.3 437.8 1652.8 440.3 1652.8 442.8 1653.4 445.4 1654.1 447.9 1654.4 450.4 1653.9 452.9 1653.2 455.5 1652.8 458.0 1652.7 460.5 1653.2 463.0 1654.0 465.5 1654.8 468.1 1654.7 470.6 1653.9 473.1 1653.2 475.6 1653.1 478.2 1653.5M483.8 1654.4 486.3 1654.5 488.8 1654.3 491.3 1653.6 493.8 1653.0 496.3 1652.6 498.9 1652.6 501.4 1653.1 503.9 1653.9 506.4 1654.4 508.9 1653.9 511.4 1653.1 513.9 1652.6 516.4 1652.6 518.9 1652.7 521.4 1653.1 523.9 1653.7 526.5 1654.2 529.0 1654.0 531.5 1653.4 534.0 1652.9 536.5 1652.6 539.0 1652.5 541.5 1652.5 544.0 1652.5 546.5 1652.7 549.0 1653.0 551.5 1653.7 554.1 1654.4 556.6 1654.7 559.1 1654.2 561.6 1653.4 564.1 1652.8 566.6 1652.6 569.1 1652.5 571.6 1652.5 574.1 1652.5 576.6 1652.6 579.1 1652.8 581.6 1653.5 584.2 1654.1 586.7 1653.9 589.2 1653.2 591.7 1652.8 594.2 1652.9 596.7 1653.4M611.9 1656.4 614.6 1655.2 617.2 1653.9 619.8 1653.1 622.4 1653.2 625.0 1653.9 627.6 1654.6 630.2 1654.7 632.8 1654.2 635.4 1653.4 638.0 1652.8 640.6 1652.6 643.2 1652.5 645.8 1652.5 648.4 1652.6 651.1 1652.9 653.7 1653.9 656.3 1655.2 658.9 1655.2 661.5 1654.0 664.1 1653.2 666.7 1653.5" fill="none" stroke="#f08b2e" stroke-width="0.9" stroke-opacity="0.7" stroke-linecap="butt" stroke-dasharray="6 33"/>
<path d="M231.5 1329.2h5.5M153.3 1333.3h4.5M327.6 1331.2h4.3M379.7 1333.8h4.0M374.2 1332.7h4.6M368.3 1332.8h5.3M159.9 1330.8h6.1M165.7 1330.5h5.5M381.1 1331.9h2.7M141.8 1331.4h3.0M628.9 1332.8h6.4M264.0 1333.6h4.1M193.7 1331.6h3.6M303.5 1331.5h3.0M189.2 1331.5h2.4M605.2 1330.5h6.5" stroke="#4a66ee" stroke-width="1.3" stroke-opacity="0.45" fill="none"/>
<path d="M362.0 1457.6h2.7M585.0 1301.9h4.5M602.5 1333.5h4.8M446.9 1316.6h3.9M494.9 1491.0h5.6M193.0 1400.2h2.6M385.9 1691.3h5.0M534.0 1462.0h5.7M162.4 1422.8h5.4M507.2 1478.2h2.4M253.6 1388.3h3.4M553.5 1383.9h6.4M592.1 1322.5h3.9M377.9 1309.2h4.1M607.0 1346.8h5.0M173.2 1544.8h6.5M218.4 1302.7h2.4M404.4 1306.6h2.4M380.6 1690.0h4.1M326.2 1570.3h2.5M426.5 1372.4h5.0M635.7 1322.2h4.8M441.2 1362.6h3.3M655.9 1722.7h2.6M496.0 1702.8h3.2M443.8 1317.5h3.8M478.7 1549.7h5.9M154.1 1446.6h6.3M428.9 1490.7h4.0M651.0 1543.0h2.1M547.9 1438.7h4.2M224.1 1487.6h3.6M155.3 1566.4h2.5M539.4 1310.0h5.9M552.4 1510.3h5.5M243.4 1612.2h4.1M233.8 1708.4h4.0M312.3 1664.1h3.8M475.0 1371.8h6.2M249.2 1320.6h6.9" stroke="#4a5fe6" stroke-width="1.3" stroke-opacity="0.35" fill="none"/>
<path d="M421.9 1494.9h2.1M361.8 1497.0h5.3M194.7 1494.0h3.2M632.6 1617.3h6.3M439.5 1494.6h6.1M251.1 1630.2h5.3M179.7 1631.9h5.1M130.7 1672.9h3.0M608.7 1621.6h3.2M474.5 1494.7h2.3M429.2 1631.1h6.8M237.9 1674.5h6.1M469.7 1672.4h4.8M312.9 1626.8h5.9" stroke="#4a66ee" stroke-width="1.3" stroke-opacity="0.4" fill="none"/>
<rect x="275.7" y="1390.4" width="56.7" height="42.0" fill="none" stroke="#fe0000" stroke-width="5.2"/>
</g>
<path d="M102.7 1279.7L666.2 1279.7" stroke="#111" stroke-width="1.4" stroke-linecap="square" fill="none"/>
<path d="M666.2 1279.7L666.2 1733.1" stroke="#333" stroke-width="1.0" stroke-linecap="square" fill="none"/>
<path d="M102.7 1733.1L636.0 1733.1" stroke="#111" stroke-width="1.6" stroke-linecap="square" fill="none"/>
<path d="M636.0 1733.1L666.2 1733.1" stroke="#555" stroke-width="0.9" stroke-linecap="square" fill="none"/>
<path d="M102.7 1279.7L102.7 1733.1" stroke="#111" stroke-width="1.5" stroke-linecap="square" fill="none"/>
<path d="M243.3 1733.6v-6.0M243.3 1279.2v6.0M384.4 1733.6v-6.0M384.4 1279.2v6.0M525.6 1733.6v-6.0M525.6 1279.2v6.0M102.2 1688.2h6.0M666.7 1688.2h-6.0M102.2 1642.7h6.0M666.7 1642.7h-6.0M102.2 1597.3h6.0M666.7 1597.3h-6.0M102.2 1551.8h6.0M666.7 1551.8h-6.0M102.2 1506.4h6.0M666.7 1506.4h-6.0M102.2 1461.0h6.0M666.7 1461.0h-6.0M102.2 1415.5h6.0M666.7 1415.5h-6.0M102.2 1370.1h6.0M666.7 1370.1h-6.0M102.2 1324.6h6.0M666.7 1324.6h-6.0" stroke="#222" stroke-width="1.1" fill="none"/>
<g font-family="'Liberation Sans', Arial, sans-serif" font-size="18.3" fill="#262626">
<g text-anchor="end">
<text transform="translate(95.5 1741.4) scale(0.94 1)">0</text>
<text transform="translate(95.5 1696.0) scale(0.94 1)">100</text>
<text transform="translate(95.5 1650.5) scale(0.94 1)">200</text>
<text transform="translate(95.5 1605.1) scale(0.94 1)">300</text>
<text transform="translate(95.5 1559.6) scale(0.94 1)">400</text>
<text transform="translate(95.5 1514.2) scale(0.94 1)">500</text>
<text transform="translate(95.5 1468.8) scale(0.94 1)">600</text>
<text transform="translate(95.5 1423.3) scale(0.94 1)">700</text>
<text transform="translate(95.5 1377.9) scale(0.94 1)">800</text>
<text transform="translate(95.5 1332.4) scale(0.94 1)">900</text>
<text transform="translate(95.5 1287.0) scale(0.94 1)">1000</text>
</g><g text-anchor="middle">
<text transform="translate(102.2 1759.2) scale(0.94 1)">0</text>
<text transform="translate(243.3 1759.2) scale(0.94 1)">0.5</text>
<text transform="translate(384.4 1759.2) scale(0.94 1)">1</text>
<text transform="translate(525.6 1759.2) scale(0.94 1)">1.5</text>
<text transform="translate(666.7 1759.2) scale(0.94 1)">2</text>
</g></g>
<g font-family="'Liberation Serif', 'Times New Roman', serif" font-size="23.2" fill="#262626" text-anchor="middle">
<text x="384.5" y="1786.0">Time / s</text>
<text transform="translate(48.1 1506.4) rotate(-90)">Fre / Hz</text>
</g></g>
<g id="panel-j">
<rect x="830.2" y="1291.1" width="564.6" height="446.2" fill="#3e26a8"/>
<clipPath id="clip-j"><rect x="830.2" y="1291.1" width="564.6" height="446.2"/></clipPath>
<g clip-path="url(#clip-j)">
<filter id="b3" x="-5%" y="-50%" width="110%" height="200%"><feGaussianBlur stdDeviation="0.8"/></filter>
<path d="M840.0 1482.5 845.6 1482.5 845.6 1484.7 859.8 1484.7 859.8 1486.9 924.7 1486.9 924.7 1484.7 947.3 1484.7 947.3 1482.5 965.0 1482.5 965.0 1485.2 955.8 1485.2 955.8 1487.4 927.5 1487.4 927.5 1489.7 851.3 1489.7 851.3 1487.4 845.6 1487.4 845.6 1485.2 840.0 1485.2Z" fill="#3a66ee" fill-opacity="0.8" filter="url(#b3)"/>
<path d="M1105.0 1478.0 1110.6 1478.0 1110.6 1480.2 1124.8 1480.2 1124.8 1482.5 1138.9 1482.5 1138.9 1480.2 1150.2 1480.2 1150.2 1478.0 1161.5 1478.0 1161.5 1475.8 1176.0 1475.8 1176.0 1478.5 1164.3 1478.5 1164.3 1480.7 1155.8 1480.7 1155.8 1483.0 1144.5 1483.0 1144.5 1485.2 1119.1 1485.2 1119.1 1483.0 1105.0 1483.0Z" fill="#3a66ee" fill-opacity="0.8" filter="url(#b3)"/>
<path d="M1252.0 1475.8 1266.1 1475.8 1266.1 1478.0 1294.4 1478.0 1294.4 1475.8 1296.0 1475.8 1296.0 1480.7 1263.3 1480.7 1263.3 1478.5 1252.0 1478.5Z" fill="#3a66ee" fill-opacity="0.8" filter="url(#b3)"/>
<path d="M1345.0 1475.8 1367.6 1475.8 1367.6 1473.5 1390.2 1473.5 1390.2 1471.3 1395.0 1471.3 1395.0 1474.0 1390.2 1474.0 1390.2 1476.3 1367.6 1476.3 1367.6 1478.5 1345.0 1478.5Z" fill="#3a66ee" fill-opacity="0.8" filter="url(#b3)"/>
<path d="M1352 1477L1372 1480L1384 1485L1392 1491L1395 1476Z" fill="#3a66ee" fill-opacity="0.4" filter="url(#b3)"/>
<path d="M830.2 1477.9 886.7 1477.9 886.7 1480.1 923.4 1480.1 923.4 1477.9 968.6 1477.9 968.6 1475.7 982.7 1475.7 982.7 1473.4 994.0 1473.4 994.0 1471.2 1016.6 1471.2 1016.6 1469.0 1058.9 1469.0 1058.9 1471.2 1095.7 1471.2 1095.7 1473.4 1112.6 1473.4 1112.6 1475.7 1152.1 1475.7 1152.1 1473.4 1160.6 1473.4 1160.6 1471.2 1183.2 1471.2 1183.2 1469.0 1236.9 1469.0 1236.9 1471.2 1259.4 1471.2 1259.4 1473.4 1299.0 1473.4 1299.0 1471.2 1313.1 1471.2 1313.1 1469.0 1394.8 1469.0 1394.8 1472.4 1389.4 1472.4 1389.4 1474.6 1366.8 1474.6 1366.8 1476.9 1296.2 1476.9 1296.2 1479.1 1265.1 1479.1 1265.1 1476.9 1251.0 1476.9 1251.0 1474.6 1236.9 1474.6 1236.9 1472.4 1197.3 1472.4 1197.3 1474.6 1180.4 1474.6 1180.4 1476.9 1160.6 1476.9 1160.6 1479.1 1152.1 1479.1 1152.1 1481.3 1138.0 1481.3 1138.0 1483.6 1123.9 1483.6 1123.9 1481.3 1109.8 1481.3 1109.8 1479.1 1084.4 1479.1 1084.4 1476.9 1067.4 1476.9 1067.4 1474.6 1056.1 1474.6 1056.1 1472.4 1036.4 1472.4 1036.4 1474.6 1019.4 1474.6 1019.4 1476.9 999.6 1476.9 999.6 1479.1 988.3 1479.1 988.3 1481.3 968.6 1481.3 968.6 1483.6 948.8 1483.6 948.8 1485.8 923.4 1485.8 923.4 1488.0 858.4 1488.0 858.4 1485.8 847.1 1485.8 847.1 1483.6 838.7 1483.6 838.7 1481.3 830.2 1481.3Z" fill="#35b8b0" fill-opacity="0.9"/>
<path d="M830.2 1478.5 886.7 1478.5 886.7 1480.7 923.4 1480.7 923.4 1478.5 968.6 1478.5 968.6 1476.3 982.7 1476.3 982.7 1474.0 994.0 1474.0 994.0 1471.8 1016.6 1471.8 1016.6 1469.6 1058.9 1469.6 1058.9 1471.8 1095.7 1471.8 1095.7 1474.0 1112.6 1474.0 1112.6 1476.3 1152.1 1476.3 1152.1 1474.0 1160.6 1474.0 1160.6 1471.8 1183.2 1471.8 1183.2 1469.6 1236.9 1469.6 1236.9 1471.8 1259.4 1471.8 1259.4 1474.0 1299.0 1474.0 1299.0 1471.8 1313.1 1471.8 1313.1 1469.6 1394.8 1469.6 1394.8 1471.8 1389.4 1471.8 1389.4 1474.0 1366.8 1474.0 1366.8 1476.3 1296.2 1476.3 1296.2 1478.5 1265.1 1478.5 1265.1 1476.3 1251.0 1476.3 1251.0 1474.0 1236.9 1474.0 1236.9 1471.8 1197.3 1471.8 1197.3 1474.0 1180.4 1474.0 1180.4 1476.3 1160.6 1476.3 1160.6 1478.5 1152.1 1478.5 1152.1 1480.7 1138.0 1480.7 1138.0 1483.0 1123.9 1483.0 1123.9 1480.7 1109.8 1480.7 1109.8 1478.5 1084.4 1478.5 1084.4 1476.3 1067.4 1476.3 1067.4 1474.0 1056.1 1474.0 1056.1 1471.8 1036.4 1471.8 1036.4 1474.0 1019.4 1474.0 1019.4 1476.3 999.6 1476.3 999.6 1478.5 988.3 1478.5 988.3 1480.7 968.6 1480.7 968.6 1483.0 948.8 1483.0 948.8 1485.2 923.4 1485.2 923.4 1487.4 858.4 1487.4 858.4 1485.2 847.1 1485.2 847.1 1483.0 838.7 1483.0 838.7 1480.7 830.2 1480.7Z" fill="#f9bd2f"/>
<path d="M834.0 1479.0h2.9v1.3h-2.9zM836.8 1479.1h2.9v1.2h-2.9zM839.6 1479.3h2.9v1.2h-2.9zM842.5 1479.5h2.9v1.9h-2.9zM845.3 1479.6h2.9v2.9h-2.9zM848.1 1479.7h2.9v3.8h-2.9zM850.9 1479.7h2.9v4.4h-2.9zM853.8 1479.8h2.9v5.1h-2.9zM856.6 1479.8h2.9v5.1h-2.9zM859.4 1479.8h2.9v5.2h-2.9zM862.2 1479.9h2.9v5.2h-2.9zM865.1 1479.9h2.9v5.3h-2.9zM867.9 1480.0h2.9v5.3h-2.9zM870.7 1480.0h2.9v5.4h-2.9zM873.5 1480.0h2.9v5.4h-2.9zM876.4 1480.1h2.9v5.5h-2.9zM879.2 1480.1h2.9v5.5h-2.9zM882.0 1480.2h2.9v5.6h-2.9zM884.8 1480.5h2.9v5.3h-2.9zM887.7 1481.2h2.9v4.6h-2.9zM890.5 1481.9h2.9v3.9h-2.9zM893.3 1482.2h2.9v3.6h-2.9zM896.1 1482.2h2.9v3.6h-2.9zM899.0 1482.2h2.9v3.6h-2.9zM901.8 1482.2h2.9v3.6h-2.9zM904.6 1482.2h2.9v3.6h-2.9zM907.4 1482.2h2.9v3.6h-2.9zM910.2 1482.2h2.9v3.6h-2.9zM913.1 1482.2h2.9v3.6h-2.9zM915.9 1482.2h2.9v3.6h-2.9zM918.7 1482.2h2.9v3.6h-2.9zM921.5 1481.4h2.9v3.8h-2.9zM924.4 1480.3h2.9v4.1h-2.9zM927.2 1480.2h2.9v3.6h-2.9zM930.0 1480.2h2.9v3.4h-2.9zM932.8 1480.2h2.9v3.3h-2.9zM935.7 1480.2h2.9v3.1h-2.9zM938.5 1480.2h2.9v3.0h-2.9zM941.3 1480.2h2.9v2.8h-2.9zM944.1 1480.2h2.9v2.6h-2.9zM947.0 1480.2h2.9v2.5h-2.9zM949.8 1480.2h2.9v2.3h-2.9zM952.6 1480.2h2.9v1.9h-2.9zM955.4 1480.2h2.9v1.6h-2.9zM958.3 1480.2h2.9v1.3h-2.9zM966.7 1479.0h2.9v1.5h-2.9zM969.6 1478.0h2.9v2.3h-2.9zM972.4 1477.4h2.9v2.6h-2.9zM975.2 1477.1h2.9v2.6h-2.9zM978.0 1476.8h2.9v2.5h-2.9zM980.8 1476.5h2.9v2.5h-2.9zM983.7 1476.2h2.9v2.4h-2.9zM986.5 1475.9h2.9v2.3h-2.9zM989.3 1475.4h2.9v2.4h-2.9zM992.1 1474.3h2.9v3.0h-2.9zM995.0 1473.2h2.9v3.6h-2.9zM997.8 1472.5h2.9v3.7h-2.9zM1000.6 1472.4h2.9v3.4h-2.9zM1003.4 1472.3h2.9v3.1h-2.9zM1006.3 1472.2h2.9v2.9h-2.9zM1009.1 1472.1h2.9v2.6h-2.9zM1011.9 1472.0h2.9v2.4h-2.9zM1014.7 1471.9h2.9v2.1h-2.9zM1017.6 1471.8h2.9v1.9h-2.9zM1020.4 1471.8h2.9v1.6h-2.9zM1023.2 1471.8h2.9v1.2h-2.9zM1065.6 1472.2h2.9v1.4h-2.9zM1068.4 1472.3h2.9v1.8h-2.9zM1071.2 1472.5h2.9v2.0h-2.9zM1074.0 1472.6h2.9v2.2h-2.9zM1076.9 1472.8h2.9v2.4h-2.9zM1079.7 1473.0h2.9v2.5h-2.9zM1082.5 1473.1h2.9v2.7h-2.9zM1085.3 1473.3h2.9v2.8h-2.9zM1088.2 1473.6h2.9v2.8h-2.9zM1091.0 1473.8h2.9v2.8h-2.9zM1093.8 1474.0h2.9v2.8h-2.9zM1096.6 1474.2h2.9v2.8h-2.9zM1099.5 1474.5h2.9v2.8h-2.9zM1102.3 1474.7h2.9v2.8h-2.9zM1105.1 1475.1h2.9v2.7h-2.9zM1107.9 1475.6h2.9v2.6h-2.9zM1110.8 1476.1h2.9v2.4h-2.9zM1113.6 1476.7h2.9v2.3h-2.9zM1116.4 1477.2h2.9v2.1h-2.9zM1119.2 1477.6h2.9v2.1h-2.9zM1122.0 1477.6h2.9v2.7h-2.9zM1124.9 1477.7h2.9v3.2h-2.9zM1127.7 1477.7h2.9v3.7h-2.9zM1130.5 1477.7h2.9v3.6h-2.9zM1133.3 1477.7h2.9v3.2h-2.9zM1136.2 1477.7h2.9v2.9h-2.9zM1139.0 1477.8h2.9v2.5h-2.9zM1141.8 1477.8h2.9v2.1h-2.9zM1144.6 1477.6h2.9v1.8h-2.9zM1147.5 1477.1h2.9v1.7h-2.9zM1150.3 1476.6h2.9v1.6h-2.9zM1153.1 1476.1h2.9v1.5h-2.9zM1155.9 1475.3h2.9v1.6h-2.9zM1158.8 1474.4h2.9v1.8h-2.9zM1161.6 1473.5h2.9v2.0h-2.9zM1164.4 1472.9h2.9v2.1h-2.9zM1167.2 1472.7h2.9v2.0h-2.9zM1170.1 1472.5h2.9v1.9h-2.9zM1172.9 1472.4h2.9v1.9h-2.9zM1175.7 1472.2h2.9v1.8h-2.9zM1178.5 1472.1h2.9v1.7h-2.9zM1181.4 1471.9h2.9v1.7h-2.9zM1184.2 1471.8h2.9v1.5h-2.9zM1266.1 1474.9h2.9v1.2h-2.9zM1268.9 1475.2h2.9v1.3h-2.9zM1271.7 1475.4h2.9v1.4h-2.9zM1274.5 1475.7h2.9v1.4h-2.9zM1277.4 1475.9h2.9v1.5h-2.9zM1280.2 1476.0h2.9v1.4h-2.9zM1297.1 1474.2h2.9v1.3h-2.9zM1300.0 1473.7h2.9v1.7h-2.9zM1302.8 1473.3h2.9v2.0h-2.9zM1305.6 1472.9h2.9v2.3h-2.9zM1308.4 1472.5h2.9v2.6h-2.9zM1311.3 1472.1h2.9v2.9h-2.9zM1314.1 1471.8h2.9v3.2h-2.9zM1316.9 1471.8h2.9v3.2h-2.9zM1319.7 1471.8h2.9v3.1h-2.9zM1322.6 1471.8h2.9v3.1h-2.9zM1325.4 1471.8h2.9v3.1h-2.9zM1328.2 1471.8h2.9v3.1h-2.9zM1331.0 1471.8h2.9v3.0h-2.9zM1333.8 1471.8h2.9v3.0h-2.9zM1336.7 1471.8h2.9v3.0h-2.9zM1339.5 1471.8h2.9v3.0h-2.9zM1342.3 1471.8h2.9v2.9h-2.9zM1345.1 1471.8h2.9v2.9h-2.9zM1348.0 1471.8h2.9v2.9h-2.9zM1350.8 1471.8h2.9v2.9h-2.9zM1353.6 1471.8h2.9v2.8h-2.9zM1356.4 1471.8h2.9v2.8h-2.9zM1359.3 1471.8h2.9v2.7h-2.9zM1362.1 1471.8h2.9v2.4h-2.9zM1364.9 1471.8h2.9v2.1h-2.9zM1367.7 1471.8h2.9v1.8h-2.9zM1370.6 1471.8h2.9v1.5h-2.9z" fill="#fdd337" fill-opacity="0.5"/>
<path d="M936 1503h6M946 1502h5M870 1490h5M1130 1489h4M1278 1481h5" stroke="#4a66ee" stroke-width="1.4" stroke-opacity="0.6"/>
<path d="M830.5 1433.1H1391.5" stroke="#aaa3dc" stroke-width="1.3" fill="none"/>
</g>
<path d="M830.7 1291.6L1394.3 1291.6" stroke="#333" stroke-width="1.0" stroke-linecap="square" fill="none"/>
<path d="M1394.3 1291.6L1394.3 1736.8" stroke="#333" stroke-width="1.0" stroke-linecap="square" fill="none"/>
<path d="M830.7 1736.8L1394.3 1736.8" stroke="#333" stroke-width="1.0" stroke-linecap="square" fill="none"/>
<path d="M830.7 1291.6L830.7 1736.8" stroke="#333" stroke-width="1.0" stroke-linecap="square" fill="none"/>
<path d="M886.7 1737.3v-6.0M886.7 1291.1v6.0M943.1 1737.3v-6.0M943.1 1291.1v6.0M999.6 1737.3v-6.0M999.6 1291.1v6.0M1056.0 1737.3v-6.0M1056.0 1291.1v6.0M1112.5 1737.3v-6.0M1112.5 1291.1v6.0M1169.0 1737.3v-6.0M1169.0 1291.1v6.0M1225.4 1737.3v-6.0M1225.4 1291.1v6.0M1281.9 1737.3v-6.0M1281.9 1291.1v6.0M1338.3 1737.3v-6.0M1338.3 1291.1v6.0M830.2 1693.6h6.0M1394.8 1693.6h-6.0M830.2 1649.0h6.0M1394.8 1649.0h-6.0M830.2 1604.3h6.0M1394.8 1604.3h-6.0M830.2 1559.7h6.0M1394.8 1559.7h-6.0M830.2 1515.1h6.0M1394.8 1515.1h-6.0M830.2 1470.5h6.0M1394.8 1470.5h-6.0M830.2 1425.9h6.0M1394.8 1425.9h-6.0M830.2 1381.2h6.0M1394.8 1381.2h-6.0M830.2 1336.6h6.0M1394.8 1336.6h-6.0" stroke="#222" stroke-width="1.1" fill="none"/>
<g font-family="'Liberation Serif', 'Times New Roman', serif" font-size="18" fill="#262626">
<g text-anchor="end">
<text transform="translate(824.2 1744.8) scale(0.97 1)">650</text>
<text transform="translate(824.2 1700.2) scale(0.97 1)">660</text>
<text transform="translate(824.2 1655.6) scale(0.97 1)">670</text>
<text transform="translate(824.2 1610.9) scale(0.97 1)">680</text>
<text transform="translate(824.2 1566.3) scale(0.97 1)">690</text>
<text transform="translate(824.2 1521.7) scale(0.97 1)">700</text>
<text transform="translate(824.2 1477.1) scale(0.97 1)">710</text>
<text transform="translate(824.2 1432.5) scale(0.97 1)">720</text>
<text transform="translate(824.2 1387.8) scale(0.97 1)">730</text>
<text transform="translate(824.2 1343.2) scale(0.97 1)">740</text>
<text transform="translate(824.2 1298.6) scale(0.97 1)">750</text>
</g><g text-anchor="middle">
<text transform="translate(829.4 1761.3) scale(0.97 1)">0.6</text>
<text transform="translate(885.9 1761.3) scale(0.97 1)">0.62</text>
<text transform="translate(942.3 1761.3) scale(0.97 1)">0.64</text>
<text transform="translate(998.8 1761.3) scale(0.97 1)">0.66</text>
<text transform="translate(1055.2 1761.3) scale(0.97 1)">0.68</text>
<text transform="translate(1111.7 1761.3) scale(0.97 1)">0.7</text>
<text transform="translate(1168.2 1761.3) scale(0.97 1)">0.72</text>
<text transform="translate(1224.6 1761.3) scale(0.97 1)">0.74</text>
<text transform="translate(1281.1 1761.3) scale(0.97 1)">0.76</text>
<text transform="translate(1337.5 1761.3) scale(0.97 1)">0.78</text>
<text transform="translate(1394.0 1761.3) scale(0.97 1)">0.8</text>
</g></g>
<g font-family="'Liberation Serif', 'Times New Roman', serif" font-size="22.9" fill="#262626" text-anchor="middle">
<text x="1111.9" y="1786.9">Time / s</text>
<text transform="translate(788.2 1514.9) rotate(-90)">Fre / Hz</text>
</g></g>
<g font-family="'Liberation Serif', 'Times New Roman', serif" font-weight="bold" font-size="37" fill="#000">
<text y="584.0"><tspan x="24.4" textLength="40.9" lengthAdjust="spacingAndGlyphs">(e)</tspan> <tspan x="103.0" textLength="45.5" lengthAdjust="spacingAndGlyphs">TF</tspan> <tspan x="156.5" textLength="241.0" lengthAdjust="spacingAndGlyphs">representations</tspan> <tspan x="407.0" textLength="133.4" lengthAdjust="spacingAndGlyphs">obtained</tspan> <tspan x="553.4" textLength="36.3" lengthAdjust="spacingAndGlyphs">by</tspan> <tspan x="600.0" textLength="89.8" lengthAdjust="spacingAndGlyphs">SSET</tspan></text>
<text y="584.0"><tspan x="911.6" textLength="37.2" lengthAdjust="spacingAndGlyphs">(f)</tspan> <tspan x="985.7" textLength="84.5" lengthAdjust="spacingAndGlyphs">Local</tspan> <tspan x="1080.4" textLength="80.4" lengthAdjust="spacingAndGlyphs">zoom</tspan> <tspan x="1172.7" textLength="36.6" lengthAdjust="spacingAndGlyphs">on</tspan> <tspan x="1223.1" textLength="88.5" lengthAdjust="spacingAndGlyphs">SSET</tspan></text>
<text y="1205.7"><tspan x="24.0" textLength="43.0" lengthAdjust="spacingAndGlyphs">(g)</tspan> <tspan x="105.0" textLength="44.0" lengthAdjust="spacingAndGlyphs">TF</tspan> <tspan x="159.0" textLength="239.7" lengthAdjust="spacingAndGlyphs">representations</tspan> <tspan x="409.0" textLength="134.3" lengthAdjust="spacingAndGlyphs">obtained</tspan> <tspan x="557.0" textLength="36.3" lengthAdjust="spacingAndGlyphs">by</tspan> <tspan x="603.0" textLength="157.7" lengthAdjust="spacingAndGlyphs">AWRSET</tspan></text>
<text y="1205.7"><tspan x="871.7" textLength="44.9" lengthAdjust="spacingAndGlyphs">(h)</tspan> <tspan x="954.0" textLength="84.6" lengthAdjust="spacingAndGlyphs">Local</tspan> <tspan x="1048.3" textLength="81.5" lengthAdjust="spacingAndGlyphs">zoom</tspan> <tspan x="1141.4" textLength="36.5" lengthAdjust="spacingAndGlyphs">on</tspan> <tspan x="1191.7" textLength="157.0" lengthAdjust="spacingAndGlyphs">AWRSET</tspan></text>
<text y="1835.7"><tspan x="32.3" textLength="35.0" lengthAdjust="spacingAndGlyphs">(i)</tspan> <tspan x="106.7" textLength="44.0" lengthAdjust="spacingAndGlyphs">TF</tspan> <tspan x="160.0" textLength="240.4" lengthAdjust="spacingAndGlyphs">representations</tspan> <tspan x="411.3" textLength="133.6" lengthAdjust="spacingAndGlyphs">obtained</tspan> <tspan x="558.7" textLength="36.3" lengthAdjust="spacingAndGlyphs">by</tspan> <tspan x="605.3" textLength="178.1" lengthAdjust="spacingAndGlyphs">AWRSSET</tspan></text>
<text y="1835.7"><tspan x="860.3" textLength="36.3" lengthAdjust="spacingAndGlyphs">(j)</tspan> <tspan x="935.0" textLength="86.0" lengthAdjust="spacingAndGlyphs">Local</tspan> <tspan x="1031.7" textLength="80.8" lengthAdjust="spacingAndGlyphs">zoom</tspan> <tspan x="1123.4" textLength="36.3" lengthAdjust="spacingAndGlyphs">on</tspan> <tspan x="1171.7" textLength="180.7" lengthAdjust="spacingAndGlyphs">AWRSSET</tspan></text>
</g>
</svg>
</body></html>
